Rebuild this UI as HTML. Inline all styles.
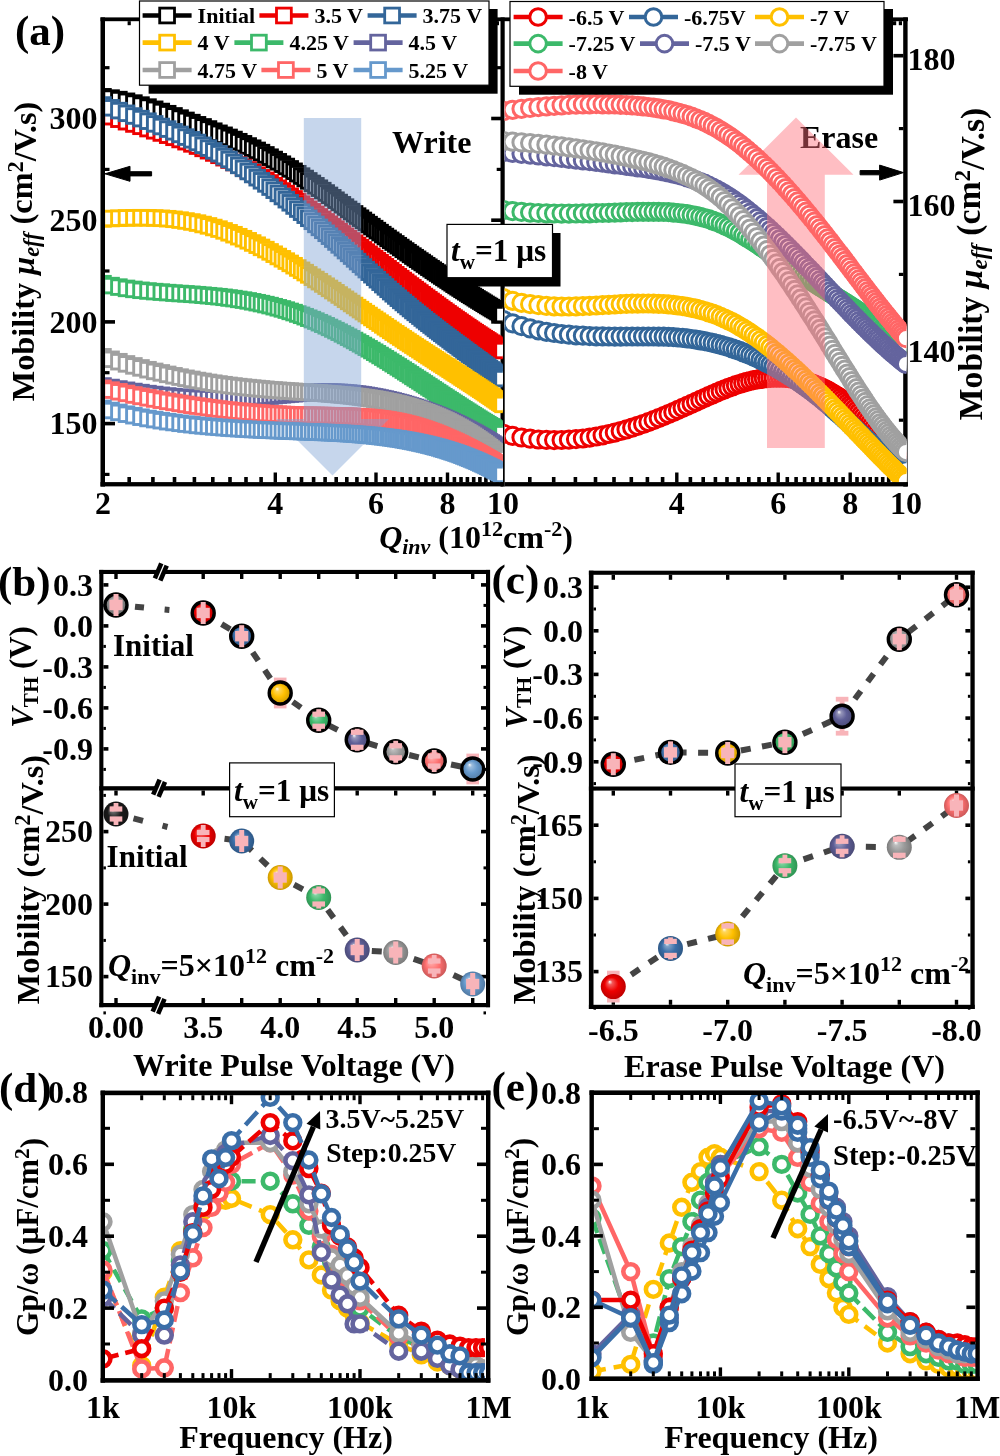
<!DOCTYPE html><html><head><meta charset="utf-8"><style>html,body{margin:0;padding:0;background:#fff;}svg{display:block;font-family:"Liberation Serif",serif;will-change:transform;}</style></head><body><svg width="1000" height="1456" viewBox="0 0 1000 1456" font-family="Liberation Serif, serif" font-weight="bold"><defs>
<clipPath id="cl"><rect x="104" y="20" width="398.8" height="462.2"/></clipPath>
<clipPath id="cr"><rect x="504.6" y="20" width="401.8" height="462.2"/></clipPath>
</defs>
<rect x="273.6" y="472.5" width="3.4" height="10" fill="#000" />
<rect x="675.1" y="472.5" width="3.4" height="10" fill="#000" />
<rect x="374.3" y="472.5" width="3.4" height="10" fill="#000" />
<rect x="776.5" y="472.5" width="3.4" height="10" fill="#000" />
<rect x="445.8" y="472.5" width="3.4" height="10" fill="#000" />
<rect x="848.5" y="472.5" width="3.4" height="10" fill="#000" />
<rect x="127.4" y="477" width="3.6" height="5.5" fill="#000" />
<rect x="528" y="477" width="3.6" height="5.5" fill="#000" />
<rect x="151.1" y="477" width="3.6" height="5.5" fill="#000" />
<rect x="551.9" y="477" width="3.6" height="5.5" fill="#000" />
<rect x="172.7" y="477" width="3.6" height="5.5" fill="#000" />
<rect x="573.6" y="477" width="3.6" height="5.5" fill="#000" />
<rect x="192.6" y="477" width="3.6" height="5.5" fill="#000" />
<rect x="593.7" y="477" width="3.6" height="5.5" fill="#000" />
<rect x="211" y="477" width="3.6" height="5.5" fill="#000" />
<rect x="612.2" y="477" width="3.6" height="5.5" fill="#000" />
<rect x="228.2" y="477" width="3.6" height="5.5" fill="#000" />
<rect x="629.5" y="477" width="3.6" height="5.5" fill="#000" />
<rect x="244.2" y="477" width="3.6" height="5.5" fill="#000" />
<rect x="645.6" y="477" width="3.6" height="5.5" fill="#000" />
<rect x="259.3" y="477" width="3.6" height="5.5" fill="#000" />
<rect x="660.8" y="477" width="3.6" height="5.5" fill="#000" />
<rect x="286.9" y="477" width="3.6" height="5.5" fill="#000" />
<rect x="688.6" y="477" width="3.6" height="5.5" fill="#000" />
<rect x="299.7" y="477" width="3.6" height="5.5" fill="#000" />
<rect x="701.4" y="477" width="3.6" height="5.5" fill="#000" />
<rect x="311.8" y="477" width="3.6" height="5.5" fill="#000" />
<rect x="713.6" y="477" width="3.6" height="5.5" fill="#000" />
<rect x="323.3" y="477" width="3.6" height="5.5" fill="#000" />
<rect x="725.2" y="477" width="3.6" height="5.5" fill="#000" />
<rect x="334.4" y="477" width="3.6" height="5.5" fill="#000" />
<rect x="736.3" y="477" width="3.6" height="5.5" fill="#000" />
<rect x="345" y="477" width="3.6" height="5.5" fill="#000" />
<rect x="747" y="477" width="3.6" height="5.5" fill="#000" />
<rect x="355.1" y="477" width="3.6" height="5.5" fill="#000" />
<rect x="757.2" y="477" width="3.6" height="5.5" fill="#000" />
<rect x="364.9" y="477" width="3.6" height="5.5" fill="#000" />
<rect x="767" y="477" width="3.6" height="5.5" fill="#000" />
<rect x="383.3" y="477" width="3.6" height="5.5" fill="#000" />
<rect x="785.5" y="477" width="3.6" height="5.5" fill="#000" />
<rect x="392" y="477" width="3.6" height="5.5" fill="#000" />
<rect x="794.3" y="477" width="3.6" height="5.5" fill="#000" />
<rect x="400.4" y="477" width="3.6" height="5.5" fill="#000" />
<rect x="802.8" y="477" width="3.6" height="5.5" fill="#000" />
<rect x="408.6" y="477" width="3.6" height="5.5" fill="#000" />
<rect x="811" y="477" width="3.6" height="5.5" fill="#000" />
<rect x="416.5" y="477" width="3.6" height="5.5" fill="#000" />
<rect x="818.9" y="477" width="3.6" height="5.5" fill="#000" />
<rect x="424.1" y="477" width="3.6" height="5.5" fill="#000" />
<rect x="826.6" y="477" width="3.6" height="5.5" fill="#000" />
<rect x="431.5" y="477" width="3.6" height="5.5" fill="#000" />
<rect x="834.1" y="477" width="3.6" height="5.5" fill="#000" />
<rect x="438.7" y="477" width="3.6" height="5.5" fill="#000" />
<rect x="841.3" y="477" width="3.6" height="5.5" fill="#000" />
<rect x="452.6" y="477" width="3.6" height="5.5" fill="#000" />
<rect x="855.2" y="477" width="3.6" height="5.5" fill="#000" />
<rect x="459.2" y="477" width="3.6" height="5.5" fill="#000" />
<rect x="861.9" y="477" width="3.6" height="5.5" fill="#000" />
<rect x="465.6" y="477" width="3.6" height="5.5" fill="#000" />
<rect x="868.4" y="477" width="3.6" height="5.5" fill="#000" />
<rect x="471.9" y="477" width="3.6" height="5.5" fill="#000" />
<rect x="874.7" y="477" width="3.6" height="5.5" fill="#000" />
<rect x="478.1" y="477" width="3.6" height="5.5" fill="#000" />
<rect x="880.9" y="477" width="3.6" height="5.5" fill="#000" />
<rect x="484.1" y="477" width="3.6" height="5.5" fill="#000" />
<rect x="886.9" y="477" width="3.6" height="5.5" fill="#000" />
<rect x="489.9" y="477" width="3.6" height="5.5" fill="#000" />
<rect x="892.8" y="477" width="3.6" height="5.5" fill="#000" />
<rect x="495.6" y="477" width="3.6" height="5.5" fill="#000" />
<rect x="898.6" y="477" width="3.6" height="5.5" fill="#000" />
<rect x="105" y="421.8" width="10" height="3.6" fill="#000" />
<rect x="491.2" y="421.8" width="10" height="3.6" fill="#000" />
<rect x="105" y="320.1" width="10" height="3.6" fill="#000" />
<rect x="491.2" y="320.1" width="10" height="3.6" fill="#000" />
<rect x="105" y="218.4" width="10" height="3.6" fill="#000" />
<rect x="491.2" y="218.4" width="10" height="3.6" fill="#000" />
<rect x="105" y="116.7" width="10" height="3.6" fill="#000" />
<rect x="491.2" y="116.7" width="10" height="3.6" fill="#000" />
<rect x="105" y="472.8" width="4.5" height="3.2" fill="#000" />
<rect x="496.7" y="472.8" width="4.5" height="3.2" fill="#000" />
<rect x="105" y="371.1" width="4.5" height="3.2" fill="#000" />
<rect x="496.7" y="371.1" width="4.5" height="3.2" fill="#000" />
<rect x="105" y="269.4" width="4.5" height="3.2" fill="#000" />
<rect x="496.7" y="269.4" width="4.5" height="3.2" fill="#000" />
<rect x="105" y="167.8" width="4.5" height="3.2" fill="#000" />
<rect x="496.7" y="167.8" width="4.5" height="3.2" fill="#000" />
<rect x="105" y="66.1" width="4.5" height="3.2" fill="#000" />
<rect x="496.7" y="66.1" width="4.5" height="3.2" fill="#000" />
<rect x="893.4" y="345.5" width="10" height="3.6" fill="#000" />
<rect x="893.4" y="199.7" width="10" height="3.6" fill="#000" />
<rect x="893.4" y="53.9" width="10" height="3.6" fill="#000" />
<rect x="898.9" y="418.6" width="4.5" height="3.2" fill="#000" />
<rect x="898.9" y="272.8" width="4.5" height="3.2" fill="#000" />
<rect x="898.9" y="127" width="4.5" height="3.2" fill="#000" />
<rect x="127.6" y="21.2" width="3.2" height="4" fill="#000" />
<rect x="528.2" y="21.2" width="3.2" height="4" fill="#000" />
<rect x="151.3" y="21.2" width="3.2" height="4" fill="#000" />
<rect x="552.1" y="21.2" width="3.2" height="4" fill="#000" />
<rect x="172.9" y="21.2" width="3.2" height="4" fill="#000" />
<rect x="573.8" y="21.2" width="3.2" height="4" fill="#000" />
<rect x="192.8" y="21.2" width="3.2" height="4" fill="#000" />
<rect x="593.9" y="21.2" width="3.2" height="4" fill="#000" />
<rect x="211.2" y="21.2" width="3.2" height="4" fill="#000" />
<rect x="612.4" y="21.2" width="3.2" height="4" fill="#000" />
<rect x="228.4" y="21.2" width="3.2" height="4" fill="#000" />
<rect x="629.7" y="21.2" width="3.2" height="4" fill="#000" />
<rect x="244.4" y="21.2" width="3.2" height="4" fill="#000" />
<rect x="645.8" y="21.2" width="3.2" height="4" fill="#000" />
<rect x="259.5" y="21.2" width="3.2" height="4" fill="#000" />
<rect x="661" y="21.2" width="3.2" height="4" fill="#000" />
<rect x="287.1" y="21.2" width="3.2" height="4" fill="#000" />
<rect x="688.8" y="21.2" width="3.2" height="4" fill="#000" />
<rect x="299.9" y="21.2" width="3.2" height="4" fill="#000" />
<rect x="701.6" y="21.2" width="3.2" height="4" fill="#000" />
<rect x="312" y="21.2" width="3.2" height="4" fill="#000" />
<rect x="713.8" y="21.2" width="3.2" height="4" fill="#000" />
<rect x="323.5" y="21.2" width="3.2" height="4" fill="#000" />
<rect x="725.4" y="21.2" width="3.2" height="4" fill="#000" />
<rect x="334.6" y="21.2" width="3.2" height="4" fill="#000" />
<rect x="736.5" y="21.2" width="3.2" height="4" fill="#000" />
<rect x="345.2" y="21.2" width="3.2" height="4" fill="#000" />
<rect x="747.2" y="21.2" width="3.2" height="4" fill="#000" />
<rect x="355.3" y="21.2" width="3.2" height="4" fill="#000" />
<rect x="757.4" y="21.2" width="3.2" height="4" fill="#000" />
<rect x="365.1" y="21.2" width="3.2" height="4" fill="#000" />
<rect x="767.2" y="21.2" width="3.2" height="4" fill="#000" />
<rect x="383.5" y="21.2" width="3.2" height="4" fill="#000" />
<rect x="785.7" y="21.2" width="3.2" height="4" fill="#000" />
<rect x="392.2" y="21.2" width="3.2" height="4" fill="#000" />
<rect x="794.5" y="21.2" width="3.2" height="4" fill="#000" />
<rect x="400.6" y="21.2" width="3.2" height="4" fill="#000" />
<rect x="803" y="21.2" width="3.2" height="4" fill="#000" />
<rect x="408.8" y="21.2" width="3.2" height="4" fill="#000" />
<rect x="811.2" y="21.2" width="3.2" height="4" fill="#000" />
<rect x="416.7" y="21.2" width="3.2" height="4" fill="#000" />
<rect x="819.1" y="21.2" width="3.2" height="4" fill="#000" />
<rect x="424.3" y="21.2" width="3.2" height="4" fill="#000" />
<rect x="826.8" y="21.2" width="3.2" height="4" fill="#000" />
<rect x="431.7" y="21.2" width="3.2" height="4" fill="#000" />
<rect x="834.3" y="21.2" width="3.2" height="4" fill="#000" />
<rect x="438.9" y="21.2" width="3.2" height="4" fill="#000" />
<rect x="841.5" y="21.2" width="3.2" height="4" fill="#000" />
<rect x="452.8" y="21.2" width="3.2" height="4" fill="#000" />
<rect x="855.4" y="21.2" width="3.2" height="4" fill="#000" />
<rect x="459.4" y="21.2" width="3.2" height="4" fill="#000" />
<rect x="862.1" y="21.2" width="3.2" height="4" fill="#000" />
<rect x="465.8" y="21.2" width="3.2" height="4" fill="#000" />
<rect x="868.6" y="21.2" width="3.2" height="4" fill="#000" />
<rect x="472.1" y="21.2" width="3.2" height="4" fill="#000" />
<rect x="874.9" y="21.2" width="3.2" height="4" fill="#000" />
<rect x="478.3" y="21.2" width="3.2" height="4" fill="#000" />
<rect x="881.1" y="21.2" width="3.2" height="4" fill="#000" />
<rect x="484.3" y="21.2" width="3.2" height="4" fill="#000" />
<rect x="887.1" y="21.2" width="3.2" height="4" fill="#000" />
<rect x="490.1" y="21.2" width="3.2" height="4" fill="#000" />
<rect x="893" y="21.2" width="3.2" height="4" fill="#000" />
<rect x="495.8" y="21.2" width="3.2" height="4" fill="#000" />
<rect x="898.8" y="21.2" width="3.2" height="4" fill="#000" />
<rect x="500.5" y="17.4" width="4.2" height="469.2" fill="#000" />
<rect x="903.2" y="17.4" width="4.4" height="469.2" fill="#000" />
<g fill="#fff" stroke="#000000" stroke-width="2.9" clip-path="url(#cl)"><rect x="95.7" y="89.5" width="14.6" height="14.6"/><rect x="103.8" y="90.8" width="14.6" height="14.6"/><rect x="111.6" y="92.3" width="14.6" height="14.6"/><rect x="119.2" y="94" width="14.6" height="14.6"/><rect x="126.6" y="95.8" width="14.6" height="14.6"/><rect x="133.7" y="97.8" width="14.6" height="14.6"/><rect x="140.7" y="99.8" width="14.6" height="14.6"/><rect x="147.4" y="102" width="14.6" height="14.6"/><rect x="154" y="104.2" width="14.6" height="14.6"/><rect x="160.4" y="106.4" width="14.6" height="14.6"/><rect x="166.7" y="108.6" width="14.6" height="14.6"/><rect x="172.8" y="110.8" width="14.6" height="14.6"/><rect x="178.7" y="113.1" width="14.6" height="14.6"/><rect x="184.6" y="115.3" width="14.6" height="14.6"/><rect x="190.2" y="117.5" width="14.6" height="14.6"/><rect x="195.8" y="119.6" width="14.6" height="14.6"/><rect x="201.2" y="121.7" width="14.6" height="14.6"/><rect x="206.5" y="123.9" width="14.6" height="14.6"/><rect x="211.7" y="126" width="14.6" height="14.6"/><rect x="216.8" y="128" width="14.6" height="14.6"/><rect x="221.8" y="130.1" width="14.6" height="14.6"/><rect x="226.7" y="132.2" width="14.6" height="14.6"/><rect x="231.5" y="134.4" width="14.6" height="14.6"/><rect x="236.2" y="136.5" width="14.6" height="14.6"/><rect x="240.9" y="138.7" width="14.6" height="14.6"/><rect x="245.4" y="140.9" width="14.6" height="14.6"/><rect x="249.9" y="143.1" width="14.6" height="14.6"/><rect x="254.2" y="145.3" width="14.6" height="14.6"/><rect x="258.6" y="147.6" width="14.6" height="14.6"/><rect x="262.8" y="149.9" width="14.6" height="14.6"/><rect x="266.9" y="152.2" width="14.6" height="14.6"/><rect x="271" y="154.5" width="14.6" height="14.6"/><rect x="275.1" y="156.9" width="14.6" height="14.6"/><rect x="279" y="159.2" width="14.6" height="14.6"/><rect x="282.9" y="161.6" width="14.6" height="14.6"/><rect x="286.8" y="164" width="14.6" height="14.6"/><rect x="290.5" y="166.4" width="14.6" height="14.6"/><rect x="294.3" y="168.8" width="14.6" height="14.6"/><rect x="297.9" y="171.2" width="14.6" height="14.6"/><rect x="301.5" y="173.6" width="14.6" height="14.6"/><rect x="305.1" y="176.1" width="14.6" height="14.6"/><rect x="308.6" y="178.5" width="14.6" height="14.6"/><rect x="312.1" y="180.9" width="14.6" height="14.6"/><rect x="315.5" y="183.3" width="14.6" height="14.6"/><rect x="318.9" y="185.7" width="14.6" height="14.6"/><rect x="322.2" y="188.1" width="14.6" height="14.6"/><rect x="325.5" y="190.5" width="14.6" height="14.6"/><rect x="328.7" y="192.9" width="14.6" height="14.6"/><rect x="331.9" y="195.2" width="14.6" height="14.6"/><rect x="335.1" y="197.5" width="14.6" height="14.6"/><rect x="338.2" y="199.8" width="14.6" height="14.6"/><rect x="341.3" y="202.1" width="14.6" height="14.6"/><rect x="344.3" y="204.3" width="14.6" height="14.6"/><rect x="347.3" y="206.6" width="14.6" height="14.6"/><rect x="350.3" y="208.8" width="14.6" height="14.6"/><rect x="353.2" y="210.9" width="14.6" height="14.6"/><rect x="356.1" y="213.1" width="14.6" height="14.6"/><rect x="359" y="215.2" width="14.6" height="14.6"/><rect x="361.8" y="217.3" width="14.6" height="14.6"/><rect x="364.6" y="219.3" width="14.6" height="14.6"/><rect x="367.4" y="221.3" width="14.6" height="14.6"/><rect x="370.1" y="223.3" width="14.6" height="14.6"/><rect x="372.8" y="225.3" width="14.6" height="14.6"/><rect x="375.5" y="227.3" width="14.6" height="14.6"/><rect x="378.1" y="229.2" width="14.6" height="14.6"/><rect x="380.8" y="231.1" width="14.6" height="14.6"/><rect x="383.4" y="233" width="14.6" height="14.6"/><rect x="385.9" y="234.8" width="14.6" height="14.6"/><rect x="388.5" y="236.6" width="14.6" height="14.6"/><rect x="391" y="238.4" width="14.6" height="14.6"/><rect x="393.5" y="240.2" width="14.6" height="14.6"/><rect x="396" y="242" width="14.6" height="14.6"/><rect x="398.4" y="243.7" width="14.6" height="14.6"/><rect x="400.8" y="245.4" width="14.6" height="14.6"/><rect x="403.2" y="247.1" width="14.6" height="14.6"/><rect x="405.6" y="248.8" width="14.6" height="14.6"/><rect x="407.9" y="250.4" width="14.6" height="14.6"/><rect x="410.3" y="252" width="14.6" height="14.6"/><rect x="412.6" y="253.7" width="14.6" height="14.6"/><rect x="414.9" y="255.2" width="14.6" height="14.6"/><rect x="417.1" y="256.8" width="14.6" height="14.6"/><rect x="419.4" y="258.4" width="14.6" height="14.6"/><rect x="421.6" y="259.9" width="14.6" height="14.6"/><rect x="423.8" y="261.4" width="14.6" height="14.6"/><rect x="426" y="262.9" width="14.6" height="14.6"/><rect x="428.1" y="264.4" width="14.6" height="14.6"/><rect x="430.3" y="265.8" width="14.6" height="14.6"/><rect x="432.4" y="267.3" width="14.6" height="14.6"/><rect x="434.5" y="268.7" width="14.6" height="14.6"/><rect x="436.6" y="270.1" width="14.6" height="14.6"/><rect x="438.7" y="271.5" width="14.6" height="14.6"/><rect x="440.8" y="272.8" width="14.6" height="14.6"/><rect x="442.8" y="274.2" width="14.6" height="14.6"/><rect x="444.8" y="275.5" width="14.6" height="14.6"/><rect x="446.8" y="276.9" width="14.6" height="14.6"/><rect x="448.8" y="278.2" width="14.6" height="14.6"/><rect x="450.8" y="279.5" width="14.6" height="14.6"/><rect x="452.8" y="280.7" width="14.6" height="14.6"/><rect x="454.7" y="282" width="14.6" height="14.6"/><rect x="456.6" y="283.2" width="14.6" height="14.6"/><rect x="458.5" y="284.5" width="14.6" height="14.6"/><rect x="460.5" y="285.7" width="14.6" height="14.6"/><rect x="462.3" y="286.9" width="14.6" height="14.6"/><rect x="464.2" y="288.1" width="14.6" height="14.6"/><rect x="466.1" y="289.2" width="14.6" height="14.6"/><rect x="467.9" y="290.4" width="14.6" height="14.6"/><rect x="469.7" y="291.6" width="14.6" height="14.6"/><rect x="471.6" y="292.7" width="14.6" height="14.6"/><rect x="473.4" y="293.8" width="14.6" height="14.6"/><rect x="475.2" y="294.9" width="14.6" height="14.6"/><rect x="476.9" y="296" width="14.6" height="14.6"/><rect x="478.7" y="297.1" width="14.6" height="14.6"/><rect x="480.5" y="298.2" width="14.6" height="14.6"/><rect x="482.2" y="299.2" width="14.6" height="14.6"/><rect x="483.9" y="300.3" width="14.6" height="14.6"/><rect x="485.6" y="301.3" width="14.6" height="14.6"/><rect x="487.3" y="302.3" width="14.6" height="14.6"/><rect x="489" y="303.3" width="14.6" height="14.6"/><rect x="490.7" y="304.3" width="14.6" height="14.6"/><rect x="492.4" y="305.3" width="14.6" height="14.6"/><rect x="494.1" y="306.3" width="14.6" height="14.6"/><rect x="495.7" y="307.3" width="14.6" height="14.6"/></g>
<g fill="#fff" stroke="#EE0000" stroke-width="2.9" clip-path="url(#cl)"><rect x="95.7" y="106.7" width="14.6" height="14.6"/><rect x="103.8" y="109.4" width="14.6" height="14.6"/><rect x="111.6" y="111.9" width="14.6" height="14.6"/><rect x="119.2" y="114.4" width="14.6" height="14.6"/><rect x="126.6" y="116.7" width="14.6" height="14.6"/><rect x="133.7" y="119" width="14.6" height="14.6"/><rect x="140.7" y="121.3" width="14.6" height="14.6"/><rect x="147.4" y="123.5" width="14.6" height="14.6"/><rect x="154" y="125.7" width="14.6" height="14.6"/><rect x="160.4" y="127.9" width="14.6" height="14.6"/><rect x="166.7" y="130" width="14.6" height="14.6"/><rect x="172.8" y="132.2" width="14.6" height="14.6"/><rect x="178.7" y="134.4" width="14.6" height="14.6"/><rect x="184.6" y="136.6" width="14.6" height="14.6"/><rect x="190.2" y="138.8" width="14.6" height="14.6"/><rect x="195.8" y="141.1" width="14.6" height="14.6"/><rect x="201.2" y="143.4" width="14.6" height="14.6"/><rect x="206.5" y="145.7" width="14.6" height="14.6"/><rect x="211.7" y="148" width="14.6" height="14.6"/><rect x="216.8" y="150.4" width="14.6" height="14.6"/><rect x="221.8" y="152.8" width="14.6" height="14.6"/><rect x="226.7" y="155.2" width="14.6" height="14.6"/><rect x="231.5" y="157.7" width="14.6" height="14.6"/><rect x="236.2" y="160.2" width="14.6" height="14.6"/><rect x="240.9" y="162.7" width="14.6" height="14.6"/><rect x="245.4" y="165.3" width="14.6" height="14.6"/><rect x="249.9" y="167.9" width="14.6" height="14.6"/><rect x="254.2" y="170.5" width="14.6" height="14.6"/><rect x="258.6" y="173.1" width="14.6" height="14.6"/><rect x="262.8" y="175.7" width="14.6" height="14.6"/><rect x="266.9" y="178.4" width="14.6" height="14.6"/><rect x="271" y="181" width="14.6" height="14.6"/><rect x="275.1" y="183.7" width="14.6" height="14.6"/><rect x="279" y="186.3" width="14.6" height="14.6"/><rect x="282.9" y="189" width="14.6" height="14.6"/><rect x="286.8" y="191.6" width="14.6" height="14.6"/><rect x="290.5" y="194.2" width="14.6" height="14.6"/><rect x="294.3" y="196.8" width="14.6" height="14.6"/><rect x="297.9" y="199.4" width="14.6" height="14.6"/><rect x="301.5" y="202" width="14.6" height="14.6"/><rect x="305.1" y="204.5" width="14.6" height="14.6"/><rect x="308.6" y="207.1" width="14.6" height="14.6"/><rect x="312.1" y="209.6" width="14.6" height="14.6"/><rect x="315.5" y="212.1" width="14.6" height="14.6"/><rect x="318.9" y="214.6" width="14.6" height="14.6"/><rect x="322.2" y="217" width="14.6" height="14.6"/><rect x="325.5" y="219.5" width="14.6" height="14.6"/><rect x="328.7" y="221.9" width="14.6" height="14.6"/><rect x="331.9" y="224.3" width="14.6" height="14.6"/><rect x="335.1" y="226.6" width="14.6" height="14.6"/><rect x="338.2" y="229" width="14.6" height="14.6"/><rect x="341.3" y="231.3" width="14.6" height="14.6"/><rect x="344.3" y="233.6" width="14.6" height="14.6"/><rect x="347.3" y="235.9" width="14.6" height="14.6"/><rect x="350.3" y="238.2" width="14.6" height="14.6"/><rect x="353.2" y="240.4" width="14.6" height="14.6"/><rect x="356.1" y="242.6" width="14.6" height="14.6"/><rect x="359" y="244.8" width="14.6" height="14.6"/><rect x="361.8" y="247" width="14.6" height="14.6"/><rect x="364.6" y="249.1" width="14.6" height="14.6"/><rect x="367.4" y="251.3" width="14.6" height="14.6"/><rect x="370.1" y="253.4" width="14.6" height="14.6"/><rect x="372.8" y="255.4" width="14.6" height="14.6"/><rect x="375.5" y="257.5" width="14.6" height="14.6"/><rect x="378.1" y="259.5" width="14.6" height="14.6"/><rect x="380.8" y="261.5" width="14.6" height="14.6"/><rect x="383.4" y="263.5" width="14.6" height="14.6"/><rect x="385.9" y="265.5" width="14.6" height="14.6"/><rect x="388.5" y="267.5" width="14.6" height="14.6"/><rect x="391" y="269.4" width="14.6" height="14.6"/><rect x="393.5" y="271.3" width="14.6" height="14.6"/><rect x="396" y="273.2" width="14.6" height="14.6"/><rect x="398.4" y="275" width="14.6" height="14.6"/><rect x="400.8" y="276.9" width="14.6" height="14.6"/><rect x="403.2" y="278.7" width="14.6" height="14.6"/><rect x="405.6" y="280.5" width="14.6" height="14.6"/><rect x="407.9" y="282.3" width="14.6" height="14.6"/><rect x="410.3" y="284" width="14.6" height="14.6"/><rect x="412.6" y="285.7" width="14.6" height="14.6"/><rect x="414.9" y="287.5" width="14.6" height="14.6"/><rect x="417.1" y="289.2" width="14.6" height="14.6"/><rect x="419.4" y="290.8" width="14.6" height="14.6"/><rect x="421.6" y="292.5" width="14.6" height="14.6"/><rect x="423.8" y="294.1" width="14.6" height="14.6"/><rect x="426" y="295.7" width="14.6" height="14.6"/><rect x="428.1" y="297.3" width="14.6" height="14.6"/><rect x="430.3" y="298.9" width="14.6" height="14.6"/><rect x="432.4" y="300.5" width="14.6" height="14.6"/><rect x="434.5" y="302" width="14.6" height="14.6"/><rect x="436.6" y="303.5" width="14.6" height="14.6"/><rect x="438.7" y="305" width="14.6" height="14.6"/><rect x="440.8" y="306.5" width="14.6" height="14.6"/><rect x="442.8" y="308" width="14.6" height="14.6"/><rect x="444.8" y="309.4" width="14.6" height="14.6"/><rect x="446.8" y="310.8" width="14.6" height="14.6"/><rect x="448.8" y="312.2" width="14.6" height="14.6"/><rect x="450.8" y="313.6" width="14.6" height="14.6"/><rect x="452.8" y="315" width="14.6" height="14.6"/><rect x="454.7" y="316.4" width="14.6" height="14.6"/><rect x="456.6" y="317.7" width="14.6" height="14.6"/><rect x="458.5" y="319" width="14.6" height="14.6"/><rect x="460.5" y="320.3" width="14.6" height="14.6"/><rect x="462.3" y="321.6" width="14.6" height="14.6"/><rect x="464.2" y="322.9" width="14.6" height="14.6"/><rect x="466.1" y="324.2" width="14.6" height="14.6"/><rect x="467.9" y="325.4" width="14.6" height="14.6"/><rect x="469.7" y="326.6" width="14.6" height="14.6"/><rect x="471.6" y="327.8" width="14.6" height="14.6"/><rect x="473.4" y="329" width="14.6" height="14.6"/><rect x="475.2" y="330.2" width="14.6" height="14.6"/><rect x="476.9" y="331.4" width="14.6" height="14.6"/><rect x="478.7" y="332.5" width="14.6" height="14.6"/><rect x="480.5" y="333.6" width="14.6" height="14.6"/><rect x="482.2" y="334.8" width="14.6" height="14.6"/><rect x="483.9" y="335.9" width="14.6" height="14.6"/><rect x="485.6" y="336.9" width="14.6" height="14.6"/><rect x="487.3" y="338" width="14.6" height="14.6"/><rect x="489" y="339.1" width="14.6" height="14.6"/><rect x="490.7" y="340.1" width="14.6" height="14.6"/><rect x="492.4" y="341.2" width="14.6" height="14.6"/><rect x="494.1" y="342.2" width="14.6" height="14.6"/><rect x="495.7" y="343.2" width="14.6" height="14.6"/></g>
<g fill="#fff" stroke="#336699" stroke-width="2.9" clip-path="url(#cl)"><rect x="95.7" y="97.7" width="14.6" height="14.6"/><rect x="103.8" y="100.5" width="14.6" height="14.6"/><rect x="111.6" y="103.3" width="14.6" height="14.6"/><rect x="119.2" y="106" width="14.6" height="14.6"/><rect x="126.6" y="108.7" width="14.6" height="14.6"/><rect x="133.7" y="111.3" width="14.6" height="14.6"/><rect x="140.7" y="113.9" width="14.6" height="14.6"/><rect x="147.4" y="116.6" width="14.6" height="14.6"/><rect x="154" y="119.2" width="14.6" height="14.6"/><rect x="160.4" y="121.8" width="14.6" height="14.6"/><rect x="166.7" y="124.5" width="14.6" height="14.6"/><rect x="172.8" y="127.1" width="14.6" height="14.6"/><rect x="178.7" y="129.8" width="14.6" height="14.6"/><rect x="184.6" y="132.5" width="14.6" height="14.6"/><rect x="190.2" y="135.2" width="14.6" height="14.6"/><rect x="195.8" y="138" width="14.6" height="14.6"/><rect x="201.2" y="140.8" width="14.6" height="14.6"/><rect x="206.5" y="143.6" width="14.6" height="14.6"/><rect x="211.7" y="146.4" width="14.6" height="14.6"/><rect x="216.8" y="149.3" width="14.6" height="14.6"/><rect x="221.8" y="152.2" width="14.6" height="14.6"/><rect x="226.7" y="155.2" width="14.6" height="14.6"/><rect x="231.5" y="158.1" width="14.6" height="14.6"/><rect x="236.2" y="161.1" width="14.6" height="14.6"/><rect x="240.9" y="164.2" width="14.6" height="14.6"/><rect x="245.4" y="167.2" width="14.6" height="14.6"/><rect x="249.9" y="170.4" width="14.6" height="14.6"/><rect x="254.2" y="173.5" width="14.6" height="14.6"/><rect x="258.6" y="176.6" width="14.6" height="14.6"/><rect x="262.8" y="179.8" width="14.6" height="14.6"/><rect x="266.9" y="182.9" width="14.6" height="14.6"/><rect x="271" y="186.1" width="14.6" height="14.6"/><rect x="275.1" y="189.2" width="14.6" height="14.6"/><rect x="279" y="192.4" width="14.6" height="14.6"/><rect x="282.9" y="195.5" width="14.6" height="14.6"/><rect x="286.8" y="198.7" width="14.6" height="14.6"/><rect x="290.5" y="201.8" width="14.6" height="14.6"/><rect x="294.3" y="204.9" width="14.6" height="14.6"/><rect x="297.9" y="207.9" width="14.6" height="14.6"/><rect x="301.5" y="211" width="14.6" height="14.6"/><rect x="305.1" y="214" width="14.6" height="14.6"/><rect x="308.6" y="217.1" width="14.6" height="14.6"/><rect x="312.1" y="220.1" width="14.6" height="14.6"/><rect x="315.5" y="223" width="14.6" height="14.6"/><rect x="318.9" y="226" width="14.6" height="14.6"/><rect x="322.2" y="228.9" width="14.6" height="14.6"/><rect x="325.5" y="231.8" width="14.6" height="14.6"/><rect x="328.7" y="234.7" width="14.6" height="14.6"/><rect x="331.9" y="237.6" width="14.6" height="14.6"/><rect x="335.1" y="240.4" width="14.6" height="14.6"/><rect x="338.2" y="243.3" width="14.6" height="14.6"/><rect x="341.3" y="246.1" width="14.6" height="14.6"/><rect x="344.3" y="248.8" width="14.6" height="14.6"/><rect x="347.3" y="251.6" width="14.6" height="14.6"/><rect x="350.3" y="254.3" width="14.6" height="14.6"/><rect x="353.2" y="257" width="14.6" height="14.6"/><rect x="356.1" y="259.6" width="14.6" height="14.6"/><rect x="359" y="262.3" width="14.6" height="14.6"/><rect x="361.8" y="264.9" width="14.6" height="14.6"/><rect x="364.6" y="267.4" width="14.6" height="14.6"/><rect x="367.4" y="269.9" width="14.6" height="14.6"/><rect x="370.1" y="272.4" width="14.6" height="14.6"/><rect x="372.8" y="274.9" width="14.6" height="14.6"/><rect x="375.5" y="277.3" width="14.6" height="14.6"/><rect x="378.1" y="279.6" width="14.6" height="14.6"/><rect x="380.8" y="282" width="14.6" height="14.6"/><rect x="383.4" y="284.3" width="14.6" height="14.6"/><rect x="385.9" y="286.5" width="14.6" height="14.6"/><rect x="388.5" y="288.7" width="14.6" height="14.6"/><rect x="391" y="290.9" width="14.6" height="14.6"/><rect x="393.5" y="293.1" width="14.6" height="14.6"/><rect x="396" y="295.2" width="14.6" height="14.6"/><rect x="398.4" y="297.2" width="14.6" height="14.6"/><rect x="400.8" y="299.2" width="14.6" height="14.6"/><rect x="403.2" y="301.2" width="14.6" height="14.6"/><rect x="405.6" y="303.2" width="14.6" height="14.6"/><rect x="407.9" y="305.1" width="14.6" height="14.6"/><rect x="410.3" y="307" width="14.6" height="14.6"/><rect x="412.6" y="308.8" width="14.6" height="14.6"/><rect x="414.9" y="310.7" width="14.6" height="14.6"/><rect x="417.1" y="312.5" width="14.6" height="14.6"/><rect x="419.4" y="314.3" width="14.6" height="14.6"/><rect x="421.6" y="316" width="14.6" height="14.6"/><rect x="423.8" y="317.7" width="14.6" height="14.6"/><rect x="426" y="319.4" width="14.6" height="14.6"/><rect x="428.1" y="321.1" width="14.6" height="14.6"/><rect x="430.3" y="322.8" width="14.6" height="14.6"/><rect x="432.4" y="324.4" width="14.6" height="14.6"/><rect x="434.5" y="326" width="14.6" height="14.6"/><rect x="436.6" y="327.6" width="14.6" height="14.6"/><rect x="438.7" y="329.2" width="14.6" height="14.6"/><rect x="440.8" y="330.7" width="14.6" height="14.6"/><rect x="442.8" y="332.3" width="14.6" height="14.6"/><rect x="444.8" y="333.8" width="14.6" height="14.6"/><rect x="446.8" y="335.3" width="14.6" height="14.6"/><rect x="448.8" y="336.8" width="14.6" height="14.6"/><rect x="450.8" y="338.2" width="14.6" height="14.6"/><rect x="452.8" y="339.7" width="14.6" height="14.6"/><rect x="454.7" y="341.1" width="14.6" height="14.6"/><rect x="456.6" y="342.6" width="14.6" height="14.6"/><rect x="458.5" y="344" width="14.6" height="14.6"/><rect x="460.5" y="345.4" width="14.6" height="14.6"/><rect x="462.3" y="346.8" width="14.6" height="14.6"/><rect x="464.2" y="348.2" width="14.6" height="14.6"/><rect x="466.1" y="349.5" width="14.6" height="14.6"/><rect x="467.9" y="350.9" width="14.6" height="14.6"/><rect x="469.7" y="352.2" width="14.6" height="14.6"/><rect x="471.6" y="353.5" width="14.6" height="14.6"/><rect x="473.4" y="354.9" width="14.6" height="14.6"/><rect x="475.2" y="356.2" width="14.6" height="14.6"/><rect x="476.9" y="357.5" width="14.6" height="14.6"/><rect x="478.7" y="358.8" width="14.6" height="14.6"/><rect x="480.5" y="360.1" width="14.6" height="14.6"/><rect x="482.2" y="361.3" width="14.6" height="14.6"/><rect x="483.9" y="362.6" width="14.6" height="14.6"/><rect x="485.6" y="363.9" width="14.6" height="14.6"/><rect x="487.3" y="365.1" width="14.6" height="14.6"/><rect x="489" y="366.4" width="14.6" height="14.6"/><rect x="490.7" y="367.6" width="14.6" height="14.6"/><rect x="492.4" y="368.9" width="14.6" height="14.6"/><rect x="494.1" y="370.1" width="14.6" height="14.6"/><rect x="495.7" y="371.3" width="14.6" height="14.6"/></g>
<g fill="#fff" stroke="#FFC000" stroke-width="2.9" clip-path="url(#cl)"><rect x="95.7" y="211.6" width="14.6" height="14.6"/><rect x="103.8" y="211.2" width="14.6" height="14.6"/><rect x="111.6" y="210.9" width="14.6" height="14.6"/><rect x="119.2" y="210.6" width="14.6" height="14.6"/><rect x="126.6" y="210.5" width="14.6" height="14.6"/><rect x="133.7" y="210.4" width="14.6" height="14.6"/><rect x="140.7" y="210.5" width="14.6" height="14.6"/><rect x="147.4" y="210.7" width="14.6" height="14.6"/><rect x="154" y="211" width="14.6" height="14.6"/><rect x="160.4" y="211.4" width="14.6" height="14.6"/><rect x="166.7" y="212" width="14.6" height="14.6"/><rect x="172.8" y="212.8" width="14.6" height="14.6"/><rect x="178.7" y="213.7" width="14.6" height="14.6"/><rect x="184.6" y="214.7" width="14.6" height="14.6"/><rect x="190.2" y="215.8" width="14.6" height="14.6"/><rect x="195.8" y="217.2" width="14.6" height="14.6"/><rect x="201.2" y="218.6" width="14.6" height="14.6"/><rect x="206.5" y="220.2" width="14.6" height="14.6"/><rect x="211.7" y="221.8" width="14.6" height="14.6"/><rect x="216.8" y="223.6" width="14.6" height="14.6"/><rect x="221.8" y="225.5" width="14.6" height="14.6"/><rect x="226.7" y="227.4" width="14.6" height="14.6"/><rect x="231.5" y="229.4" width="14.6" height="14.6"/><rect x="236.2" y="231.4" width="14.6" height="14.6"/><rect x="240.9" y="233.5" width="14.6" height="14.6"/><rect x="245.4" y="235.7" width="14.6" height="14.6"/><rect x="249.9" y="237.9" width="14.6" height="14.6"/><rect x="254.2" y="240.1" width="14.6" height="14.6"/><rect x="258.6" y="242.3" width="14.6" height="14.6"/><rect x="262.8" y="244.6" width="14.6" height="14.6"/><rect x="266.9" y="246.9" width="14.6" height="14.6"/><rect x="271" y="249.2" width="14.6" height="14.6"/><rect x="275.1" y="251.5" width="14.6" height="14.6"/><rect x="279" y="253.8" width="14.6" height="14.6"/><rect x="282.9" y="256.1" width="14.6" height="14.6"/><rect x="286.8" y="258.4" width="14.6" height="14.6"/><rect x="290.5" y="260.7" width="14.6" height="14.6"/><rect x="294.3" y="263" width="14.6" height="14.6"/><rect x="297.9" y="265.3" width="14.6" height="14.6"/><rect x="301.5" y="267.6" width="14.6" height="14.6"/><rect x="305.1" y="269.9" width="14.6" height="14.6"/><rect x="308.6" y="272.2" width="14.6" height="14.6"/><rect x="312.1" y="274.4" width="14.6" height="14.6"/><rect x="315.5" y="276.7" width="14.6" height="14.6"/><rect x="318.9" y="278.9" width="14.6" height="14.6"/><rect x="322.2" y="281.1" width="14.6" height="14.6"/><rect x="325.5" y="283.3" width="14.6" height="14.6"/><rect x="328.7" y="285.5" width="14.6" height="14.6"/><rect x="331.9" y="287.7" width="14.6" height="14.6"/><rect x="335.1" y="289.8" width="14.6" height="14.6"/><rect x="338.2" y="292" width="14.6" height="14.6"/><rect x="341.3" y="294.1" width="14.6" height="14.6"/><rect x="344.3" y="296.2" width="14.6" height="14.6"/><rect x="347.3" y="298.2" width="14.6" height="14.6"/><rect x="350.3" y="300.3" width="14.6" height="14.6"/><rect x="353.2" y="302.3" width="14.6" height="14.6"/><rect x="356.1" y="304.3" width="14.6" height="14.6"/><rect x="359" y="306.3" width="14.6" height="14.6"/><rect x="361.8" y="308.2" width="14.6" height="14.6"/><rect x="364.6" y="310.2" width="14.6" height="14.6"/><rect x="367.4" y="312.1" width="14.6" height="14.6"/><rect x="370.1" y="313.9" width="14.6" height="14.6"/><rect x="372.8" y="315.8" width="14.6" height="14.6"/><rect x="375.5" y="317.6" width="14.6" height="14.6"/><rect x="378.1" y="319.5" width="14.6" height="14.6"/><rect x="380.8" y="321.2" width="14.6" height="14.6"/><rect x="383.4" y="323" width="14.6" height="14.6"/><rect x="385.9" y="324.8" width="14.6" height="14.6"/><rect x="388.5" y="326.5" width="14.6" height="14.6"/><rect x="391" y="328.2" width="14.6" height="14.6"/><rect x="393.5" y="329.8" width="14.6" height="14.6"/><rect x="396" y="331.5" width="14.6" height="14.6"/><rect x="398.4" y="333.1" width="14.6" height="14.6"/><rect x="400.8" y="334.7" width="14.6" height="14.6"/><rect x="403.2" y="336.3" width="14.6" height="14.6"/><rect x="405.6" y="337.8" width="14.6" height="14.6"/><rect x="407.9" y="339.4" width="14.6" height="14.6"/><rect x="410.3" y="340.9" width="14.6" height="14.6"/><rect x="412.6" y="342.4" width="14.6" height="14.6"/><rect x="414.9" y="343.9" width="14.6" height="14.6"/><rect x="417.1" y="345.4" width="14.6" height="14.6"/><rect x="419.4" y="346.8" width="14.6" height="14.6"/><rect x="421.6" y="348.3" width="14.6" height="14.6"/><rect x="423.8" y="349.7" width="14.6" height="14.6"/><rect x="426" y="351.1" width="14.6" height="14.6"/><rect x="428.1" y="352.5" width="14.6" height="14.6"/><rect x="430.3" y="353.9" width="14.6" height="14.6"/><rect x="432.4" y="355.3" width="14.6" height="14.6"/><rect x="434.5" y="356.6" width="14.6" height="14.6"/><rect x="436.6" y="358" width="14.6" height="14.6"/><rect x="438.7" y="359.3" width="14.6" height="14.6"/><rect x="440.8" y="360.6" width="14.6" height="14.6"/><rect x="442.8" y="361.9" width="14.6" height="14.6"/><rect x="444.8" y="363.3" width="14.6" height="14.6"/><rect x="446.8" y="364.6" width="14.6" height="14.6"/><rect x="448.8" y="365.8" width="14.6" height="14.6"/><rect x="450.8" y="367.1" width="14.6" height="14.6"/><rect x="452.8" y="368.4" width="14.6" height="14.6"/><rect x="454.7" y="369.7" width="14.6" height="14.6"/><rect x="456.6" y="370.9" width="14.6" height="14.6"/><rect x="458.5" y="372.2" width="14.6" height="14.6"/><rect x="460.5" y="373.4" width="14.6" height="14.6"/><rect x="462.3" y="374.6" width="14.6" height="14.6"/><rect x="464.2" y="375.9" width="14.6" height="14.6"/><rect x="466.1" y="377.1" width="14.6" height="14.6"/><rect x="467.9" y="378.3" width="14.6" height="14.6"/><rect x="469.7" y="379.5" width="14.6" height="14.6"/><rect x="471.6" y="380.7" width="14.6" height="14.6"/><rect x="473.4" y="381.9" width="14.6" height="14.6"/><rect x="475.2" y="383.1" width="14.6" height="14.6"/><rect x="476.9" y="384.3" width="14.6" height="14.6"/><rect x="478.7" y="385.5" width="14.6" height="14.6"/><rect x="480.5" y="386.7" width="14.6" height="14.6"/><rect x="482.2" y="387.8" width="14.6" height="14.6"/><rect x="483.9" y="389" width="14.6" height="14.6"/><rect x="485.6" y="390.2" width="14.6" height="14.6"/><rect x="487.3" y="391.4" width="14.6" height="14.6"/><rect x="489" y="392.5" width="14.6" height="14.6"/><rect x="490.7" y="393.7" width="14.6" height="14.6"/><rect x="492.4" y="394.8" width="14.6" height="14.6"/><rect x="494.1" y="396" width="14.6" height="14.6"/><rect x="495.7" y="397.1" width="14.6" height="14.6"/></g>
<g fill="#fff" stroke="#3CB96A" stroke-width="2.9" clip-path="url(#cl)"><rect x="95.7" y="276.4" width="14.6" height="14.6"/><rect x="103.8" y="278.3" width="14.6" height="14.6"/><rect x="111.6" y="279.8" width="14.6" height="14.6"/><rect x="119.2" y="281.1" width="14.6" height="14.6"/><rect x="126.6" y="282.1" width="14.6" height="14.6"/><rect x="133.7" y="283" width="14.6" height="14.6"/><rect x="140.7" y="283.7" width="14.6" height="14.6"/><rect x="147.4" y="284.3" width="14.6" height="14.6"/><rect x="154" y="284.8" width="14.6" height="14.6"/><rect x="160.4" y="285.3" width="14.6" height="14.6"/><rect x="166.7" y="285.8" width="14.6" height="14.6"/><rect x="172.8" y="286.2" width="14.6" height="14.6"/><rect x="178.7" y="286.6" width="14.6" height="14.6"/><rect x="184.6" y="287" width="14.6" height="14.6"/><rect x="190.2" y="287.4" width="14.6" height="14.6"/><rect x="195.8" y="287.9" width="14.6" height="14.6"/><rect x="201.2" y="288.4" width="14.6" height="14.6"/><rect x="206.5" y="288.9" width="14.6" height="14.6"/><rect x="211.7" y="289.4" width="14.6" height="14.6"/><rect x="216.8" y="290" width="14.6" height="14.6"/><rect x="221.8" y="290.7" width="14.6" height="14.6"/><rect x="226.7" y="291.3" width="14.6" height="14.6"/><rect x="231.5" y="292.1" width="14.6" height="14.6"/><rect x="236.2" y="292.8" width="14.6" height="14.6"/><rect x="240.9" y="293.6" width="14.6" height="14.6"/><rect x="245.4" y="294.5" width="14.6" height="14.6"/><rect x="249.9" y="295.4" width="14.6" height="14.6"/><rect x="254.2" y="296.3" width="14.6" height="14.6"/><rect x="258.6" y="297.3" width="14.6" height="14.6"/><rect x="262.8" y="298.3" width="14.6" height="14.6"/><rect x="266.9" y="299.4" width="14.6" height="14.6"/><rect x="271" y="300.5" width="14.6" height="14.6"/><rect x="275.1" y="301.6" width="14.6" height="14.6"/><rect x="279" y="302.8" width="14.6" height="14.6"/><rect x="282.9" y="304.1" width="14.6" height="14.6"/><rect x="286.8" y="305.3" width="14.6" height="14.6"/><rect x="290.5" y="306.7" width="14.6" height="14.6"/><rect x="294.3" y="308" width="14.6" height="14.6"/><rect x="297.9" y="309.4" width="14.6" height="14.6"/><rect x="301.5" y="310.9" width="14.6" height="14.6"/><rect x="305.1" y="312.3" width="14.6" height="14.6"/><rect x="308.6" y="313.8" width="14.6" height="14.6"/><rect x="312.1" y="315.4" width="14.6" height="14.6"/><rect x="315.5" y="316.9" width="14.6" height="14.6"/><rect x="318.9" y="318.5" width="14.6" height="14.6"/><rect x="322.2" y="320.1" width="14.6" height="14.6"/><rect x="325.5" y="321.7" width="14.6" height="14.6"/><rect x="328.7" y="323.3" width="14.6" height="14.6"/><rect x="331.9" y="324.9" width="14.6" height="14.6"/><rect x="335.1" y="326.6" width="14.6" height="14.6"/><rect x="338.2" y="328.2" width="14.6" height="14.6"/><rect x="341.3" y="329.9" width="14.6" height="14.6"/><rect x="344.3" y="331.5" width="14.6" height="14.6"/><rect x="347.3" y="333.2" width="14.6" height="14.6"/><rect x="350.3" y="334.9" width="14.6" height="14.6"/><rect x="353.2" y="336.5" width="14.6" height="14.6"/><rect x="356.1" y="338.2" width="14.6" height="14.6"/><rect x="359" y="339.9" width="14.6" height="14.6"/><rect x="361.8" y="341.5" width="14.6" height="14.6"/><rect x="364.6" y="343.2" width="14.6" height="14.6"/><rect x="367.4" y="344.9" width="14.6" height="14.6"/><rect x="370.1" y="346.5" width="14.6" height="14.6"/><rect x="372.8" y="348.2" width="14.6" height="14.6"/><rect x="375.5" y="349.8" width="14.6" height="14.6"/><rect x="378.1" y="351.5" width="14.6" height="14.6"/><rect x="380.8" y="353.1" width="14.6" height="14.6"/><rect x="383.4" y="354.8" width="14.6" height="14.6"/><rect x="385.9" y="356.4" width="14.6" height="14.6"/><rect x="388.5" y="358" width="14.6" height="14.6"/><rect x="391" y="359.6" width="14.6" height="14.6"/><rect x="393.5" y="361.2" width="14.6" height="14.6"/><rect x="396" y="362.8" width="14.6" height="14.6"/><rect x="398.4" y="364.4" width="14.6" height="14.6"/><rect x="400.8" y="365.9" width="14.6" height="14.6"/><rect x="403.2" y="367.5" width="14.6" height="14.6"/><rect x="405.6" y="369.1" width="14.6" height="14.6"/><rect x="407.9" y="370.6" width="14.6" height="14.6"/><rect x="410.3" y="372.1" width="14.6" height="14.6"/><rect x="412.6" y="373.6" width="14.6" height="14.6"/><rect x="414.9" y="375.1" width="14.6" height="14.6"/><rect x="417.1" y="376.6" width="14.6" height="14.6"/><rect x="419.4" y="378.1" width="14.6" height="14.6"/><rect x="421.6" y="379.6" width="14.6" height="14.6"/><rect x="423.8" y="381" width="14.6" height="14.6"/><rect x="426" y="382.5" width="14.6" height="14.6"/><rect x="428.1" y="383.9" width="14.6" height="14.6"/><rect x="430.3" y="385.3" width="14.6" height="14.6"/><rect x="432.4" y="386.7" width="14.6" height="14.6"/><rect x="434.5" y="388.1" width="14.6" height="14.6"/><rect x="436.6" y="389.5" width="14.6" height="14.6"/><rect x="438.7" y="390.8" width="14.6" height="14.6"/><rect x="440.8" y="392.2" width="14.6" height="14.6"/><rect x="442.8" y="393.5" width="14.6" height="14.6"/><rect x="444.8" y="394.8" width="14.6" height="14.6"/><rect x="446.8" y="396.1" width="14.6" height="14.6"/><rect x="448.8" y="397.4" width="14.6" height="14.6"/><rect x="450.8" y="398.7" width="14.6" height="14.6"/><rect x="452.8" y="400" width="14.6" height="14.6"/><rect x="454.7" y="401.3" width="14.6" height="14.6"/><rect x="456.6" y="402.5" width="14.6" height="14.6"/><rect x="458.5" y="403.7" width="14.6" height="14.6"/><rect x="460.5" y="404.9" width="14.6" height="14.6"/><rect x="462.3" y="406.1" width="14.6" height="14.6"/><rect x="464.2" y="407.3" width="14.6" height="14.6"/><rect x="466.1" y="408.5" width="14.6" height="14.6"/><rect x="467.9" y="409.7" width="14.6" height="14.6"/><rect x="469.7" y="410.8" width="14.6" height="14.6"/><rect x="471.6" y="411.9" width="14.6" height="14.6"/><rect x="473.4" y="413.1" width="14.6" height="14.6"/><rect x="475.2" y="414.2" width="14.6" height="14.6"/><rect x="476.9" y="415.3" width="14.6" height="14.6"/><rect x="478.7" y="416.3" width="14.6" height="14.6"/><rect x="480.5" y="417.4" width="14.6" height="14.6"/><rect x="482.2" y="418.5" width="14.6" height="14.6"/><rect x="483.9" y="419.5" width="14.6" height="14.6"/><rect x="485.6" y="420.5" width="14.6" height="14.6"/><rect x="487.3" y="421.6" width="14.6" height="14.6"/><rect x="489" y="422.6" width="14.6" height="14.6"/><rect x="490.7" y="423.6" width="14.6" height="14.6"/><rect x="492.4" y="424.5" width="14.6" height="14.6"/><rect x="494.1" y="425.5" width="14.6" height="14.6"/><rect x="495.7" y="426.4" width="14.6" height="14.6"/></g>
<g fill="#fff" stroke="#64649E" stroke-width="2.9" clip-path="url(#cl)"><rect x="95.7" y="378.7" width="14.6" height="14.6"/><rect x="103.8" y="380.2" width="14.6" height="14.6"/><rect x="111.6" y="381.7" width="14.6" height="14.6"/><rect x="119.2" y="383" width="14.6" height="14.6"/><rect x="126.6" y="384.2" width="14.6" height="14.6"/><rect x="133.7" y="385.3" width="14.6" height="14.6"/><rect x="140.7" y="386.3" width="14.6" height="14.6"/><rect x="147.4" y="387.2" width="14.6" height="14.6"/><rect x="154" y="388" width="14.6" height="14.6"/><rect x="160.4" y="388.7" width="14.6" height="14.6"/><rect x="166.7" y="389.3" width="14.6" height="14.6"/><rect x="172.8" y="389.9" width="14.6" height="14.6"/><rect x="178.7" y="390.3" width="14.6" height="14.6"/><rect x="184.6" y="390.7" width="14.6" height="14.6"/><rect x="190.2" y="391" width="14.6" height="14.6"/><rect x="195.8" y="391.2" width="14.6" height="14.6"/><rect x="201.2" y="391.4" width="14.6" height="14.6"/><rect x="206.5" y="391.5" width="14.6" height="14.6"/><rect x="211.7" y="391.5" width="14.6" height="14.6"/><rect x="216.8" y="391.4" width="14.6" height="14.6"/><rect x="221.8" y="391.4" width="14.6" height="14.6"/><rect x="226.7" y="391.2" width="14.6" height="14.6"/><rect x="231.5" y="391" width="14.6" height="14.6"/><rect x="236.2" y="390.8" width="14.6" height="14.6"/><rect x="240.9" y="390.5" width="14.6" height="14.6"/><rect x="245.4" y="390.2" width="14.6" height="14.6"/><rect x="249.9" y="389.8" width="14.6" height="14.6"/><rect x="254.2" y="389.5" width="14.6" height="14.6"/><rect x="258.6" y="389.1" width="14.6" height="14.6"/><rect x="262.8" y="388.7" width="14.6" height="14.6"/><rect x="266.9" y="388.3" width="14.6" height="14.6"/><rect x="271" y="387.8" width="14.6" height="14.6"/><rect x="275.1" y="387.5" width="14.6" height="14.6"/><rect x="279" y="387.1" width="14.6" height="14.6"/><rect x="282.9" y="386.7" width="14.6" height="14.6"/><rect x="286.8" y="386.4" width="14.6" height="14.6"/><rect x="290.5" y="386.1" width="14.6" height="14.6"/><rect x="294.3" y="385.8" width="14.6" height="14.6"/><rect x="297.9" y="385.5" width="14.6" height="14.6"/><rect x="301.5" y="385.3" width="14.6" height="14.6"/><rect x="305.1" y="385.1" width="14.6" height="14.6"/><rect x="308.6" y="385" width="14.6" height="14.6"/><rect x="312.1" y="384.8" width="14.6" height="14.6"/><rect x="315.5" y="384.8" width="14.6" height="14.6"/><rect x="318.9" y="384.8" width="14.6" height="14.6"/><rect x="322.2" y="384.8" width="14.6" height="14.6"/><rect x="325.5" y="384.9" width="14.6" height="14.6"/><rect x="328.7" y="385" width="14.6" height="14.6"/><rect x="331.9" y="385.1" width="14.6" height="14.6"/><rect x="335.1" y="385.3" width="14.6" height="14.6"/><rect x="338.2" y="385.6" width="14.6" height="14.6"/><rect x="341.3" y="385.8" width="14.6" height="14.6"/><rect x="344.3" y="386.1" width="14.6" height="14.6"/><rect x="347.3" y="386.5" width="14.6" height="14.6"/><rect x="350.3" y="386.8" width="14.6" height="14.6"/><rect x="353.2" y="387.2" width="14.6" height="14.6"/><rect x="356.1" y="387.6" width="14.6" height="14.6"/><rect x="359" y="388.1" width="14.6" height="14.6"/><rect x="361.8" y="388.6" width="14.6" height="14.6"/><rect x="364.6" y="389.1" width="14.6" height="14.6"/><rect x="367.4" y="389.6" width="14.6" height="14.6"/><rect x="370.1" y="390.1" width="14.6" height="14.6"/><rect x="372.8" y="390.7" width="14.6" height="14.6"/><rect x="375.5" y="391.3" width="14.6" height="14.6"/><rect x="378.1" y="391.8" width="14.6" height="14.6"/><rect x="380.8" y="392.5" width="14.6" height="14.6"/><rect x="383.4" y="393.1" width="14.6" height="14.6"/><rect x="385.9" y="393.7" width="14.6" height="14.6"/><rect x="388.5" y="394.4" width="14.6" height="14.6"/><rect x="391" y="395.1" width="14.6" height="14.6"/><rect x="393.5" y="395.7" width="14.6" height="14.6"/><rect x="396" y="396.4" width="14.6" height="14.6"/><rect x="398.4" y="397.2" width="14.6" height="14.6"/><rect x="400.8" y="397.9" width="14.6" height="14.6"/><rect x="403.2" y="398.6" width="14.6" height="14.6"/><rect x="405.6" y="399.4" width="14.6" height="14.6"/><rect x="407.9" y="400.1" width="14.6" height="14.6"/><rect x="410.3" y="400.9" width="14.6" height="14.6"/><rect x="412.6" y="401.7" width="14.6" height="14.6"/><rect x="414.9" y="402.4" width="14.6" height="14.6"/><rect x="417.1" y="403.2" width="14.6" height="14.6"/><rect x="419.4" y="404.1" width="14.6" height="14.6"/><rect x="421.6" y="404.9" width="14.6" height="14.6"/><rect x="423.8" y="405.7" width="14.6" height="14.6"/><rect x="426" y="406.5" width="14.6" height="14.6"/><rect x="428.1" y="407.4" width="14.6" height="14.6"/><rect x="430.3" y="408.2" width="14.6" height="14.6"/><rect x="432.4" y="409.1" width="14.6" height="14.6"/><rect x="434.5" y="410" width="14.6" height="14.6"/><rect x="436.6" y="410.9" width="14.6" height="14.6"/><rect x="438.7" y="411.8" width="14.6" height="14.6"/><rect x="440.8" y="412.7" width="14.6" height="14.6"/><rect x="442.8" y="413.6" width="14.6" height="14.6"/><rect x="444.8" y="414.5" width="14.6" height="14.6"/><rect x="446.8" y="415.5" width="14.6" height="14.6"/><rect x="448.8" y="416.4" width="14.6" height="14.6"/><rect x="450.8" y="417.3" width="14.6" height="14.6"/><rect x="452.8" y="418.3" width="14.6" height="14.6"/><rect x="454.7" y="419.3" width="14.6" height="14.6"/><rect x="456.6" y="420.2" width="14.6" height="14.6"/><rect x="458.5" y="421.2" width="14.6" height="14.6"/><rect x="460.5" y="422.2" width="14.6" height="14.6"/><rect x="462.3" y="423.2" width="14.6" height="14.6"/><rect x="464.2" y="424.2" width="14.6" height="14.6"/><rect x="466.1" y="425.2" width="14.6" height="14.6"/><rect x="467.9" y="426.2" width="14.6" height="14.6"/><rect x="469.7" y="427.2" width="14.6" height="14.6"/><rect x="471.6" y="428.3" width="14.6" height="14.6"/><rect x="473.4" y="429.3" width="14.6" height="14.6"/><rect x="475.2" y="430.3" width="14.6" height="14.6"/><rect x="476.9" y="431.4" width="14.6" height="14.6"/><rect x="478.7" y="432.4" width="14.6" height="14.6"/><rect x="480.5" y="433.5" width="14.6" height="14.6"/><rect x="482.2" y="434.6" width="14.6" height="14.6"/><rect x="483.9" y="435.6" width="14.6" height="14.6"/><rect x="485.6" y="436.7" width="14.6" height="14.6"/><rect x="487.3" y="437.8" width="14.6" height="14.6"/><rect x="489" y="438.9" width="14.6" height="14.6"/><rect x="490.7" y="440" width="14.6" height="14.6"/><rect x="492.4" y="441.1" width="14.6" height="14.6"/><rect x="494.1" y="442.2" width="14.6" height="14.6"/><rect x="495.7" y="443.3" width="14.6" height="14.6"/></g>
<g fill="#fff" stroke="#A0A0A0" stroke-width="2.9" clip-path="url(#cl)"><rect x="95.7" y="349.5" width="14.6" height="14.6"/><rect x="103.8" y="352" width="14.6" height="14.6"/><rect x="111.6" y="354.4" width="14.6" height="14.6"/><rect x="119.2" y="356.6" width="14.6" height="14.6"/><rect x="126.6" y="358.6" width="14.6" height="14.6"/><rect x="133.7" y="360.6" width="14.6" height="14.6"/><rect x="140.7" y="362.4" width="14.6" height="14.6"/><rect x="147.4" y="364.1" width="14.6" height="14.6"/><rect x="154" y="365.6" width="14.6" height="14.6"/><rect x="160.4" y="367.1" width="14.6" height="14.6"/><rect x="166.7" y="368.5" width="14.6" height="14.6"/><rect x="172.8" y="369.8" width="14.6" height="14.6"/><rect x="178.7" y="371" width="14.6" height="14.6"/><rect x="184.6" y="372.1" width="14.6" height="14.6"/><rect x="190.2" y="373.2" width="14.6" height="14.6"/><rect x="195.8" y="374.1" width="14.6" height="14.6"/><rect x="201.2" y="375.1" width="14.6" height="14.6"/><rect x="206.5" y="375.9" width="14.6" height="14.6"/><rect x="211.7" y="376.7" width="14.6" height="14.6"/><rect x="216.8" y="377.4" width="14.6" height="14.6"/><rect x="221.8" y="378.1" width="14.6" height="14.6"/><rect x="226.7" y="378.7" width="14.6" height="14.6"/><rect x="231.5" y="379.3" width="14.6" height="14.6"/><rect x="236.2" y="379.8" width="14.6" height="14.6"/><rect x="240.9" y="380.3" width="14.6" height="14.6"/><rect x="245.4" y="380.8" width="14.6" height="14.6"/><rect x="249.9" y="381.2" width="14.6" height="14.6"/><rect x="254.2" y="381.6" width="14.6" height="14.6"/><rect x="258.6" y="382" width="14.6" height="14.6"/><rect x="262.8" y="382.4" width="14.6" height="14.6"/><rect x="266.9" y="382.7" width="14.6" height="14.6"/><rect x="271" y="383" width="14.6" height="14.6"/><rect x="275.1" y="383.3" width="14.6" height="14.6"/><rect x="279" y="383.6" width="14.6" height="14.6"/><rect x="282.9" y="383.8" width="14.6" height="14.6"/><rect x="286.8" y="384.1" width="14.6" height="14.6"/><rect x="290.5" y="384.4" width="14.6" height="14.6"/><rect x="294.3" y="384.6" width="14.6" height="14.6"/><rect x="297.9" y="384.8" width="14.6" height="14.6"/><rect x="301.5" y="385.1" width="14.6" height="14.6"/><rect x="305.1" y="385.3" width="14.6" height="14.6"/><rect x="308.6" y="385.6" width="14.6" height="14.6"/><rect x="312.1" y="385.8" width="14.6" height="14.6"/><rect x="315.5" y="386" width="14.6" height="14.6"/><rect x="318.9" y="386.3" width="14.6" height="14.6"/><rect x="322.2" y="386.6" width="14.6" height="14.6"/><rect x="325.5" y="386.8" width="14.6" height="14.6"/><rect x="328.7" y="387.1" width="14.6" height="14.6"/><rect x="331.9" y="387.4" width="14.6" height="14.6"/><rect x="335.1" y="387.7" width="14.6" height="14.6"/><rect x="338.2" y="388" width="14.6" height="14.6"/><rect x="341.3" y="388.3" width="14.6" height="14.6"/><rect x="344.3" y="388.6" width="14.6" height="14.6"/><rect x="347.3" y="389" width="14.6" height="14.6"/><rect x="350.3" y="389.3" width="14.6" height="14.6"/><rect x="353.2" y="389.7" width="14.6" height="14.6"/><rect x="356.1" y="390.1" width="14.6" height="14.6"/><rect x="359" y="390.5" width="14.6" height="14.6"/><rect x="361.8" y="390.9" width="14.6" height="14.6"/><rect x="364.6" y="391.4" width="14.6" height="14.6"/><rect x="367.4" y="391.8" width="14.6" height="14.6"/><rect x="370.1" y="392.3" width="14.6" height="14.6"/><rect x="372.8" y="392.8" width="14.6" height="14.6"/><rect x="375.5" y="393.3" width="14.6" height="14.6"/><rect x="378.1" y="393.8" width="14.6" height="14.6"/><rect x="380.8" y="394.4" width="14.6" height="14.6"/><rect x="383.4" y="394.9" width="14.6" height="14.6"/><rect x="385.9" y="395.5" width="14.6" height="14.6"/><rect x="388.5" y="396.1" width="14.6" height="14.6"/><rect x="391" y="396.7" width="14.6" height="14.6"/><rect x="393.5" y="397.3" width="14.6" height="14.6"/><rect x="396" y="398" width="14.6" height="14.6"/><rect x="398.4" y="398.7" width="14.6" height="14.6"/><rect x="400.8" y="399.3" width="14.6" height="14.6"/><rect x="403.2" y="400" width="14.6" height="14.6"/><rect x="405.6" y="400.8" width="14.6" height="14.6"/><rect x="407.9" y="401.5" width="14.6" height="14.6"/><rect x="410.3" y="402.2" width="14.6" height="14.6"/><rect x="412.6" y="403" width="14.6" height="14.6"/><rect x="414.9" y="403.8" width="14.6" height="14.6"/><rect x="417.1" y="404.6" width="14.6" height="14.6"/><rect x="419.4" y="405.4" width="14.6" height="14.6"/><rect x="421.6" y="406.3" width="14.6" height="14.6"/><rect x="423.8" y="407.1" width="14.6" height="14.6"/><rect x="426" y="408" width="14.6" height="14.6"/><rect x="428.1" y="408.9" width="14.6" height="14.6"/><rect x="430.3" y="409.8" width="14.6" height="14.6"/><rect x="432.4" y="410.8" width="14.6" height="14.6"/><rect x="434.5" y="411.7" width="14.6" height="14.6"/><rect x="436.6" y="412.7" width="14.6" height="14.6"/><rect x="438.7" y="413.6" width="14.6" height="14.6"/><rect x="440.8" y="414.6" width="14.6" height="14.6"/><rect x="442.8" y="415.7" width="14.6" height="14.6"/><rect x="444.8" y="416.7" width="14.6" height="14.6"/><rect x="446.8" y="417.7" width="14.6" height="14.6"/><rect x="448.8" y="418.8" width="14.6" height="14.6"/><rect x="450.8" y="419.9" width="14.6" height="14.6"/><rect x="452.8" y="420.9" width="14.6" height="14.6"/><rect x="454.7" y="422.1" width="14.6" height="14.6"/><rect x="456.6" y="423.2" width="14.6" height="14.6"/><rect x="458.5" y="424.3" width="14.6" height="14.6"/><rect x="460.5" y="425.5" width="14.6" height="14.6"/><rect x="462.3" y="426.6" width="14.6" height="14.6"/><rect x="464.2" y="427.8" width="14.6" height="14.6"/><rect x="466.1" y="429" width="14.6" height="14.6"/><rect x="467.9" y="430.2" width="14.6" height="14.6"/><rect x="469.7" y="431.5" width="14.6" height="14.6"/><rect x="471.6" y="432.7" width="14.6" height="14.6"/><rect x="473.4" y="434" width="14.6" height="14.6"/><rect x="475.2" y="435.2" width="14.6" height="14.6"/><rect x="476.9" y="436.5" width="14.6" height="14.6"/><rect x="478.7" y="437.8" width="14.6" height="14.6"/><rect x="480.5" y="439.1" width="14.6" height="14.6"/><rect x="482.2" y="440.4" width="14.6" height="14.6"/><rect x="483.9" y="441.8" width="14.6" height="14.6"/><rect x="485.6" y="443.1" width="14.6" height="14.6"/><rect x="487.3" y="444.5" width="14.6" height="14.6"/><rect x="489" y="445.9" width="14.6" height="14.6"/><rect x="490.7" y="447.3" width="14.6" height="14.6"/><rect x="492.4" y="448.7" width="14.6" height="14.6"/><rect x="494.1" y="450.1" width="14.6" height="14.6"/><rect x="495.7" y="451.5" width="14.6" height="14.6"/></g>
<g fill="#fff" stroke="#FF6666" stroke-width="2.9" clip-path="url(#cl)"><rect x="95.7" y="381" width="14.6" height="14.6"/><rect x="103.8" y="382.8" width="14.6" height="14.6"/><rect x="111.6" y="384.5" width="14.6" height="14.6"/><rect x="119.2" y="386.1" width="14.6" height="14.6"/><rect x="126.6" y="387.7" width="14.6" height="14.6"/><rect x="133.7" y="389.1" width="14.6" height="14.6"/><rect x="140.7" y="390.5" width="14.6" height="14.6"/><rect x="147.4" y="391.7" width="14.6" height="14.6"/><rect x="154" y="392.9" width="14.6" height="14.6"/><rect x="160.4" y="394.1" width="14.6" height="14.6"/><rect x="166.7" y="395.1" width="14.6" height="14.6"/><rect x="172.8" y="396.1" width="14.6" height="14.6"/><rect x="178.7" y="397.1" width="14.6" height="14.6"/><rect x="184.6" y="398" width="14.6" height="14.6"/><rect x="190.2" y="398.8" width="14.6" height="14.6"/><rect x="195.8" y="399.6" width="14.6" height="14.6"/><rect x="201.2" y="400.3" width="14.6" height="14.6"/><rect x="206.5" y="401" width="14.6" height="14.6"/><rect x="211.7" y="401.7" width="14.6" height="14.6"/><rect x="216.8" y="402.3" width="14.6" height="14.6"/><rect x="221.8" y="402.8" width="14.6" height="14.6"/><rect x="226.7" y="403.4" width="14.6" height="14.6"/><rect x="231.5" y="403.9" width="14.6" height="14.6"/><rect x="236.2" y="404.3" width="14.6" height="14.6"/><rect x="240.9" y="404.8" width="14.6" height="14.6"/><rect x="245.4" y="405.1" width="14.6" height="14.6"/><rect x="249.9" y="405.5" width="14.6" height="14.6"/><rect x="254.2" y="405.8" width="14.6" height="14.6"/><rect x="258.6" y="406.2" width="14.6" height="14.6"/><rect x="262.8" y="406.4" width="14.6" height="14.6"/><rect x="266.9" y="406.7" width="14.6" height="14.6"/><rect x="271" y="406.9" width="14.6" height="14.6"/><rect x="275.1" y="407.1" width="14.6" height="14.6"/><rect x="279" y="407.3" width="14.6" height="14.6"/><rect x="282.9" y="407.5" width="14.6" height="14.6"/><rect x="286.8" y="407.6" width="14.6" height="14.6"/><rect x="290.5" y="407.8" width="14.6" height="14.6"/><rect x="294.3" y="407.9" width="14.6" height="14.6"/><rect x="297.9" y="407.9" width="14.6" height="14.6"/><rect x="301.5" y="408" width="14.6" height="14.6"/><rect x="305.1" y="408.1" width="14.6" height="14.6"/><rect x="308.6" y="408.1" width="14.6" height="14.6"/><rect x="312.1" y="408.2" width="14.6" height="14.6"/><rect x="315.5" y="408.2" width="14.6" height="14.6"/><rect x="318.9" y="408.3" width="14.6" height="14.6"/><rect x="322.2" y="408.4" width="14.6" height="14.6"/><rect x="325.5" y="408.4" width="14.6" height="14.6"/><rect x="328.7" y="408.5" width="14.6" height="14.6"/><rect x="331.9" y="408.6" width="14.6" height="14.6"/><rect x="335.1" y="408.7" width="14.6" height="14.6"/><rect x="338.2" y="408.8" width="14.6" height="14.6"/><rect x="341.3" y="408.9" width="14.6" height="14.6"/><rect x="344.3" y="409" width="14.6" height="14.6"/><rect x="347.3" y="409.2" width="14.6" height="14.6"/><rect x="350.3" y="409.4" width="14.6" height="14.6"/><rect x="353.2" y="409.5" width="14.6" height="14.6"/><rect x="356.1" y="409.8" width="14.6" height="14.6"/><rect x="359" y="410" width="14.6" height="14.6"/><rect x="361.8" y="410.2" width="14.6" height="14.6"/><rect x="364.6" y="410.5" width="14.6" height="14.6"/><rect x="367.4" y="410.8" width="14.6" height="14.6"/><rect x="370.1" y="411.1" width="14.6" height="14.6"/><rect x="372.8" y="411.5" width="14.6" height="14.6"/><rect x="375.5" y="411.8" width="14.6" height="14.6"/><rect x="378.1" y="412.2" width="14.6" height="14.6"/><rect x="380.8" y="412.6" width="14.6" height="14.6"/><rect x="383.4" y="413.1" width="14.6" height="14.6"/><rect x="385.9" y="413.6" width="14.6" height="14.6"/><rect x="388.5" y="414" width="14.6" height="14.6"/><rect x="391" y="414.6" width="14.6" height="14.6"/><rect x="393.5" y="415.1" width="14.6" height="14.6"/><rect x="396" y="415.7" width="14.6" height="14.6"/><rect x="398.4" y="416.3" width="14.6" height="14.6"/><rect x="400.8" y="416.9" width="14.6" height="14.6"/><rect x="403.2" y="417.5" width="14.6" height="14.6"/><rect x="405.6" y="418.2" width="14.6" height="14.6"/><rect x="407.9" y="418.9" width="14.6" height="14.6"/><rect x="410.3" y="419.6" width="14.6" height="14.6"/><rect x="412.6" y="420.3" width="14.6" height="14.6"/><rect x="414.9" y="421.1" width="14.6" height="14.6"/><rect x="417.1" y="421.8" width="14.6" height="14.6"/><rect x="419.4" y="422.6" width="14.6" height="14.6"/><rect x="421.6" y="423.4" width="14.6" height="14.6"/><rect x="423.8" y="424.2" width="14.6" height="14.6"/><rect x="426" y="425" width="14.6" height="14.6"/><rect x="428.1" y="425.8" width="14.6" height="14.6"/><rect x="430.3" y="426.7" width="14.6" height="14.6"/><rect x="432.4" y="427.5" width="14.6" height="14.6"/><rect x="434.5" y="428.4" width="14.6" height="14.6"/><rect x="436.6" y="429.3" width="14.6" height="14.6"/><rect x="438.7" y="430.2" width="14.6" height="14.6"/><rect x="440.8" y="431.1" width="14.6" height="14.6"/><rect x="442.8" y="432" width="14.6" height="14.6"/><rect x="444.8" y="432.9" width="14.6" height="14.6"/><rect x="446.8" y="433.8" width="14.6" height="14.6"/><rect x="448.8" y="434.7" width="14.6" height="14.6"/><rect x="450.8" y="435.7" width="14.6" height="14.6"/><rect x="452.8" y="436.6" width="14.6" height="14.6"/><rect x="454.7" y="437.6" width="14.6" height="14.6"/><rect x="456.6" y="438.5" width="14.6" height="14.6"/><rect x="458.5" y="439.5" width="14.6" height="14.6"/><rect x="460.5" y="440.5" width="14.6" height="14.6"/><rect x="462.3" y="441.4" width="14.6" height="14.6"/><rect x="464.2" y="442.4" width="14.6" height="14.6"/><rect x="466.1" y="443.4" width="14.6" height="14.6"/><rect x="467.9" y="444.4" width="14.6" height="14.6"/><rect x="469.7" y="445.4" width="14.6" height="14.6"/><rect x="471.6" y="446.4" width="14.6" height="14.6"/><rect x="473.4" y="447.4" width="14.6" height="14.6"/><rect x="475.2" y="448.4" width="14.6" height="14.6"/><rect x="476.9" y="449.4" width="14.6" height="14.6"/><rect x="478.7" y="450.4" width="14.6" height="14.6"/><rect x="480.5" y="451.4" width="14.6" height="14.6"/><rect x="482.2" y="452.4" width="14.6" height="14.6"/><rect x="483.9" y="453.4" width="14.6" height="14.6"/><rect x="485.6" y="454.4" width="14.6" height="14.6"/><rect x="487.3" y="455.4" width="14.6" height="14.6"/><rect x="489" y="456.4" width="14.6" height="14.6"/><rect x="490.7" y="457.5" width="14.6" height="14.6"/><rect x="492.4" y="458.5" width="14.6" height="14.6"/><rect x="494.1" y="459.5" width="14.6" height="14.6"/><rect x="495.7" y="460.5" width="14.6" height="14.6"/></g>
<path d="M303.8 118H361.2V419H389L332.5 475.5L276 419H303.8Z" fill="#81A4D5" fill-opacity="0.45"/>
<g fill="#fff" stroke="#6699CC" stroke-width="2.9" clip-path="url(#cl)"><rect x="95.7" y="401.1" width="14.6" height="14.6"/><rect x="103.8" y="403.2" width="14.6" height="14.6"/><rect x="111.6" y="405.1" width="14.6" height="14.6"/><rect x="119.2" y="406.9" width="14.6" height="14.6"/><rect x="126.6" y="408.4" width="14.6" height="14.6"/><rect x="133.7" y="409.9" width="14.6" height="14.6"/><rect x="140.7" y="411.2" width="14.6" height="14.6"/><rect x="147.4" y="412.3" width="14.6" height="14.6"/><rect x="154" y="413.4" width="14.6" height="14.6"/><rect x="160.4" y="414.4" width="14.6" height="14.6"/><rect x="166.7" y="415.2" width="14.6" height="14.6"/><rect x="172.8" y="416" width="14.6" height="14.6"/><rect x="178.7" y="416.8" width="14.6" height="14.6"/><rect x="184.6" y="417.4" width="14.6" height="14.6"/><rect x="190.2" y="418.1" width="14.6" height="14.6"/><rect x="195.8" y="418.6" width="14.6" height="14.6"/><rect x="201.2" y="419.1" width="14.6" height="14.6"/><rect x="206.5" y="419.6" width="14.6" height="14.6"/><rect x="211.7" y="420" width="14.6" height="14.6"/><rect x="216.8" y="420.4" width="14.6" height="14.6"/><rect x="221.8" y="420.8" width="14.6" height="14.6"/><rect x="226.7" y="421.1" width="14.6" height="14.6"/><rect x="231.5" y="421.4" width="14.6" height="14.6"/><rect x="236.2" y="421.7" width="14.6" height="14.6"/><rect x="240.9" y="422" width="14.6" height="14.6"/><rect x="245.4" y="422.2" width="14.6" height="14.6"/><rect x="249.9" y="422.4" width="14.6" height="14.6"/><rect x="254.2" y="422.7" width="14.6" height="14.6"/><rect x="258.6" y="422.9" width="14.6" height="14.6"/><rect x="262.8" y="423" width="14.6" height="14.6"/><rect x="266.9" y="423.2" width="14.6" height="14.6"/><rect x="271" y="423.4" width="14.6" height="14.6"/><rect x="275.1" y="423.6" width="14.6" height="14.6"/><rect x="279" y="423.7" width="14.6" height="14.6"/><rect x="282.9" y="423.9" width="14.6" height="14.6"/><rect x="286.8" y="424" width="14.6" height="14.6"/><rect x="290.5" y="424.1" width="14.6" height="14.6"/><rect x="294.3" y="424.3" width="14.6" height="14.6"/><rect x="297.9" y="424.4" width="14.6" height="14.6"/><rect x="301.5" y="424.5" width="14.6" height="14.6"/><rect x="305.1" y="424.7" width="14.6" height="14.6"/><rect x="308.6" y="424.8" width="14.6" height="14.6"/><rect x="312.1" y="424.9" width="14.6" height="14.6"/><rect x="315.5" y="425.1" width="14.6" height="14.6"/><rect x="318.9" y="425.2" width="14.6" height="14.6"/><rect x="322.2" y="425.4" width="14.6" height="14.6"/><rect x="325.5" y="425.5" width="14.6" height="14.6"/><rect x="328.7" y="425.7" width="14.6" height="14.6"/><rect x="331.9" y="425.9" width="14.6" height="14.6"/><rect x="335.1" y="426" width="14.6" height="14.6"/><rect x="338.2" y="426.2" width="14.6" height="14.6"/><rect x="341.3" y="426.4" width="14.6" height="14.6"/><rect x="344.3" y="426.6" width="14.6" height="14.6"/><rect x="347.3" y="426.8" width="14.6" height="14.6"/><rect x="350.3" y="427" width="14.6" height="14.6"/><rect x="353.2" y="427.3" width="14.6" height="14.6"/><rect x="356.1" y="427.5" width="14.6" height="14.6"/><rect x="359" y="427.8" width="14.6" height="14.6"/><rect x="361.8" y="428" width="14.6" height="14.6"/><rect x="364.6" y="428.3" width="14.6" height="14.6"/><rect x="367.4" y="428.6" width="14.6" height="14.6"/><rect x="370.1" y="428.9" width="14.6" height="14.6"/><rect x="372.8" y="429.2" width="14.6" height="14.6"/><rect x="375.5" y="429.5" width="14.6" height="14.6"/><rect x="378.1" y="429.8" width="14.6" height="14.6"/><rect x="380.8" y="430.2" width="14.6" height="14.6"/><rect x="383.4" y="430.5" width="14.6" height="14.6"/><rect x="385.9" y="430.9" width="14.6" height="14.6"/><rect x="388.5" y="431.3" width="14.6" height="14.6"/><rect x="391" y="431.6" width="14.6" height="14.6"/><rect x="393.5" y="432" width="14.6" height="14.6"/><rect x="396" y="432.5" width="14.6" height="14.6"/><rect x="398.4" y="432.9" width="14.6" height="14.6"/><rect x="400.8" y="433.3" width="14.6" height="14.6"/><rect x="403.2" y="433.8" width="14.6" height="14.6"/><rect x="405.6" y="434.2" width="14.6" height="14.6"/><rect x="407.9" y="434.7" width="14.6" height="14.6"/><rect x="410.3" y="435.2" width="14.6" height="14.6"/><rect x="412.6" y="435.7" width="14.6" height="14.6"/><rect x="414.9" y="436.2" width="14.6" height="14.6"/><rect x="417.1" y="436.7" width="14.6" height="14.6"/><rect x="419.4" y="437.2" width="14.6" height="14.6"/><rect x="421.6" y="437.8" width="14.6" height="14.6"/><rect x="423.8" y="438.3" width="14.6" height="14.6"/><rect x="426" y="438.9" width="14.6" height="14.6"/><rect x="428.1" y="439.5" width="14.6" height="14.6"/><rect x="430.3" y="440" width="14.6" height="14.6"/><rect x="432.4" y="440.6" width="14.6" height="14.6"/><rect x="434.5" y="441.3" width="14.6" height="14.6"/><rect x="436.6" y="441.9" width="14.6" height="14.6"/><rect x="438.7" y="442.5" width="14.6" height="14.6"/><rect x="440.8" y="443.2" width="14.6" height="14.6"/><rect x="442.8" y="443.8" width="14.6" height="14.6"/><rect x="444.8" y="444.5" width="14.6" height="14.6"/><rect x="446.8" y="445.1" width="14.6" height="14.6"/><rect x="448.8" y="445.8" width="14.6" height="14.6"/><rect x="450.8" y="446.5" width="14.6" height="14.6"/><rect x="452.8" y="447.2" width="14.6" height="14.6"/><rect x="454.7" y="447.9" width="14.6" height="14.6"/><rect x="456.6" y="448.7" width="14.6" height="14.6"/><rect x="458.5" y="449.4" width="14.6" height="14.6"/><rect x="460.5" y="450.2" width="14.6" height="14.6"/><rect x="462.3" y="450.9" width="14.6" height="14.6"/><rect x="464.2" y="451.7" width="14.6" height="14.6"/><rect x="466.1" y="452.5" width="14.6" height="14.6"/><rect x="467.9" y="453.2" width="14.6" height="14.6"/><rect x="469.7" y="454" width="14.6" height="14.6"/><rect x="471.6" y="454.8" width="14.6" height="14.6"/><rect x="473.4" y="455.7" width="14.6" height="14.6"/><rect x="475.2" y="456.5" width="14.6" height="14.6"/><rect x="476.9" y="457.3" width="14.6" height="14.6"/><rect x="478.7" y="458.2" width="14.6" height="14.6"/><rect x="480.5" y="459" width="14.6" height="14.6"/><rect x="482.2" y="459.9" width="14.6" height="14.6"/><rect x="483.9" y="460.7" width="14.6" height="14.6"/><rect x="485.6" y="461.6" width="14.6" height="14.6"/><rect x="487.3" y="462.5" width="14.6" height="14.6"/><rect x="489" y="463.4" width="14.6" height="14.6"/><rect x="490.7" y="464.3" width="14.6" height="14.6"/><rect x="492.4" y="465.2" width="14.6" height="14.6"/><rect x="494.1" y="466.1" width="14.6" height="14.6"/><rect x="495.7" y="467.1" width="14.6" height="14.6"/></g>
<text x="800" y="147.5" font-size="32" text-anchor="start" >Erase</text>
<text x="392" y="153" font-size="32" text-anchor="start" >Write</text>
<g fill="#fff" stroke="#EE0000" stroke-width="3.0" clip-path="url(#cr)"><circle cx="503.5" cy="433.8" r="8.6"/><circle cx="512.7" cy="435.9" r="8.6"/><circle cx="521.5" cy="437.5" r="8.6"/><circle cx="530.1" cy="438.7" r="8.6"/><circle cx="538.4" cy="439.5" r="8.6"/><circle cx="546.4" cy="439.9" r="8.6"/><circle cx="554.1" cy="440.1" r="8.6"/><circle cx="561.6" cy="440" r="8.6"/><circle cx="568.9" cy="439.7" r="8.6"/><circle cx="576" cy="439.2" r="8.6"/><circle cx="582.9" cy="438.5" r="8.6"/><circle cx="589.6" cy="437.6" r="8.6"/><circle cx="596.2" cy="436.5" r="8.6"/><circle cx="602.6" cy="435.3" r="8.6"/><circle cx="608.8" cy="434" r="8.6"/><circle cx="614.8" cy="432.6" r="8.6"/><circle cx="620.7" cy="431" r="8.6"/><circle cx="626.5" cy="429.4" r="8.6"/><circle cx="632.2" cy="427.7" r="8.6"/><circle cx="637.7" cy="425.9" r="8.6"/><circle cx="643.1" cy="424" r="8.6"/><circle cx="648.4" cy="422.1" r="8.6"/><circle cx="653.6" cy="420.2" r="8.6"/><circle cx="658.7" cy="418.1" r="8.6"/><circle cx="663.7" cy="416.1" r="8.6"/><circle cx="668.5" cy="414" r="8.6"/><circle cx="673.3" cy="412" r="8.6"/><circle cx="678" cy="409.9" r="8.6"/><circle cx="682.6" cy="407.8" r="8.6"/><circle cx="687.1" cy="405.8" r="8.6"/><circle cx="691.6" cy="403.8" r="8.6"/><circle cx="696" cy="401.8" r="8.6"/><circle cx="700.3" cy="399.9" r="8.6"/><circle cx="704.5" cy="398" r="8.6"/><circle cx="708.6" cy="396.1" r="8.6"/><circle cx="712.7" cy="394.3" r="8.6"/><circle cx="716.7" cy="392.6" r="8.6"/><circle cx="720.7" cy="390.9" r="8.6"/><circle cx="724.6" cy="389.4" r="8.6"/><circle cx="728.4" cy="387.9" r="8.6"/><circle cx="732.2" cy="386.5" r="8.6"/><circle cx="735.9" cy="385.2" r="8.6"/><circle cx="739.6" cy="384" r="8.6"/><circle cx="743.2" cy="382.9" r="8.6"/><circle cx="746.7" cy="381.9" r="8.6"/><circle cx="750.2" cy="381" r="8.6"/><circle cx="753.7" cy="380.2" r="8.6"/><circle cx="757.1" cy="379.5" r="8.6"/><circle cx="760.5" cy="378.9" r="8.6"/><circle cx="763.8" cy="378.5" r="8.6"/><circle cx="767.1" cy="378.1" r="8.6"/><circle cx="770.3" cy="377.8" r="8.6"/><circle cx="773.5" cy="377.7" r="8.6"/><circle cx="776.7" cy="377.6" r="8.6"/><circle cx="779.8" cy="377.6" r="8.6"/><circle cx="782.9" cy="377.7" r="8.6"/><circle cx="785.9" cy="377.9" r="8.6"/><circle cx="788.9" cy="378.2" r="8.6"/><circle cx="791.9" cy="378.6" r="8.6"/><circle cx="794.8" cy="379" r="8.6"/><circle cx="797.7" cy="379.6" r="8.6"/><circle cx="800.6" cy="380.2" r="8.6"/><circle cx="803.4" cy="380.9" r="8.6"/><circle cx="806.2" cy="381.7" r="8.6"/><circle cx="809" cy="382.5" r="8.6"/><circle cx="811.7" cy="383.4" r="8.6"/><circle cx="814.5" cy="384.4" r="8.6"/><circle cx="817.1" cy="385.5" r="8.6"/><circle cx="819.8" cy="386.6" r="8.6"/><circle cx="822.4" cy="387.8" r="8.6"/><circle cx="825" cy="389.1" r="8.6"/><circle cx="827.6" cy="390.4" r="8.6"/><circle cx="830.1" cy="391.8" r="8.6"/><circle cx="832.6" cy="393.3" r="8.6"/><circle cx="835.1" cy="394.8" r="8.6"/><circle cx="837.6" cy="396.3" r="8.6"/><circle cx="840.1" cy="397.9" r="8.6"/><circle cx="842.5" cy="399.6" r="8.6"/><circle cx="844.9" cy="401.3" r="8.6"/><circle cx="847.3" cy="403.1" r="8.6"/><circle cx="849.6" cy="404.9" r="8.6"/><circle cx="851.9" cy="406.7" r="8.6"/><circle cx="854.3" cy="408.6" r="8.6"/><circle cx="856.5" cy="410.6" r="8.6"/><circle cx="858.8" cy="412.5" r="8.6"/><circle cx="861.1" cy="414.6" r="8.6"/><circle cx="863.3" cy="416.6" r="8.6"/><circle cx="865.5" cy="418.8" r="8.6"/><circle cx="867.7" cy="420.9" r="8.6"/><circle cx="869.9" cy="423.1" r="8.6"/><circle cx="872" cy="425.3" r="8.6"/><circle cx="874.1" cy="427.6" r="8.6"/><circle cx="876.3" cy="429.9" r="8.6"/><circle cx="878.3" cy="432.2" r="8.6"/><circle cx="880.4" cy="434.6" r="8.6"/><circle cx="882.5" cy="437" r="8.6"/><circle cx="884.5" cy="439.4" r="8.6"/><circle cx="886.6" cy="441.9" r="8.6"/><circle cx="888.6" cy="444.3" r="8.6"/><circle cx="890.6" cy="446.9" r="8.6"/><circle cx="892.6" cy="449.4" r="8.6"/><circle cx="894.5" cy="452" r="8.6"/><circle cx="896.5" cy="454.6" r="8.6"/><circle cx="898.4" cy="457.2" r="8.6"/><circle cx="900.3" cy="459.9" r="8.6"/><circle cx="902.2" cy="462.6" r="8.6"/><circle cx="904.1" cy="465.3" r="8.6"/><circle cx="906" cy="468" r="8.6"/></g>
<g fill="#fff" stroke="#336699" stroke-width="3.0" clip-path="url(#cr)"><circle cx="503.5" cy="320.2" r="8.6"/><circle cx="512.7" cy="323.4" r="8.6"/><circle cx="521.5" cy="326.2" r="8.6"/><circle cx="530.1" cy="328.4" r="8.6"/><circle cx="538.4" cy="330.3" r="8.6"/><circle cx="546.4" cy="331.8" r="8.6"/><circle cx="554.1" cy="333" r="8.6"/><circle cx="561.6" cy="334" r="8.6"/><circle cx="568.9" cy="334.7" r="8.6"/><circle cx="576" cy="335.3" r="8.6"/><circle cx="582.9" cy="335.7" r="8.6"/><circle cx="589.6" cy="336.1" r="8.6"/><circle cx="596.2" cy="336.3" r="8.6"/><circle cx="602.6" cy="336.4" r="8.6"/><circle cx="608.8" cy="336.5" r="8.6"/><circle cx="614.8" cy="336.6" r="8.6"/><circle cx="620.7" cy="336.6" r="8.6"/><circle cx="626.5" cy="336.5" r="8.6"/><circle cx="632.2" cy="336.5" r="8.6"/><circle cx="637.7" cy="336.5" r="8.6"/><circle cx="643.1" cy="336.5" r="8.6"/><circle cx="648.4" cy="336.5" r="8.6"/><circle cx="653.6" cy="336.5" r="8.6"/><circle cx="658.7" cy="336.6" r="8.6"/><circle cx="663.7" cy="336.7" r="8.6"/><circle cx="668.5" cy="336.9" r="8.6"/><circle cx="673.3" cy="337.2" r="8.6"/><circle cx="678" cy="337.5" r="8.6"/><circle cx="682.6" cy="337.9" r="8.6"/><circle cx="687.1" cy="338.4" r="8.6"/><circle cx="691.6" cy="339" r="8.6"/><circle cx="696" cy="339.6" r="8.6"/><circle cx="700.3" cy="340.4" r="8.6"/><circle cx="704.5" cy="341.1" r="8.6"/><circle cx="708.6" cy="342" r="8.6"/><circle cx="712.7" cy="342.9" r="8.6"/><circle cx="716.7" cy="343.9" r="8.6"/><circle cx="720.7" cy="344.9" r="8.6"/><circle cx="724.6" cy="346" r="8.6"/><circle cx="728.4" cy="347.2" r="8.6"/><circle cx="732.2" cy="348.4" r="8.6"/><circle cx="735.9" cy="349.6" r="8.6"/><circle cx="739.6" cy="350.9" r="8.6"/><circle cx="743.2" cy="352.3" r="8.6"/><circle cx="746.7" cy="353.7" r="8.6"/><circle cx="750.2" cy="355.2" r="8.6"/><circle cx="753.7" cy="356.6" r="8.6"/><circle cx="757.1" cy="358.2" r="8.6"/><circle cx="760.5" cy="359.8" r="8.6"/><circle cx="763.8" cy="361.4" r="8.6"/><circle cx="767.1" cy="363" r="8.6"/><circle cx="770.3" cy="364.7" r="8.6"/><circle cx="773.5" cy="366.4" r="8.6"/><circle cx="776.7" cy="368.2" r="8.6"/><circle cx="779.8" cy="370" r="8.6"/><circle cx="782.9" cy="371.8" r="8.6"/><circle cx="785.9" cy="373.7" r="8.6"/><circle cx="788.9" cy="375.5" r="8.6"/><circle cx="791.9" cy="377.4" r="8.6"/><circle cx="794.8" cy="379.4" r="8.6"/><circle cx="797.7" cy="381.3" r="8.6"/><circle cx="800.6" cy="383.3" r="8.6"/><circle cx="803.4" cy="385.3" r="8.6"/><circle cx="806.2" cy="387.3" r="8.6"/><circle cx="809" cy="389.4" r="8.6"/><circle cx="811.7" cy="391.4" r="8.6"/><circle cx="814.5" cy="393.5" r="8.6"/><circle cx="817.1" cy="395.6" r="8.6"/><circle cx="819.8" cy="397.7" r="8.6"/><circle cx="822.4" cy="399.9" r="8.6"/><circle cx="825" cy="402" r="8.6"/><circle cx="827.6" cy="404.2" r="8.6"/><circle cx="830.1" cy="406.4" r="8.6"/><circle cx="832.6" cy="408.6" r="8.6"/><circle cx="835.1" cy="410.8" r="8.6"/><circle cx="837.6" cy="413" r="8.6"/><circle cx="840.1" cy="415.2" r="8.6"/><circle cx="842.5" cy="417.4" r="8.6"/><circle cx="844.9" cy="419.5" r="8.6"/><circle cx="847.3" cy="421.7" r="8.6"/><circle cx="849.6" cy="423.9" r="8.6"/><circle cx="851.9" cy="426" r="8.6"/><circle cx="854.3" cy="428.1" r="8.6"/><circle cx="856.5" cy="430.2" r="8.6"/><circle cx="858.8" cy="432.3" r="8.6"/><circle cx="861.1" cy="434.3" r="8.6"/><circle cx="863.3" cy="436.3" r="8.6"/><circle cx="865.5" cy="438.3" r="8.6"/><circle cx="867.7" cy="440.3" r="8.6"/><circle cx="869.9" cy="442.2" r="8.6"/><circle cx="872" cy="444.1" r="8.6"/><circle cx="874.1" cy="446" r="8.6"/><circle cx="876.3" cy="447.8" r="8.6"/><circle cx="878.3" cy="449.6" r="8.6"/><circle cx="880.4" cy="451.3" r="8.6"/><circle cx="882.5" cy="453.1" r="8.6"/><circle cx="884.5" cy="454.7" r="8.6"/><circle cx="886.6" cy="456.4" r="8.6"/><circle cx="888.6" cy="457.9" r="8.6"/><circle cx="890.6" cy="459.5" r="8.6"/><circle cx="892.6" cy="461" r="8.6"/><circle cx="894.5" cy="462.5" r="8.6"/><circle cx="896.5" cy="463.9" r="8.6"/><circle cx="898.4" cy="465.2" r="8.6"/><circle cx="900.3" cy="466.6" r="8.6"/><circle cx="902.2" cy="467.8" r="8.6"/><circle cx="904.1" cy="469.1" r="8.6"/><circle cx="906" cy="470.3" r="8.6"/></g>
<g fill="#fff" stroke="#FFC000" stroke-width="3.0" clip-path="url(#cr)"><circle cx="503.5" cy="298.2" r="8.6"/><circle cx="512.7" cy="300.8" r="8.6"/><circle cx="521.5" cy="302.8" r="8.6"/><circle cx="530.1" cy="304.2" r="8.6"/><circle cx="538.4" cy="305.2" r="8.6"/><circle cx="546.4" cy="305.9" r="8.6"/><circle cx="554.1" cy="306.3" r="8.6"/><circle cx="561.6" cy="306.5" r="8.6"/><circle cx="568.9" cy="306.5" r="8.6"/><circle cx="576" cy="306.4" r="8.6"/><circle cx="582.9" cy="306.1" r="8.6"/><circle cx="589.6" cy="305.8" r="8.6"/><circle cx="596.2" cy="305.5" r="8.6"/><circle cx="602.6" cy="305.2" r="8.6"/><circle cx="608.8" cy="304.8" r="8.6"/><circle cx="614.8" cy="304.5" r="8.6"/><circle cx="620.7" cy="304.2" r="8.6"/><circle cx="626.5" cy="303.9" r="8.6"/><circle cx="632.2" cy="303.7" r="8.6"/><circle cx="637.7" cy="303.6" r="8.6"/><circle cx="643.1" cy="303.5" r="8.6"/><circle cx="648.4" cy="303.5" r="8.6"/><circle cx="653.6" cy="303.6" r="8.6"/><circle cx="658.7" cy="303.8" r="8.6"/><circle cx="663.7" cy="304" r="8.6"/><circle cx="668.5" cy="304.4" r="8.6"/><circle cx="673.3" cy="304.9" r="8.6"/><circle cx="678" cy="305.5" r="8.6"/><circle cx="682.6" cy="306.1" r="8.6"/><circle cx="687.1" cy="306.9" r="8.6"/><circle cx="691.6" cy="307.8" r="8.6"/><circle cx="696" cy="308.7" r="8.6"/><circle cx="700.3" cy="309.8" r="8.6"/><circle cx="704.5" cy="311" r="8.6"/><circle cx="708.6" cy="312.3" r="8.6"/><circle cx="712.7" cy="313.7" r="8.6"/><circle cx="716.7" cy="315.2" r="8.6"/><circle cx="720.7" cy="316.8" r="8.6"/><circle cx="724.6" cy="318.5" r="8.6"/><circle cx="728.4" cy="320.3" r="8.6"/><circle cx="732.2" cy="322.2" r="8.6"/><circle cx="735.9" cy="324.2" r="8.6"/><circle cx="739.6" cy="326.3" r="8.6"/><circle cx="743.2" cy="328.4" r="8.6"/><circle cx="746.7" cy="330.6" r="8.6"/><circle cx="750.2" cy="332.9" r="8.6"/><circle cx="753.7" cy="335.3" r="8.6"/><circle cx="757.1" cy="337.7" r="8.6"/><circle cx="760.5" cy="340.2" r="8.6"/><circle cx="763.8" cy="342.6" r="8.6"/><circle cx="767.1" cy="345.2" r="8.6"/><circle cx="770.3" cy="347.7" r="8.6"/><circle cx="773.5" cy="350.3" r="8.6"/><circle cx="776.7" cy="353" r="8.6"/><circle cx="779.8" cy="355.6" r="8.6"/><circle cx="782.9" cy="358.3" r="8.6"/><circle cx="785.9" cy="360.9" r="8.6"/><circle cx="788.9" cy="363.6" r="8.6"/><circle cx="791.9" cy="366.3" r="8.6"/><circle cx="794.8" cy="369" r="8.6"/><circle cx="797.7" cy="371.7" r="8.6"/><circle cx="800.6" cy="374.4" r="8.6"/><circle cx="803.4" cy="377.1" r="8.6"/><circle cx="806.2" cy="379.8" r="8.6"/><circle cx="809" cy="382.5" r="8.6"/><circle cx="811.7" cy="385.2" r="8.6"/><circle cx="814.5" cy="387.9" r="8.6"/><circle cx="817.1" cy="390.6" r="8.6"/><circle cx="819.8" cy="393.3" r="8.6"/><circle cx="822.4" cy="395.9" r="8.6"/><circle cx="825" cy="398.6" r="8.6"/><circle cx="827.6" cy="401.2" r="8.6"/><circle cx="830.1" cy="403.8" r="8.6"/><circle cx="832.6" cy="406.4" r="8.6"/><circle cx="835.1" cy="409" r="8.6"/><circle cx="837.6" cy="411.5" r="8.6"/><circle cx="840.1" cy="414.1" r="8.6"/><circle cx="842.5" cy="416.6" r="8.6"/><circle cx="844.9" cy="419.1" r="8.6"/><circle cx="847.3" cy="421.6" r="8.6"/><circle cx="849.6" cy="424.1" r="8.6"/><circle cx="851.9" cy="426.5" r="8.6"/><circle cx="854.3" cy="428.9" r="8.6"/><circle cx="856.5" cy="431.3" r="8.6"/><circle cx="858.8" cy="433.7" r="8.6"/><circle cx="861.1" cy="436" r="8.6"/><circle cx="863.3" cy="438.4" r="8.6"/><circle cx="865.5" cy="440.7" r="8.6"/><circle cx="867.7" cy="442.9" r="8.6"/><circle cx="869.9" cy="445.2" r="8.6"/><circle cx="872" cy="447.4" r="8.6"/><circle cx="874.1" cy="449.6" r="8.6"/><circle cx="876.3" cy="451.8" r="8.6"/><circle cx="878.3" cy="453.9" r="8.6"/><circle cx="880.4" cy="456.1" r="8.6"/><circle cx="882.5" cy="458.1" r="8.6"/><circle cx="884.5" cy="460.2" r="8.6"/><circle cx="886.6" cy="462.3" r="8.6"/><circle cx="888.6" cy="464.3" r="8.6"/><circle cx="890.6" cy="466.3" r="8.6"/><circle cx="892.6" cy="468.2" r="8.6"/><circle cx="894.5" cy="470.2" r="8.6"/><circle cx="896.5" cy="472.1" r="8.6"/><circle cx="898.4" cy="473.9" r="8.6"/><circle cx="900.3" cy="475.8" r="8.6"/><circle cx="902.2" cy="477.6" r="8.6"/><circle cx="904.1" cy="479.4" r="8.6"/><circle cx="906" cy="481.2" r="8.6"/></g>
<g fill="#fff" stroke="#3CB96A" stroke-width="3.0" clip-path="url(#cr)"><circle cx="503.5" cy="210" r="8.6"/><circle cx="512.7" cy="211.1" r="8.6"/><circle cx="521.5" cy="211.9" r="8.6"/><circle cx="530.1" cy="212.6" r="8.6"/><circle cx="538.4" cy="213" r="8.6"/><circle cx="546.4" cy="213.3" r="8.6"/><circle cx="554.1" cy="213.5" r="8.6"/><circle cx="561.6" cy="213.6" r="8.6"/><circle cx="568.9" cy="213.6" r="8.6"/><circle cx="576" cy="213.5" r="8.6"/><circle cx="582.9" cy="213.4" r="8.6"/><circle cx="589.6" cy="213.3" r="8.6"/><circle cx="596.2" cy="213.1" r="8.6"/><circle cx="602.6" cy="213" r="8.6"/><circle cx="608.8" cy="212.8" r="8.6"/><circle cx="614.8" cy="212.6" r="8.6"/><circle cx="620.7" cy="212.4" r="8.6"/><circle cx="626.5" cy="212.2" r="8.6"/><circle cx="632.2" cy="212.1" r="8.6"/><circle cx="637.7" cy="211.9" r="8.6"/><circle cx="643.1" cy="211.8" r="8.6"/><circle cx="648.4" cy="211.8" r="8.6"/><circle cx="653.6" cy="211.8" r="8.6"/><circle cx="658.7" cy="211.8" r="8.6"/><circle cx="663.7" cy="212" r="8.6"/><circle cx="668.5" cy="212.2" r="8.6"/><circle cx="673.3" cy="212.6" r="8.6"/><circle cx="678" cy="213" r="8.6"/><circle cx="682.6" cy="213.5" r="8.6"/><circle cx="687.1" cy="214.2" r="8.6"/><circle cx="691.6" cy="215" r="8.6"/><circle cx="696" cy="215.8" r="8.6"/><circle cx="700.3" cy="216.8" r="8.6"/><circle cx="704.5" cy="218" r="8.6"/><circle cx="708.6" cy="219.2" r="8.6"/><circle cx="712.7" cy="220.6" r="8.6"/><circle cx="716.7" cy="222" r="8.6"/><circle cx="720.7" cy="223.7" r="8.6"/><circle cx="724.6" cy="225.4" r="8.6"/><circle cx="728.4" cy="227.2" r="8.6"/><circle cx="732.2" cy="229.1" r="8.6"/><circle cx="735.9" cy="231.1" r="8.6"/><circle cx="739.6" cy="233.2" r="8.6"/><circle cx="743.2" cy="235.3" r="8.6"/><circle cx="746.7" cy="237.5" r="8.6"/><circle cx="750.2" cy="239.7" r="8.6"/><circle cx="753.7" cy="241.9" r="8.6"/><circle cx="757.1" cy="244.2" r="8.6"/><circle cx="760.5" cy="246.4" r="8.6"/><circle cx="763.8" cy="248.7" r="8.6"/><circle cx="767.1" cy="250.9" r="8.6"/><circle cx="770.3" cy="253.2" r="8.6"/><circle cx="773.5" cy="255.4" r="8.6"/><circle cx="776.7" cy="257.6" r="8.6"/><circle cx="779.8" cy="259.8" r="8.6"/><circle cx="782.9" cy="261.9" r="8.6"/><circle cx="785.9" cy="264.1" r="8.6"/><circle cx="788.9" cy="266.1" r="8.6"/><circle cx="791.9" cy="268.2" r="8.6"/><circle cx="794.8" cy="270.2" r="8.6"/><circle cx="797.7" cy="272.1" r="8.6"/><circle cx="800.6" cy="274.1" r="8.6"/><circle cx="803.4" cy="275.9" r="8.6"/><circle cx="806.2" cy="277.8" r="8.6"/><circle cx="809" cy="279.6" r="8.6"/><circle cx="811.7" cy="281.3" r="8.6"/><circle cx="814.5" cy="283.1" r="8.6"/><circle cx="817.1" cy="284.8" r="8.6"/><circle cx="819.8" cy="286.5" r="8.6"/><circle cx="822.4" cy="288.2" r="8.6"/><circle cx="825" cy="289.8" r="8.6"/><circle cx="827.6" cy="291.4" r="8.6"/><circle cx="830.1" cy="293.1" r="8.6"/><circle cx="832.6" cy="294.6" r="8.6"/><circle cx="835.1" cy="296.2" r="8.6"/><circle cx="837.6" cy="297.8" r="8.6"/><circle cx="840.1" cy="299.3" r="8.6"/><circle cx="842.5" cy="300.9" r="8.6"/><circle cx="844.9" cy="302.4" r="8.6"/><circle cx="847.3" cy="303.9" r="8.6"/><circle cx="849.6" cy="305.4" r="8.6"/><circle cx="851.9" cy="306.9" r="8.6"/><circle cx="854.3" cy="308.4" r="8.6"/><circle cx="856.5" cy="309.8" r="8.6"/><circle cx="858.8" cy="311.3" r="8.6"/><circle cx="861.1" cy="312.8" r="8.6"/><circle cx="863.3" cy="314.2" r="8.6"/><circle cx="865.5" cy="315.7" r="8.6"/><circle cx="867.7" cy="317.1" r="8.6"/><circle cx="869.9" cy="318.6" r="8.6"/><circle cx="872" cy="320" r="8.6"/><circle cx="874.1" cy="321.5" r="8.6"/><circle cx="876.3" cy="322.9" r="8.6"/><circle cx="878.3" cy="324.4" r="8.6"/><circle cx="880.4" cy="325.8" r="8.6"/><circle cx="882.5" cy="327.3" r="8.6"/><circle cx="884.5" cy="328.7" r="8.6"/><circle cx="886.6" cy="330.2" r="8.6"/><circle cx="888.6" cy="331.6" r="8.6"/><circle cx="890.6" cy="333.1" r="8.6"/><circle cx="892.6" cy="334.5" r="8.6"/><circle cx="894.5" cy="336" r="8.6"/><circle cx="896.5" cy="337.4" r="8.6"/><circle cx="898.4" cy="338.9" r="8.6"/><circle cx="900.3" cy="340.3" r="8.6"/><circle cx="902.2" cy="341.8" r="8.6"/><circle cx="904.1" cy="343.3" r="8.6"/><circle cx="906" cy="344.8" r="8.6"/></g>
<g fill="#fff" stroke="#64649E" stroke-width="3.0" clip-path="url(#cr)"><circle cx="503.5" cy="151.9" r="8.6"/><circle cx="512.7" cy="152.9" r="8.6"/><circle cx="521.5" cy="153.8" r="8.6"/><circle cx="530.1" cy="154.6" r="8.6"/><circle cx="538.4" cy="155.5" r="8.6"/><circle cx="546.4" cy="156.3" r="8.6"/><circle cx="554.1" cy="157.2" r="8.6"/><circle cx="561.6" cy="158" r="8.6"/><circle cx="568.9" cy="158.8" r="8.6"/><circle cx="576" cy="159.6" r="8.6"/><circle cx="582.9" cy="160.4" r="8.6"/><circle cx="589.6" cy="161.2" r="8.6"/><circle cx="596.2" cy="162" r="8.6"/><circle cx="602.6" cy="162.7" r="8.6"/><circle cx="608.8" cy="163.5" r="8.6"/><circle cx="614.8" cy="164.3" r="8.6"/><circle cx="620.7" cy="165" r="8.6"/><circle cx="626.5" cy="165.8" r="8.6"/><circle cx="632.2" cy="166.5" r="8.6"/><circle cx="637.7" cy="167.3" r="8.6"/><circle cx="643.1" cy="168" r="8.6"/><circle cx="648.4" cy="168.8" r="8.6"/><circle cx="653.6" cy="169.6" r="8.6"/><circle cx="658.7" cy="170.5" r="8.6"/><circle cx="663.7" cy="171.5" r="8.6"/><circle cx="668.5" cy="172.5" r="8.6"/><circle cx="673.3" cy="173.6" r="8.6"/><circle cx="678" cy="174.7" r="8.6"/><circle cx="682.6" cy="176" r="8.6"/><circle cx="687.1" cy="177.3" r="8.6"/><circle cx="691.6" cy="178.8" r="8.6"/><circle cx="696" cy="180.3" r="8.6"/><circle cx="700.3" cy="182" r="8.6"/><circle cx="704.5" cy="183.7" r="8.6"/><circle cx="708.6" cy="185.6" r="8.6"/><circle cx="712.7" cy="187.6" r="8.6"/><circle cx="716.7" cy="189.7" r="8.6"/><circle cx="720.7" cy="191.8" r="8.6"/><circle cx="724.6" cy="194.1" r="8.6"/><circle cx="728.4" cy="196.5" r="8.6"/><circle cx="732.2" cy="199" r="8.6"/><circle cx="735.9" cy="201.6" r="8.6"/><circle cx="739.6" cy="204.2" r="8.6"/><circle cx="743.2" cy="206.9" r="8.6"/><circle cx="746.7" cy="209.7" r="8.6"/><circle cx="750.2" cy="212.5" r="8.6"/><circle cx="753.7" cy="215.3" r="8.6"/><circle cx="757.1" cy="218.2" r="8.6"/><circle cx="760.5" cy="221.1" r="8.6"/><circle cx="763.8" cy="224.1" r="8.6"/><circle cx="767.1" cy="227" r="8.6"/><circle cx="770.3" cy="230" r="8.6"/><circle cx="773.5" cy="233" r="8.6"/><circle cx="776.7" cy="236" r="8.6"/><circle cx="779.8" cy="239" r="8.6"/><circle cx="782.9" cy="242" r="8.6"/><circle cx="785.9" cy="245" r="8.6"/><circle cx="788.9" cy="248" r="8.6"/><circle cx="791.9" cy="251" r="8.6"/><circle cx="794.8" cy="254" r="8.6"/><circle cx="797.7" cy="256.9" r="8.6"/><circle cx="800.6" cy="259.9" r="8.6"/><circle cx="803.4" cy="262.8" r="8.6"/><circle cx="806.2" cy="265.8" r="8.6"/><circle cx="809" cy="268.7" r="8.6"/><circle cx="811.7" cy="271.5" r="8.6"/><circle cx="814.5" cy="274.4" r="8.6"/><circle cx="817.1" cy="277.2" r="8.6"/><circle cx="819.8" cy="280.1" r="8.6"/><circle cx="822.4" cy="282.9" r="8.6"/><circle cx="825" cy="285.6" r="8.6"/><circle cx="827.6" cy="288.3" r="8.6"/><circle cx="830.1" cy="291.1" r="8.6"/><circle cx="832.6" cy="293.7" r="8.6"/><circle cx="835.1" cy="296.4" r="8.6"/><circle cx="837.6" cy="299" r="8.6"/><circle cx="840.1" cy="301.6" r="8.6"/><circle cx="842.5" cy="304.1" r="8.6"/><circle cx="844.9" cy="306.6" r="8.6"/><circle cx="847.3" cy="309.1" r="8.6"/><circle cx="849.6" cy="311.6" r="8.6"/><circle cx="851.9" cy="314" r="8.6"/><circle cx="854.3" cy="316.4" r="8.6"/><circle cx="856.5" cy="318.7" r="8.6"/><circle cx="858.8" cy="321" r="8.6"/><circle cx="861.1" cy="323.3" r="8.6"/><circle cx="863.3" cy="325.5" r="8.6"/><circle cx="865.5" cy="327.7" r="8.6"/><circle cx="867.7" cy="329.9" r="8.6"/><circle cx="869.9" cy="332" r="8.6"/><circle cx="872" cy="334.1" r="8.6"/><circle cx="874.1" cy="336.2" r="8.6"/><circle cx="876.3" cy="338.2" r="8.6"/><circle cx="878.3" cy="340.1" r="8.6"/><circle cx="880.4" cy="342.1" r="8.6"/><circle cx="882.5" cy="344" r="8.6"/><circle cx="884.5" cy="345.9" r="8.6"/><circle cx="886.6" cy="347.7" r="8.6"/><circle cx="888.6" cy="349.5" r="8.6"/><circle cx="890.6" cy="351.3" r="8.6"/><circle cx="892.6" cy="353" r="8.6"/><circle cx="894.5" cy="354.7" r="8.6"/><circle cx="896.5" cy="356.3" r="8.6"/><circle cx="898.4" cy="357.9" r="8.6"/><circle cx="900.3" cy="359.5" r="8.6"/><circle cx="902.2" cy="361" r="8.6"/><circle cx="904.1" cy="362.5" r="8.6"/><circle cx="906" cy="364" r="8.6"/></g>
<g fill="#fff" stroke="#A0A0A0" stroke-width="3.0" clip-path="url(#cr)"><circle cx="503.5" cy="141" r="8.6"/><circle cx="512.7" cy="141.7" r="8.6"/><circle cx="521.5" cy="142.4" r="8.6"/><circle cx="530.1" cy="143.1" r="8.6"/><circle cx="538.4" cy="143.9" r="8.6"/><circle cx="546.4" cy="144.7" r="8.6"/><circle cx="554.1" cy="145.6" r="8.6"/><circle cx="561.6" cy="146.4" r="8.6"/><circle cx="568.9" cy="147.4" r="8.6"/><circle cx="576" cy="148.3" r="8.6"/><circle cx="582.9" cy="149.3" r="8.6"/><circle cx="589.6" cy="150.3" r="8.6"/><circle cx="596.2" cy="151.4" r="8.6"/><circle cx="602.6" cy="152.4" r="8.6"/><circle cx="608.8" cy="153.6" r="8.6"/><circle cx="614.8" cy="154.7" r="8.6"/><circle cx="620.7" cy="155.9" r="8.6"/><circle cx="626.5" cy="157.1" r="8.6"/><circle cx="632.2" cy="158.3" r="8.6"/><circle cx="637.7" cy="159.6" r="8.6"/><circle cx="643.1" cy="160.9" r="8.6"/><circle cx="648.4" cy="162.2" r="8.6"/><circle cx="653.6" cy="163.7" r="8.6"/><circle cx="658.7" cy="165.2" r="8.6"/><circle cx="663.7" cy="166.7" r="8.6"/><circle cx="668.5" cy="168.4" r="8.6"/><circle cx="673.3" cy="170.1" r="8.6"/><circle cx="678" cy="172" r="8.6"/><circle cx="682.6" cy="173.9" r="8.6"/><circle cx="687.1" cy="176" r="8.6"/><circle cx="691.6" cy="178.2" r="8.6"/><circle cx="696" cy="180.5" r="8.6"/><circle cx="700.3" cy="183" r="8.6"/><circle cx="704.5" cy="185.6" r="8.6"/><circle cx="708.6" cy="188.4" r="8.6"/><circle cx="712.7" cy="191.3" r="8.6"/><circle cx="716.7" cy="194.4" r="8.6"/><circle cx="720.7" cy="197.7" r="8.6"/><circle cx="724.6" cy="201.1" r="8.6"/><circle cx="728.4" cy="204.7" r="8.6"/><circle cx="732.2" cy="208.4" r="8.6"/><circle cx="735.9" cy="212.3" r="8.6"/><circle cx="739.6" cy="216.2" r="8.6"/><circle cx="743.2" cy="220.2" r="8.6"/><circle cx="746.7" cy="224.3" r="8.6"/><circle cx="750.2" cy="228.5" r="8.6"/><circle cx="753.7" cy="232.7" r="8.6"/><circle cx="757.1" cy="237" r="8.6"/><circle cx="760.5" cy="241.4" r="8.6"/><circle cx="763.8" cy="245.7" r="8.6"/><circle cx="767.1" cy="250.1" r="8.6"/><circle cx="770.3" cy="254.5" r="8.6"/><circle cx="773.5" cy="258.9" r="8.6"/><circle cx="776.7" cy="263.3" r="8.6"/><circle cx="779.8" cy="267.8" r="8.6"/><circle cx="782.9" cy="272.2" r="8.6"/><circle cx="785.9" cy="276.6" r="8.6"/><circle cx="788.9" cy="281.1" r="8.6"/><circle cx="791.9" cy="285.5" r="8.6"/><circle cx="794.8" cy="289.9" r="8.6"/><circle cx="797.7" cy="294.3" r="8.6"/><circle cx="800.6" cy="298.7" r="8.6"/><circle cx="803.4" cy="303.1" r="8.6"/><circle cx="806.2" cy="307.4" r="8.6"/><circle cx="809" cy="311.8" r="8.6"/><circle cx="811.7" cy="316.1" r="8.6"/><circle cx="814.5" cy="320.4" r="8.6"/><circle cx="817.1" cy="324.7" r="8.6"/><circle cx="819.8" cy="328.9" r="8.6"/><circle cx="822.4" cy="333.1" r="8.6"/><circle cx="825" cy="337.3" r="8.6"/><circle cx="827.6" cy="341.5" r="8.6"/><circle cx="830.1" cy="345.7" r="8.6"/><circle cx="832.6" cy="349.8" r="8.6"/><circle cx="835.1" cy="353.8" r="8.6"/><circle cx="837.6" cy="357.9" r="8.6"/><circle cx="840.1" cy="361.8" r="8.6"/><circle cx="842.5" cy="365.8" r="8.6"/><circle cx="844.9" cy="369.7" r="8.6"/><circle cx="847.3" cy="373.5" r="8.6"/><circle cx="849.6" cy="377.2" r="8.6"/><circle cx="851.9" cy="381" r="8.6"/><circle cx="854.3" cy="384.6" r="8.6"/><circle cx="856.5" cy="388.2" r="8.6"/><circle cx="858.8" cy="391.7" r="8.6"/><circle cx="861.1" cy="395.1" r="8.6"/><circle cx="863.3" cy="398.5" r="8.6"/><circle cx="865.5" cy="401.8" r="8.6"/><circle cx="867.7" cy="405.1" r="8.6"/><circle cx="869.9" cy="408.3" r="8.6"/><circle cx="872" cy="411.4" r="8.6"/><circle cx="874.1" cy="414.4" r="8.6"/><circle cx="876.3" cy="417.3" r="8.6"/><circle cx="878.3" cy="420.2" r="8.6"/><circle cx="880.4" cy="423" r="8.6"/><circle cx="882.5" cy="425.7" r="8.6"/><circle cx="884.5" cy="428.3" r="8.6"/><circle cx="886.6" cy="430.9" r="8.6"/><circle cx="888.6" cy="433.4" r="8.6"/><circle cx="890.6" cy="435.8" r="8.6"/><circle cx="892.6" cy="438.1" r="8.6"/><circle cx="894.5" cy="440.4" r="8.6"/><circle cx="896.5" cy="442.5" r="8.6"/><circle cx="898.4" cy="444.6" r="8.6"/><circle cx="900.3" cy="446.6" r="8.6"/><circle cx="902.2" cy="448.5" r="8.6"/><circle cx="904.1" cy="450.3" r="8.6"/><circle cx="906" cy="452.1" r="8.6"/></g>
<path d="M767 448V174.8H738.5L796 117.5L853.5 174.8H824.8V448Z" fill="#FF6F7A" fill-opacity="0.45"/>
<g fill="#fff" stroke="#FF6666" stroke-width="3.0" clip-path="url(#cr)"><circle cx="503.5" cy="110.9" r="8.6"/><circle cx="512.7" cy="109.8" r="8.6"/><circle cx="521.5" cy="108.8" r="8.6"/><circle cx="530.1" cy="107.9" r="8.6"/><circle cx="538.4" cy="107.1" r="8.6"/><circle cx="546.4" cy="106.4" r="8.6"/><circle cx="554.1" cy="105.8" r="8.6"/><circle cx="561.6" cy="105.3" r="8.6"/><circle cx="568.9" cy="104.9" r="8.6"/><circle cx="576" cy="104.6" r="8.6"/><circle cx="582.9" cy="104.4" r="8.6"/><circle cx="589.6" cy="104.3" r="8.6"/><circle cx="596.2" cy="104.2" r="8.6"/><circle cx="602.6" cy="104.3" r="8.6"/><circle cx="608.8" cy="104.4" r="8.6"/><circle cx="614.8" cy="104.5" r="8.6"/><circle cx="620.7" cy="104.8" r="8.6"/><circle cx="626.5" cy="105.1" r="8.6"/><circle cx="632.2" cy="105.4" r="8.6"/><circle cx="637.7" cy="105.9" r="8.6"/><circle cx="643.1" cy="106.4" r="8.6"/><circle cx="648.4" cy="107" r="8.6"/><circle cx="653.6" cy="107.6" r="8.6"/><circle cx="658.7" cy="108.4" r="8.6"/><circle cx="663.7" cy="109.3" r="8.6"/><circle cx="668.5" cy="110.2" r="8.6"/><circle cx="673.3" cy="111.3" r="8.6"/><circle cx="678" cy="112.5" r="8.6"/><circle cx="682.6" cy="113.8" r="8.6"/><circle cx="687.1" cy="115.2" r="8.6"/><circle cx="691.6" cy="116.7" r="8.6"/><circle cx="696" cy="118.3" r="8.6"/><circle cx="700.3" cy="120" r="8.6"/><circle cx="704.5" cy="121.9" r="8.6"/><circle cx="708.6" cy="123.9" r="8.6"/><circle cx="712.7" cy="126" r="8.6"/><circle cx="716.7" cy="128.2" r="8.6"/><circle cx="720.7" cy="130.5" r="8.6"/><circle cx="724.6" cy="133" r="8.6"/><circle cx="728.4" cy="135.5" r="8.6"/><circle cx="732.2" cy="138.1" r="8.6"/><circle cx="735.9" cy="140.9" r="8.6"/><circle cx="739.6" cy="143.7" r="8.6"/><circle cx="743.2" cy="146.5" r="8.6"/><circle cx="746.7" cy="149.5" r="8.6"/><circle cx="750.2" cy="152.5" r="8.6"/><circle cx="753.7" cy="155.5" r="8.6"/><circle cx="757.1" cy="158.6" r="8.6"/><circle cx="760.5" cy="161.8" r="8.6"/><circle cx="763.8" cy="165" r="8.6"/><circle cx="767.1" cy="168.2" r="8.6"/><circle cx="770.3" cy="171.4" r="8.6"/><circle cx="773.5" cy="174.7" r="8.6"/><circle cx="776.7" cy="178" r="8.6"/><circle cx="779.8" cy="181.3" r="8.6"/><circle cx="782.9" cy="184.6" r="8.6"/><circle cx="785.9" cy="188" r="8.6"/><circle cx="788.9" cy="191.3" r="8.6"/><circle cx="791.9" cy="194.7" r="8.6"/><circle cx="794.8" cy="198.1" r="8.6"/><circle cx="797.7" cy="201.4" r="8.6"/><circle cx="800.6" cy="204.8" r="8.6"/><circle cx="803.4" cy="208.2" r="8.6"/><circle cx="806.2" cy="211.6" r="8.6"/><circle cx="809" cy="214.9" r="8.6"/><circle cx="811.7" cy="218.3" r="8.6"/><circle cx="814.5" cy="221.6" r="8.6"/><circle cx="817.1" cy="225" r="8.6"/><circle cx="819.8" cy="228.3" r="8.6"/><circle cx="822.4" cy="231.7" r="8.6"/><circle cx="825" cy="235" r="8.6"/><circle cx="827.6" cy="238.3" r="8.6"/><circle cx="830.1" cy="241.5" r="8.6"/><circle cx="832.6" cy="244.8" r="8.6"/><circle cx="835.1" cy="248.1" r="8.6"/><circle cx="837.6" cy="251.3" r="8.6"/><circle cx="840.1" cy="254.5" r="8.6"/><circle cx="842.5" cy="257.7" r="8.6"/><circle cx="844.9" cy="260.9" r="8.6"/><circle cx="847.3" cy="264" r="8.6"/><circle cx="849.6" cy="267.2" r="8.6"/><circle cx="851.9" cy="270.3" r="8.6"/><circle cx="854.3" cy="273.3" r="8.6"/><circle cx="856.5" cy="276.4" r="8.6"/><circle cx="858.8" cy="279.4" r="8.6"/><circle cx="861.1" cy="282.3" r="8.6"/><circle cx="863.3" cy="285.3" r="8.6"/><circle cx="865.5" cy="288.2" r="8.6"/><circle cx="867.7" cy="291.1" r="8.6"/><circle cx="869.9" cy="293.9" r="8.6"/><circle cx="872" cy="296.7" r="8.6"/><circle cx="874.1" cy="299.5" r="8.6"/><circle cx="876.3" cy="302.2" r="8.6"/><circle cx="878.3" cy="304.9" r="8.6"/><circle cx="880.4" cy="307.5" r="8.6"/><circle cx="882.5" cy="310.1" r="8.6"/><circle cx="884.5" cy="312.7" r="8.6"/><circle cx="886.6" cy="315.2" r="8.6"/><circle cx="888.6" cy="317.7" r="8.6"/><circle cx="890.6" cy="320.2" r="8.6"/><circle cx="892.6" cy="322.6" r="8.6"/><circle cx="894.5" cy="324.9" r="8.6"/><circle cx="896.5" cy="327.2" r="8.6"/><circle cx="898.4" cy="329.5" r="8.6"/><circle cx="900.3" cy="331.8" r="8.6"/><circle cx="902.2" cy="333.9" r="8.6"/><circle cx="904.1" cy="336.1" r="8.6"/><circle cx="906" cy="338.2" r="8.6"/></g>
<rect x="100.5" y="17.4" width="807.5" height="3.8" fill="#000" />
<rect x="100.5" y="17.4" width="4.5" height="469.2" fill="#000" />
<rect x="100.5" y="482.1" width="402.5" height="4.3" fill="#000" />
<rect x="504.6" y="482.1" width="403.4" height="4.3" fill="#000" />
<text x="97.5" y="434.4" font-size="32" text-anchor="end" >150</text>
<text x="97.5" y="332.7" font-size="32" text-anchor="end" >200</text>
<text x="97.5" y="231" font-size="32" text-anchor="end" >250</text>
<text x="97.5" y="129.3" font-size="32" text-anchor="end" >300</text>
<text x="907.5" y="361.6" font-size="32" text-anchor="start" >140</text>
<text x="907.5" y="215.8" font-size="32" text-anchor="start" >160</text>
<text x="907.5" y="70" font-size="32" text-anchor="start" >180</text>
<text x="103" y="513.7" font-size="32" text-anchor="middle" >2</text>
<text x="275.3" y="513.7" font-size="32" text-anchor="middle" >4</text>
<text x="376" y="513.7" font-size="32" text-anchor="middle" >6</text>
<text x="447.5" y="513.7" font-size="32" text-anchor="middle" >8</text>
<text x="503" y="513.7" font-size="32" text-anchor="middle" >10</text>
<text x="676.8" y="513.7" font-size="32" text-anchor="middle" >4</text>
<text x="778.2" y="513.7" font-size="32" text-anchor="middle" >6</text>
<text x="850.2" y="513.7" font-size="32" text-anchor="middle" >8</text>
<text x="906" y="513.7" font-size="32" text-anchor="middle" >10</text>
<text font-size="32.3" text-anchor="middle" transform="translate(34 251.5) rotate(-90)">Mobility <tspan font-style="italic">μ<tspan font-size="0.69em" dy="0.22em">eff</tspan></tspan><tspan dy="-0.22em"> (cm</tspan><tspan font-size="0.69em" dy="-0.4em">2</tspan><tspan dy="0.4em">/V.s)</tspan></text>
<text font-size="33.7" text-anchor="middle" transform="translate(982 264) rotate(-90)">Mobility <tspan font-style="italic">μ<tspan font-size="0.69em" dy="0.22em">eff</tspan></tspan><tspan dy="-0.22em"> (cm</tspan><tspan font-size="0.69em" dy="-0.4em">2</tspan><tspan dy="0.4em">/V.s)</tspan></text>
<text x="476" y="548" font-size="32" text-anchor="middle"><tspan font-style="italic">Q<tspan font-size="22" dy="6">inv</tspan></tspan><tspan dy="-6"> (10</tspan><tspan font-size="22" dy="-12">12</tspan><tspan dy="12">cm</tspan><tspan font-size="22" dy="-12">-2</tspan><tspan dy="12">)</tspan></text>
<path d="M151.6 171.7H130V166.3L105 173.8L130 181.3V175.9H151.6Z" fill="#000" stroke="#000" stroke-width="1" stroke-linejoin="round"/>
<path d="M860.1 170.6H879.6V165.1L903.5 172.6L879.6 180.1V174.8H860.1Z" fill="#000" stroke="#000" stroke-width="1" stroke-linejoin="round"/>
<rect x="455" y="233" width="105.5" height="53.5" fill="#000" />
<rect x="447" y="224.4" width="105.5" height="53.3" fill="#fff" stroke="#000" stroke-width="1.2"/>
<text x="451" y="261" font-size="31.3"><tspan font-style="italic">t</tspan><tspan font-size="21" dy="8">w</tspan><tspan dy="-8">=1 μs</tspan></text>
<rect x="148.6" y="9" width="349" height="84.7" fill="#000" />
<rect x="139.5" y="1" width="349.5" height="84.2" fill="#fff" stroke="#000" stroke-width="1.2"/>
<rect x="519" y="9" width="374" height="85.7" fill="#000" />
<rect x="510" y="1.5" width="374" height="84.8" fill="#fff" stroke="#000" stroke-width="1.2"/>
<line x1="142.6" y1="15.5" x2="191.6" y2="15.5" stroke="#000000" stroke-width="4.6" />
<rect x="159.7" y="8.1" width="14.8" height="14.8" fill="#fff" stroke="#000000" stroke-width="2.8"/>
<text x="197.6" y="23" font-size="22" text-anchor="start" >Initial</text>
<line x1="259.4" y1="15.5" x2="308.4" y2="15.5" stroke="#EE0000" stroke-width="4.6" />
<rect x="276.5" y="8.1" width="14.8" height="14.8" fill="#fff" stroke="#EE0000" stroke-width="2.8"/>
<text x="314.4" y="23" font-size="22" text-anchor="start" >3.5 V</text>
<line x1="367.6" y1="15.5" x2="416.6" y2="15.5" stroke="#336699" stroke-width="4.6" />
<rect x="384.7" y="8.1" width="14.8" height="14.8" fill="#fff" stroke="#336699" stroke-width="2.8"/>
<text x="422.6" y="23" font-size="22" text-anchor="start" >3.75 V</text>
<line x1="142.6" y1="42.6" x2="191.6" y2="42.6" stroke="#FFC000" stroke-width="4.6" />
<rect x="159.7" y="35.2" width="14.8" height="14.8" fill="#fff" stroke="#FFC000" stroke-width="2.8"/>
<text x="197.6" y="50.1" font-size="22" text-anchor="start" >4 V</text>
<line x1="234.4" y1="42.6" x2="283.4" y2="42.6" stroke="#3CB96A" stroke-width="4.6" />
<rect x="251.5" y="35.2" width="14.8" height="14.8" fill="#fff" stroke="#3CB96A" stroke-width="2.8"/>
<text x="289.4" y="50.1" font-size="22" text-anchor="start" >4.25 V</text>
<line x1="353.6" y1="42.6" x2="402.6" y2="42.6" stroke="#64649E" stroke-width="4.6" />
<rect x="370.7" y="35.2" width="14.8" height="14.8" fill="#fff" stroke="#64649E" stroke-width="2.8"/>
<text x="408.6" y="50.1" font-size="22" text-anchor="start" >4.5 V</text>
<line x1="142.6" y1="70" x2="191.6" y2="70" stroke="#A0A0A0" stroke-width="4.6" />
<rect x="159.7" y="62.6" width="14.8" height="14.8" fill="#fff" stroke="#A0A0A0" stroke-width="2.8"/>
<text x="197.6" y="77.5" font-size="22" text-anchor="start" >4.75 V</text>
<line x1="261.4" y1="70" x2="310.4" y2="70" stroke="#FF6666" stroke-width="4.6" />
<rect x="278.5" y="62.6" width="14.8" height="14.8" fill="#fff" stroke="#FF6666" stroke-width="2.8"/>
<text x="316.4" y="77.5" font-size="22" text-anchor="start" >5 V</text>
<line x1="353.6" y1="70" x2="402.6" y2="70" stroke="#6699CC" stroke-width="4.6" />
<rect x="370.7" y="62.6" width="14.8" height="14.8" fill="#fff" stroke="#6699CC" stroke-width="2.8"/>
<text x="408.6" y="77.5" font-size="22" text-anchor="start" >5.25 V</text>
<line x1="513.6" y1="17" x2="562.6" y2="17" stroke="#EE0000" stroke-width="4.6" />
<circle cx="538.1" cy="17" r="8.3" fill="#fff" stroke="#EE0000" stroke-width="3"/>
<text x="568.6" y="24.5" font-size="22" text-anchor="start" >-6.5 V</text>
<line x1="629" y1="17" x2="678" y2="17" stroke="#336699" stroke-width="4.6" />
<circle cx="653.5" cy="17" r="8.3" fill="#fff" stroke="#336699" stroke-width="3"/>
<text x="684" y="24.5" font-size="22" text-anchor="start" >-6.75V</text>
<line x1="755" y1="17" x2="804" y2="17" stroke="#FFC000" stroke-width="4.6" />
<circle cx="779.5" cy="17" r="8.3" fill="#fff" stroke="#FFC000" stroke-width="3"/>
<text x="810" y="24.5" font-size="22" text-anchor="start" >-7 V</text>
<line x1="513.6" y1="43.6" x2="562.6" y2="43.6" stroke="#3CB96A" stroke-width="4.6" />
<circle cx="538.1" cy="43.6" r="8.3" fill="#fff" stroke="#3CB96A" stroke-width="3"/>
<text x="568.6" y="51.1" font-size="22" text-anchor="start" >-7.25 V</text>
<line x1="640" y1="43.6" x2="689" y2="43.6" stroke="#64649E" stroke-width="4.6" />
<circle cx="664.5" cy="43.6" r="8.3" fill="#fff" stroke="#64649E" stroke-width="3"/>
<text x="695" y="51.1" font-size="22" text-anchor="start" >-7.5 V</text>
<line x1="755" y1="43.6" x2="804" y2="43.6" stroke="#A0A0A0" stroke-width="4.6" />
<circle cx="779.5" cy="43.6" r="8.3" fill="#fff" stroke="#A0A0A0" stroke-width="3"/>
<text x="810" y="51.1" font-size="22" text-anchor="start" >-7.75 V</text>
<line x1="513.6" y1="71" x2="562.6" y2="71" stroke="#FF6666" stroke-width="4.6" />
<circle cx="538.1" cy="71" r="8.3" fill="#fff" stroke="#FF6666" stroke-width="3"/>
<text x="568.6" y="78.5" font-size="22" text-anchor="start" >-8 V</text>
<text x="15" y="44.8" font-size="43" text-anchor="start" >(a)</text>
<defs>
<radialGradient id="g_black" cx="0.5" cy="0.5" r="0.5" fx="0.35" fy="0.3"><stop offset="0" stop-color="#ffffff"/><stop offset="0.18" stop-color="#6a6a6a"/><stop offset="0.55" stop-color="#1a1a1a"/><stop offset="1" stop-color="#141414"/></radialGradient>
<radialGradient id="g_red" cx="0.5" cy="0.5" r="0.5" fx="0.35" fy="0.3"><stop offset="0" stop-color="#ffffff"/><stop offset="0.18" stop-color="#f35959"/><stop offset="0.55" stop-color="#EE0000"/><stop offset="1" stop-color="#be0000"/></radialGradient>
<radialGradient id="g_blue" cx="0.5" cy="0.5" r="0.5" fx="0.35" fy="0.3"><stop offset="0" stop-color="#ffffff"/><stop offset="0.18" stop-color="#7ea0c6"/><stop offset="0.55" stop-color="#3A6EA8"/><stop offset="1" stop-color="#2e5886"/></radialGradient>
<radialGradient id="g_yellow" cx="0.5" cy="0.5" r="0.5" fx="0.35" fy="0.3"><stop offset="0" stop-color="#ffffff"/><stop offset="0.18" stop-color="#ffd659"/><stop offset="0.55" stop-color="#FFC000"/><stop offset="1" stop-color="#cc9900"/></radialGradient>
<radialGradient id="g_green" cx="0.5" cy="0.5" r="0.5" fx="0.35" fy="0.3"><stop offset="0" stop-color="#ffffff"/><stop offset="0.18" stop-color="#80d19e"/><stop offset="0.55" stop-color="#3CB96A"/><stop offset="1" stop-color="#309454"/></radialGradient>
<radialGradient id="g_purple" cx="0.5" cy="0.5" r="0.5" fx="0.35" fy="0.3"><stop offset="0" stop-color="#ffffff"/><stop offset="0.18" stop-color="#9696ba"/><stop offset="0.55" stop-color="#5E5E96"/><stop offset="1" stop-color="#4b4b78"/></radialGradient>
<radialGradient id="g_gray" cx="0.5" cy="0.5" r="0.5" fx="0.35" fy="0.3"><stop offset="0" stop-color="#ffffff"/><stop offset="0.18" stop-color="#bdbdbd"/><stop offset="0.55" stop-color="#9A9A9A"/><stop offset="1" stop-color="#7b7b7b"/></radialGradient>
<radialGradient id="g_pink" cx="0.5" cy="0.5" r="0.5" fx="0.35" fy="0.3"><stop offset="0" stop-color="#ffffff"/><stop offset="0.18" stop-color="#ffa2a2"/><stop offset="0.55" stop-color="#FF7070"/><stop offset="1" stop-color="#cc5959"/></radialGradient>
<radialGradient id="g_lblue" cx="0.5" cy="0.5" r="0.5" fx="0.35" fy="0.3"><stop offset="0" stop-color="#ffffff"/><stop offset="0.18" stop-color="#9bbcdd"/><stop offset="0.55" stop-color="#6699CC"/><stop offset="1" stop-color="#517aa3"/></radialGradient>
<radialGradient id="g_ginit" cx="0.5" cy="0.5" r="0.5" fx="0.35" fy="0.3"><stop offset="0" stop-color="#ffffff"/><stop offset="0.18" stop-color="#b2b2b2"/><stop offset="0.55" stop-color="#8a8a8a"/><stop offset="1" stop-color="#6e6e6e"/></radialGradient>
</defs>
<rect x="99.3" y="569.9" width="390.7" height="4.1" fill="#000" />
<rect x="99.3" y="786.2" width="390.7" height="4.3" fill="#000" />
<rect x="99.3" y="1003" width="390.7" height="4.2" fill="#000" />
<rect x="99.3" y="569.9" width="4.1" height="437.3" fill="#000" />
<rect x="486" y="569.9" width="4.1" height="437.3" fill="#000" />
<rect x="103.4" y="583.1" width="5" height="3.6" fill="#000" />
<rect x="481" y="583.1" width="5" height="3.6" fill="#000" />
<rect x="103.4" y="624.1" width="5" height="3.6" fill="#000" />
<rect x="481" y="624.1" width="5" height="3.6" fill="#000" />
<rect x="103.4" y="665.1" width="5" height="3.6" fill="#000" />
<rect x="481" y="665.1" width="5" height="3.6" fill="#000" />
<rect x="103.4" y="706.1" width="5" height="3.6" fill="#000" />
<rect x="481" y="706.1" width="5" height="3.6" fill="#000" />
<rect x="103.4" y="747.1" width="5" height="3.6" fill="#000" />
<rect x="481" y="747.1" width="5" height="3.6" fill="#000" />
<rect x="103.4" y="603.9" width="2.5" height="3" fill="#000" />
<rect x="483.5" y="603.9" width="2.5" height="3" fill="#000" />
<rect x="103.4" y="644.9" width="2.5" height="3" fill="#000" />
<rect x="483.5" y="644.9" width="2.5" height="3" fill="#000" />
<rect x="103.4" y="685.9" width="2.5" height="3" fill="#000" />
<rect x="483.5" y="685.9" width="2.5" height="3" fill="#000" />
<rect x="103.4" y="726.9" width="2.5" height="3" fill="#000" />
<rect x="483.5" y="726.9" width="2.5" height="3" fill="#000" />
<rect x="103.4" y="767.9" width="2.5" height="3" fill="#000" />
<rect x="483.5" y="767.9" width="2.5" height="3" fill="#000" />
<rect x="103.4" y="974.8" width="5" height="3.6" fill="#000" />
<rect x="481" y="974.8" width="5" height="3.6" fill="#000" />
<rect x="103.4" y="902.3" width="5" height="3.6" fill="#000" />
<rect x="481" y="902.3" width="5" height="3.6" fill="#000" />
<rect x="103.4" y="829.8" width="5" height="3.6" fill="#000" />
<rect x="481" y="829.8" width="5" height="3.6" fill="#000" />
<rect x="103.4" y="1011.4" width="2.5" height="3" fill="#000" />
<rect x="483.5" y="1011.4" width="2.5" height="3" fill="#000" />
<rect x="103.4" y="938.9" width="2.5" height="3" fill="#000" />
<rect x="483.5" y="938.9" width="2.5" height="3" fill="#000" />
<rect x="103.4" y="866.4" width="2.5" height="3" fill="#000" />
<rect x="483.5" y="866.4" width="2.5" height="3" fill="#000" />
<rect x="103.4" y="793.9" width="2.5" height="3" fill="#000" />
<rect x="483.5" y="793.9" width="2.5" height="3" fill="#000" />
<rect x="114.3" y="574" width="3.4" height="5" fill="#000" />
<rect x="114.3" y="790.5" width="3.4" height="5" fill="#000" />
<rect x="114.3" y="998" width="3.4" height="5" fill="#000" />
<rect x="201.5" y="574" width="3.4" height="5" fill="#000" />
<rect x="201.5" y="790.5" width="3.4" height="5" fill="#000" />
<rect x="201.5" y="998" width="3.4" height="5" fill="#000" />
<rect x="240" y="574" width="3.4" height="5" fill="#000" />
<rect x="240" y="790.5" width="3.4" height="5" fill="#000" />
<rect x="240" y="998" width="3.4" height="5" fill="#000" />
<rect x="278.5" y="574" width="3.4" height="5" fill="#000" />
<rect x="278.5" y="790.5" width="3.4" height="5" fill="#000" />
<rect x="278.5" y="998" width="3.4" height="5" fill="#000" />
<rect x="317" y="574" width="3.4" height="5" fill="#000" />
<rect x="317" y="790.5" width="3.4" height="5" fill="#000" />
<rect x="317" y="998" width="3.4" height="5" fill="#000" />
<rect x="355.5" y="574" width="3.4" height="5" fill="#000" />
<rect x="355.5" y="790.5" width="3.4" height="5" fill="#000" />
<rect x="355.5" y="998" width="3.4" height="5" fill="#000" />
<rect x="394" y="574" width="3.4" height="5" fill="#000" />
<rect x="394" y="790.5" width="3.4" height="5" fill="#000" />
<rect x="394" y="998" width="3.4" height="5" fill="#000" />
<rect x="432.5" y="574" width="3.4" height="5" fill="#000" />
<rect x="432.5" y="790.5" width="3.4" height="5" fill="#000" />
<rect x="432.5" y="998" width="3.4" height="5" fill="#000" />
<rect x="471" y="574" width="3.4" height="5" fill="#000" />
<rect x="471" y="790.5" width="3.4" height="5" fill="#000" />
<rect x="471" y="998" width="3.4" height="5" fill="#000" />
<path d="M157.6 579.5L164 564.5" stroke="#000" stroke-width="10.5"/>
<path d="M157.4 580L164.2 564" stroke="#fff" stroke-width="1.3"/>
<path d="M155.9 795.7L162.3 780.7" stroke="#000" stroke-width="10.5"/>
<path d="M155.7 796.2L162.5 780.2" stroke="#fff" stroke-width="1.3"/>
<path d="M155.4 1012.8L161.8 997.8" stroke="#000" stroke-width="10.5"/>
<path d="M155.2 1013.3L162 997.3" stroke="#fff" stroke-width="1.3"/>
<text x="93" y="595.7" font-size="32" text-anchor="end" >0.3</text>
<text x="93" y="636.7" font-size="32" text-anchor="end" >0.0</text>
<text x="93" y="677.7" font-size="32" text-anchor="end" >-0.3</text>
<text x="93" y="718.7" font-size="32" text-anchor="end" >-0.6</text>
<text x="93" y="759.7" font-size="32" text-anchor="end" >-0.9</text>
<text x="93" y="987.4" font-size="32" text-anchor="end" >150</text>
<text x="93" y="914.9" font-size="32" text-anchor="end" >200</text>
<text x="93" y="842.4" font-size="32" text-anchor="end" >250</text>
<text x="116" y="1038" font-size="32" text-anchor="middle" >0.00</text>
<text x="203.2" y="1038" font-size="32" text-anchor="middle" >3.5</text>
<text x="280.2" y="1038" font-size="32" text-anchor="middle" >4.0</text>
<text x="357.2" y="1038" font-size="32" text-anchor="middle" >4.5</text>
<text x="434.2" y="1038" font-size="32" text-anchor="middle" >5.0</text>
<text x="294" y="1076" font-size="32" text-anchor="middle" >Write Pulse Voltage (V)</text>
<text x="106.6" y="866.7" font-size="31" text-anchor="start" >Initial</text>
<text x="113" y="656.3" font-size="31" text-anchor="start" >Initial</text>
<path d="M135 606.7L144 607.6" stroke="#444" stroke-width="6"/>
<path d="M164.6 609.5L169.4 609.9" stroke="#444" stroke-width="6"/>
<path d="M133.5 818.4L143 820.8" stroke="#444" stroke-width="6"/>
<path d="M162.5 825.7L167.5 827" stroke="#444" stroke-width="6"/>
<path d="M203.2 613L241.7 636.2L280.2 693L318.7 720.2L357.2 739.8L395.7 751.8L434.2 761L472.7 769" fill="none" stroke="#444" stroke-width="6" stroke-dasharray="10 11.5" />
<path d="M203.2 836L241.7 841L280.2 877.5L318.7 897.5L357.2 950L395.7 952.5L434.2 966L472.7 984" fill="none" stroke="#444" stroke-width="6" stroke-dasharray="10 11.5" />
<circle cx="116" cy="605" r="11" fill="url(#g_ginit)" stroke="#000" stroke-width="3.4"/>
<rect x="113.5" y="594" width="5" height="22" fill="#F8B4B9" />
<rect x="109.4" y="599.8" width="13.2" height="10.4" fill="#F8B4B9" />
<circle cx="203.2" cy="613" r="11" fill="url(#g_red)" stroke="#000" stroke-width="3.4"/>
<rect x="200.7" y="602" width="5" height="22" fill="#F8B4B9" />
<rect x="196.6" y="607.8" width="13.2" height="10.4" fill="#F8B4B9" />
<circle cx="241.7" cy="636.2" r="11" fill="url(#g_blue)" stroke="#000" stroke-width="3.4"/>
<rect x="239.2" y="625.2" width="5" height="22" fill="#F8B4B9" />
<rect x="235.1" y="631" width="13.2" height="10.4" fill="#F8B4B9" />
<rect x="273.9" y="677.6" width="12.6" height="4.8" fill="#F8B4B9" />
<rect x="273.9" y="703.6" width="12.6" height="4.8" fill="#F8B4B9" />
<rect x="277.8" y="680" width="4.8" height="26" fill="#F8B4B9" />
<circle cx="280.2" cy="693" r="11" fill="url(#g_yellow)" stroke="#000" stroke-width="3.4"/>
<circle cx="318.7" cy="720.2" r="11" fill="url(#g_green)" stroke="#000" stroke-width="3.4"/>
<rect x="312.4" y="711.6" width="12.6" height="5.2" fill="#F8B4B9" />
<rect x="312.4" y="723.6" width="12.6" height="5.2" fill="#F8B4B9" />
<rect x="316.3" y="709.2" width="4.8" height="5" fill="#F8B4B9" />
<rect x="316.3" y="726.2" width="4.8" height="5" fill="#F8B4B9" />
<circle cx="357.2" cy="739.8" r="11" fill="url(#g_purple)" stroke="#000" stroke-width="3.4"/>
<rect x="350.9" y="729.7" width="12.6" height="5.2" fill="#F8B4B9" />
<rect x="350.9" y="744.7" width="12.6" height="5.2" fill="#F8B4B9" />
<rect x="354.8" y="728.8" width="4.8" height="3.5" fill="#F8B4B9" />
<rect x="354.8" y="747.3" width="4.8" height="3.5" fill="#F8B4B9" />
<circle cx="395.7" cy="751.8" r="11" fill="url(#g_gray)" stroke="#000" stroke-width="3.4"/>
<rect x="389.4" y="743.2" width="12.6" height="5.2" fill="#F8B4B9" />
<rect x="389.4" y="755.2" width="12.6" height="5.2" fill="#F8B4B9" />
<rect x="393.3" y="740.8" width="4.8" height="5" fill="#F8B4B9" />
<rect x="393.3" y="757.8" width="4.8" height="5" fill="#F8B4B9" />
<circle cx="434.2" cy="761" r="11" fill="url(#g_pink)" stroke="#000" stroke-width="3.4"/>
<rect x="427.9" y="753.4" width="12.6" height="5.2" fill="#F8B4B9" />
<rect x="427.9" y="763.4" width="12.6" height="5.2" fill="#F8B4B9" />
<rect x="431.8" y="750" width="4.8" height="6" fill="#F8B4B9" />
<rect x="431.8" y="766" width="4.8" height="6" fill="#F8B4B9" />
<rect x="466.4" y="753.6" width="12.6" height="4.8" fill="#F8B4B9" />
<rect x="466.4" y="779.6" width="12.6" height="4.8" fill="#F8B4B9" />
<rect x="470.3" y="756" width="4.8" height="26" fill="#F8B4B9" />
<circle cx="472.7" cy="769" r="11" fill="url(#g_lblue)" stroke="#000" stroke-width="3.4"/>
<circle cx="116" cy="814" r="12.5" fill="url(#g_black)"/>
<rect x="109.7" y="806.4" width="12.6" height="5.2" fill="#F8B4B9" />
<rect x="109.7" y="816.4" width="12.6" height="5.2" fill="#F8B4B9" />
<rect x="113.6" y="803" width="4.8" height="6" fill="#F8B4B9" />
<rect x="113.6" y="819" width="4.8" height="6" fill="#F8B4B9" />
<circle cx="203.2" cy="836" r="12.5" fill="url(#g_red)"/>
<rect x="196.9" y="829.9" width="12.6" height="5.2" fill="#F8B4B9" />
<rect x="196.9" y="836.9" width="12.6" height="5.2" fill="#F8B4B9" />
<rect x="200.8" y="825" width="4.8" height="7.5" fill="#F8B4B9" />
<rect x="200.8" y="839.5" width="4.8" height="7.5" fill="#F8B4B9" />
<circle cx="241.7" cy="841" r="12.5" fill="url(#g_blue)"/>
<rect x="239.2" y="830" width="5" height="22" fill="#F8B4B9" />
<rect x="235.1" y="835.8" width="13.2" height="10.4" fill="#F8B4B9" />
<circle cx="280.2" cy="877.5" r="12.5" fill="url(#g_yellow)"/>
<rect x="277.7" y="866.5" width="5" height="22" fill="#F8B4B9" />
<rect x="273.6" y="872.3" width="13.2" height="10.4" fill="#F8B4B9" />
<circle cx="318.7" cy="897.5" r="12.5" fill="url(#g_green)"/>
<rect x="312.4" y="888.4" width="12.6" height="5.2" fill="#F8B4B9" />
<rect x="312.4" y="901.4" width="12.6" height="5.2" fill="#F8B4B9" />
<rect x="316.3" y="886.5" width="4.8" height="4.5" fill="#F8B4B9" />
<rect x="316.3" y="904" width="4.8" height="4.5" fill="#F8B4B9" />
<circle cx="357.2" cy="950" r="12.5" fill="url(#g_purple)"/>
<rect x="354.7" y="939" width="5" height="22" fill="#F8B4B9" />
<rect x="350.6" y="944.8" width="13.2" height="10.4" fill="#F8B4B9" />
<circle cx="395.7" cy="952.5" r="12.5" fill="url(#g_gray)"/>
<rect x="393.2" y="941.5" width="5" height="22" fill="#F8B4B9" />
<rect x="389.1" y="947.3" width="13.2" height="10.4" fill="#F8B4B9" />
<circle cx="434.2" cy="966" r="12.5" fill="url(#g_pink)"/>
<rect x="427.9" y="958.4" width="12.6" height="5.2" fill="#F8B4B9" />
<rect x="427.9" y="968.4" width="12.6" height="5.2" fill="#F8B4B9" />
<rect x="431.8" y="955" width="4.8" height="6" fill="#F8B4B9" />
<rect x="431.8" y="971" width="4.8" height="6" fill="#F8B4B9" />
<circle cx="472.7" cy="984" r="12.5" fill="url(#g_lblue)"/>
<rect x="470.2" y="973" width="5" height="22" fill="#F8B4B9" />
<rect x="466.1" y="978.8" width="13.2" height="10.4" fill="#F8B4B9" />
<rect x="229.6" y="762.9" width="104.8" height="53.8" fill="#fff" stroke="#000" stroke-width="1.2"/>
<text x="234" y="801" font-size="31.3"><tspan font-style="italic">t</tspan><tspan font-size="21" dy="8">w</tspan><tspan dy="-8">=1 μs</tspan></text>
<text x="108" y="976" font-size="32"><tspan font-style="italic">Q</tspan><tspan font-size="22" dy="8">inv</tspan><tspan dy="-8">=5×10</tspan><tspan font-size="22" dy="-13">12</tspan><tspan dy="13"> cm</tspan><tspan font-size="22" dy="-13">-2</tspan></text>
<text font-size="30.8" text-anchor="middle" transform="translate(33 677) rotate(-90)"><tspan font-style="italic">V</tspan><tspan font-size="0.69em" dy="0.22em">TH</tspan><tspan dy="-0.22em"> (V)</tspan></text>
<text font-size="32.3" text-anchor="middle" transform="translate(39 879.6) rotate(-90)">Mobility (cm<tspan font-size="0.69em" dy="-0.4em">2</tspan><tspan dy="0.4em">/V.s)</tspan></text>
<text x="-2" y="595.5" font-size="43" text-anchor="start" >(b)</text>
<rect x="588.9" y="570.7" width="385.8" height="4.1" fill="#000" />
<rect x="588.9" y="786.5" width="385.8" height="4.1" fill="#000" />
<rect x="588.9" y="1004.8" width="385.8" height="4.2" fill="#000" />
<rect x="588.9" y="570.7" width="4.6" height="438.3" fill="#000" />
<rect x="970.4" y="570.7" width="4.3" height="438.3" fill="#000" />
<rect x="593.5" y="585.4" width="5" height="3.6" fill="#000" />
<rect x="965.4" y="585.4" width="5" height="3.6" fill="#000" />
<rect x="593.5" y="629" width="5" height="3.6" fill="#000" />
<rect x="965.4" y="629" width="5" height="3.6" fill="#000" />
<rect x="593.5" y="672.6" width="5" height="3.6" fill="#000" />
<rect x="965.4" y="672.6" width="5" height="3.6" fill="#000" />
<rect x="593.5" y="716.3" width="5" height="3.6" fill="#000" />
<rect x="965.4" y="716.3" width="5" height="3.6" fill="#000" />
<rect x="593.5" y="760" width="5" height="3.6" fill="#000" />
<rect x="965.4" y="760" width="5" height="3.6" fill="#000" />
<rect x="593.5" y="607.5" width="2.5" height="3" fill="#000" />
<rect x="967.9" y="607.5" width="2.5" height="3" fill="#000" />
<rect x="593.5" y="651.1" width="2.5" height="3" fill="#000" />
<rect x="967.9" y="651.1" width="2.5" height="3" fill="#000" />
<rect x="593.5" y="694.8" width="2.5" height="3" fill="#000" />
<rect x="967.9" y="694.8" width="2.5" height="3" fill="#000" />
<rect x="593.5" y="738.4" width="2.5" height="3" fill="#000" />
<rect x="967.9" y="738.4" width="2.5" height="3" fill="#000" />
<rect x="593.5" y="782.1" width="2.5" height="3" fill="#000" />
<rect x="967.9" y="782.1" width="2.5" height="3" fill="#000" />
<rect x="593.5" y="969.8" width="5" height="3.6" fill="#000" />
<rect x="965.4" y="969.8" width="5" height="3.6" fill="#000" />
<rect x="593.5" y="896.6" width="5" height="3.6" fill="#000" />
<rect x="965.4" y="896.6" width="5" height="3.6" fill="#000" />
<rect x="593.5" y="823.4" width="5" height="3.6" fill="#000" />
<rect x="965.4" y="823.4" width="5" height="3.6" fill="#000" />
<rect x="593.5" y="933.5" width="2.5" height="3" fill="#000" />
<rect x="967.9" y="933.5" width="2.5" height="3" fill="#000" />
<rect x="593.5" y="860.3" width="2.5" height="3" fill="#000" />
<rect x="967.9" y="860.3" width="2.5" height="3" fill="#000" />
<rect x="593.5" y="787.1" width="2.5" height="3" fill="#000" />
<rect x="967.9" y="787.1" width="2.5" height="3" fill="#000" />
<rect x="593.5" y="1006.7" width="2.5" height="3" fill="#000" />
<rect x="967.9" y="1006.7" width="2.5" height="3" fill="#000" />
<rect x="611.6" y="574.8" width="3.4" height="5" fill="#000" />
<rect x="611.6" y="790.6" width="3.4" height="5" fill="#000" />
<rect x="611.6" y="999.8" width="3.4" height="5" fill="#000" />
<rect x="668.8" y="574.8" width="3.4" height="5" fill="#000" />
<rect x="668.8" y="790.6" width="3.4" height="5" fill="#000" />
<rect x="668.8" y="999.8" width="3.4" height="5" fill="#000" />
<rect x="726" y="574.8" width="3.4" height="5" fill="#000" />
<rect x="726" y="790.6" width="3.4" height="5" fill="#000" />
<rect x="726" y="999.8" width="3.4" height="5" fill="#000" />
<rect x="783.2" y="574.8" width="3.4" height="5" fill="#000" />
<rect x="783.2" y="790.6" width="3.4" height="5" fill="#000" />
<rect x="783.2" y="999.8" width="3.4" height="5" fill="#000" />
<rect x="840.4" y="574.8" width="3.4" height="5" fill="#000" />
<rect x="840.4" y="790.6" width="3.4" height="5" fill="#000" />
<rect x="840.4" y="999.8" width="3.4" height="5" fill="#000" />
<rect x="897.6" y="574.8" width="3.4" height="5" fill="#000" />
<rect x="897.6" y="790.6" width="3.4" height="5" fill="#000" />
<rect x="897.6" y="999.8" width="3.4" height="5" fill="#000" />
<rect x="954.8" y="574.8" width="3.4" height="5" fill="#000" />
<rect x="954.8" y="790.6" width="3.4" height="5" fill="#000" />
<rect x="954.8" y="999.8" width="3.4" height="5" fill="#000" />
<text x="583" y="597.9" font-size="32" text-anchor="end" >0.3</text>
<text x="583" y="641.6" font-size="32" text-anchor="end" >0.0</text>
<text x="583" y="685.2" font-size="32" text-anchor="end" >-0.3</text>
<text x="583" y="728.9" font-size="32" text-anchor="end" >-0.6</text>
<text x="583" y="772.5" font-size="32" text-anchor="end" >-0.9</text>
<text x="583" y="982.4" font-size="32" text-anchor="end" >135</text>
<text x="583" y="909.2" font-size="32" text-anchor="end" >150</text>
<text x="583" y="836" font-size="32" text-anchor="end" >165</text>
<text x="613.3" y="1041" font-size="32" text-anchor="middle" >-6.5</text>
<text x="727.7" y="1041" font-size="32" text-anchor="middle" >-7.0</text>
<text x="842.1" y="1041" font-size="32" text-anchor="middle" >-7.5</text>
<text x="956.5" y="1041" font-size="32" text-anchor="middle" >-8.0</text>
<text x="784.5" y="1077" font-size="32" text-anchor="middle" >Erase Pulse Voltage (V)</text>
<path d="M613.3 764.2L670.5 752.4L727.7 753L784.9 742.2L842.1 716.2L899.3 639.2L956.5 594.8" fill="none" stroke="#444" stroke-width="6" stroke-dasharray="10 11.5" />
<path d="M613.3 986.6L670.5 948.4L727.7 934L784.9 865.7L842.1 846.3L899.3 847.3L956.5 805.5" fill="none" stroke="#444" stroke-width="6" stroke-dasharray="10 11.5" />
<circle cx="613.3" cy="764.2" r="11" fill="url(#g_red)" stroke="#000" stroke-width="3.4"/>
<rect x="610.8" y="753.2" width="5" height="22" fill="#F8B4B9" />
<rect x="606.7" y="759" width="13.2" height="10.4" fill="#F8B4B9" />
<circle cx="670.5" cy="752.4" r="11" fill="url(#g_blue)" stroke="#000" stroke-width="3.4"/>
<rect x="668" y="741.4" width="5" height="22" fill="#F8B4B9" />
<rect x="663.9" y="747.2" width="13.2" height="10.4" fill="#F8B4B9" />
<circle cx="727.7" cy="753" r="11" fill="url(#g_yellow)" stroke="#000" stroke-width="3.4"/>
<rect x="725.2" y="742" width="5" height="22" fill="#F8B4B9" />
<rect x="721.1" y="747.8" width="13.2" height="10.4" fill="#F8B4B9" />
<circle cx="784.9" cy="742.2" r="11" fill="url(#g_green)" stroke="#000" stroke-width="3.4"/>
<rect x="782.4" y="731.2" width="5" height="22" fill="#F8B4B9" />
<rect x="778.3" y="737" width="13.2" height="10.4" fill="#F8B4B9" />
<rect x="835.8" y="696.8" width="12.6" height="4.8" fill="#F8B4B9" />
<rect x="835.8" y="730.8" width="12.6" height="4.8" fill="#F8B4B9" />
<rect x="839.7" y="699.2" width="4.8" height="34" fill="#F8B4B9" />
<circle cx="842.1" cy="716.2" r="11" fill="url(#g_purple)" stroke="#000" stroke-width="3.4"/>
<circle cx="899.3" cy="639.2" r="11" fill="url(#g_gray)" stroke="#000" stroke-width="3.4"/>
<rect x="896.8" y="628.2" width="5" height="22" fill="#F8B4B9" />
<rect x="892.7" y="634" width="13.2" height="10.4" fill="#F8B4B9" />
<circle cx="956.5" cy="594.8" r="11" fill="url(#g_pink)" stroke="#000" stroke-width="3.4"/>
<rect x="954" y="583.8" width="5" height="22" fill="#F8B4B9" />
<rect x="949.9" y="589.6" width="13.2" height="10.4" fill="#F8B4B9" />
<rect x="607" y="970.7" width="12.6" height="4.8" fill="#F8B4B9" />
<rect x="607" y="997.7" width="12.6" height="4.8" fill="#F8B4B9" />
<rect x="610.9" y="973.1" width="4.8" height="27" fill="#F8B4B9" />
<circle cx="613.3" cy="986.6" r="12.5" fill="url(#g_red)"/>
<circle cx="670.5" cy="948.4" r="12.5" fill="url(#g_blue)"/>
<rect x="664.2" y="938.8" width="12.6" height="5.2" fill="#F8B4B9" />
<rect x="664.2" y="952.8" width="12.6" height="5.2" fill="#F8B4B9" />
<rect x="668.1" y="937.4" width="4.8" height="4" fill="#F8B4B9" />
<rect x="668.1" y="955.4" width="4.8" height="4" fill="#F8B4B9" />
<circle cx="727.7" cy="934" r="12.5" fill="url(#g_yellow)"/>
<rect x="721.4" y="923.4" width="12.6" height="5.2" fill="#F8B4B9" />
<rect x="721.4" y="939.4" width="12.6" height="5.2" fill="#F8B4B9" />
<rect x="725.3" y="923" width="4.8" height="3" fill="#F8B4B9" />
<rect x="725.3" y="942" width="4.8" height="3" fill="#F8B4B9" />
<circle cx="784.9" cy="865.7" r="12.5" fill="url(#g_green)"/>
<rect x="778.6" y="858.1" width="12.6" height="5.2" fill="#F8B4B9" />
<rect x="778.6" y="868.1" width="12.6" height="5.2" fill="#F8B4B9" />
<rect x="782.5" y="854.7" width="4.8" height="6" fill="#F8B4B9" />
<rect x="782.5" y="870.7" width="4.8" height="6" fill="#F8B4B9" />
<circle cx="842.1" cy="846.3" r="12.5" fill="url(#g_purple)"/>
<rect x="835.8" y="838.7" width="12.6" height="5.2" fill="#F8B4B9" />
<rect x="835.8" y="848.7" width="12.6" height="5.2" fill="#F8B4B9" />
<rect x="839.7" y="835.3" width="4.8" height="6" fill="#F8B4B9" />
<rect x="839.7" y="851.3" width="4.8" height="6" fill="#F8B4B9" />
<circle cx="899.3" cy="847.3" r="12.5" fill="url(#g_gray)"/>
<rect x="893" y="836.7" width="12.6" height="5.2" fill="#F8B4B9" />
<rect x="893" y="852.7" width="12.6" height="5.2" fill="#F8B4B9" />
<rect x="896.9" y="836.3" width="4.8" height="3" fill="#F8B4B9" />
<rect x="896.9" y="855.3" width="4.8" height="3" fill="#F8B4B9" />
<circle cx="956.5" cy="805.5" r="12.5" fill="url(#g_pink)"/>
<rect x="954" y="794.5" width="5" height="22" fill="#F8B4B9" />
<rect x="949.9" y="800.3" width="13.2" height="10.4" fill="#F8B4B9" />
<rect x="735" y="764" width="106" height="52.7" fill="#fff" stroke="#000" stroke-width="1.2"/>
<text x="739.5" y="802" font-size="31.3"><tspan font-style="italic">t</tspan><tspan font-size="21" dy="8">w</tspan><tspan dy="-8">=1 μs</tspan></text>
<text x="743" y="984" font-size="32"><tspan font-style="italic">Q</tspan><tspan font-size="22" dy="8">inv</tspan><tspan dy="-8">=5×10</tspan><tspan font-size="22" dy="-13">12</tspan><tspan dy="13"> cm</tspan><tspan font-size="22" dy="-13">-2</tspan></text>
<text font-size="31.3" text-anchor="middle" transform="translate(526.7 677.2) rotate(-90)"><tspan font-style="italic">V</tspan><tspan font-size="0.69em" dy="0.22em">TH</tspan><tspan dy="-0.22em"> (V)</tspan></text>
<text font-size="32.4" text-anchor="middle" transform="translate(535 879.4) rotate(-90)">Mobility (cm<tspan font-size="0.69em" dy="-0.4em">2</tspan><tspan dy="0.4em">/V.s)</tspan></text>
<text x="491.5" y="594" font-size="43" text-anchor="start" >(c)</text>
<defs><clipPath id="cd"><rect x="104" y="1093" width="381" height="287"/></clipPath><clipPath id="ce"><rect x="592" y="1093" width="385" height="286"/></clipPath></defs>
<path d="M103 1272.2L141.7 1365.6L164.3 1297.3L180.4 1250.6L192.8 1229L203 1211L211.6 1203.8L219 1200.2L225.6 1200.2L231.5 1198.5L270.2 1214.6L292.8 1239.8L308.9 1259.9L321.3 1275L331.5 1290.1L340.1 1300.9L347.5 1308.1L354.1 1315.3L360 1322.5L398.7 1344L421.3 1354.8L437.4 1362L449.8 1365.6L460 1369.2L468.6 1372.8L476 1372.8L482.6 1372.8L488.5 1372.8" fill="none" stroke="#FFC000" stroke-width="4.5" stroke-dasharray="14 8" clip-path="url(#cd)"/>
<g fill="#fff" stroke="#FFC000" stroke-width="4.6" clip-path="url(#cd)"><circle cx="103" cy="1272.2" r="7.4"/><circle cx="141.7" cy="1365.6" r="7.4"/><circle cx="164.3" cy="1297.3" r="7.4"/><circle cx="180.4" cy="1250.6" r="7.4"/><circle cx="192.8" cy="1229" r="7.4"/><circle cx="203" cy="1211" r="7.4"/><circle cx="211.6" cy="1203.8" r="7.4"/><circle cx="219" cy="1200.2" r="7.4"/><circle cx="225.6" cy="1200.2" r="7.4"/><circle cx="231.5" cy="1198.5" r="7.4"/><circle cx="270.2" cy="1214.6" r="7.4"/><circle cx="292.8" cy="1239.8" r="7.4"/><circle cx="308.9" cy="1259.9" r="7.4"/><circle cx="321.3" cy="1275" r="7.4"/><circle cx="331.5" cy="1290.1" r="7.4"/><circle cx="340.1" cy="1300.9" r="7.4"/><circle cx="347.5" cy="1308.1" r="7.4"/><circle cx="354.1" cy="1315.3" r="7.4"/><circle cx="360" cy="1322.5" r="7.4"/><circle cx="398.7" cy="1344" r="7.4"/><circle cx="421.3" cy="1354.8" r="7.4"/><circle cx="437.4" cy="1362" r="7.4"/><circle cx="449.8" cy="1365.6" r="7.4"/><circle cx="460" cy="1369.2" r="7.4"/><circle cx="468.6" cy="1372.8" r="7.4"/><circle cx="476" cy="1372.8" r="7.4"/><circle cx="482.6" cy="1372.8" r="7.4"/><circle cx="488.5" cy="1372.8" r="7.4"/></g>
<path d="M103 1250.6L141.7 1318.9L164.3 1308.1L180.4 1261.4L192.8 1229L203 1207.4L211.6 1193.1L219 1182.3L225.6 1181.2L231.5 1181.2L270.2 1181.2L292.8 1203.8L308.9 1225.4L321.3 1247L331.5 1261.4L340.1 1272.2L347.5 1282.9L354.1 1290.1L360 1308.1L398.7 1336.9L421.3 1347.6L437.4 1354.8L449.8 1362L460 1365.6L468.6 1369.2L476 1369.2L482.6 1369.2L488.5 1369.2" fill="none" stroke="#3CB96A" stroke-width="4.5" stroke-dasharray="14 8" clip-path="url(#cd)"/>
<g fill="#fff" stroke="#3CB96A" stroke-width="4.6" clip-path="url(#cd)"><circle cx="103" cy="1250.6" r="7.4"/><circle cx="141.7" cy="1318.9" r="7.4"/><circle cx="164.3" cy="1308.1" r="7.4"/><circle cx="180.4" cy="1261.4" r="7.4"/><circle cx="192.8" cy="1229" r="7.4"/><circle cx="203" cy="1207.4" r="7.4"/><circle cx="211.6" cy="1193.1" r="7.4"/><circle cx="219" cy="1182.3" r="7.4"/><circle cx="225.6" cy="1181.2" r="7.4"/><circle cx="231.5" cy="1181.2" r="7.4"/><circle cx="270.2" cy="1181.2" r="7.4"/><circle cx="292.8" cy="1203.8" r="7.4"/><circle cx="308.9" cy="1225.4" r="7.4"/><circle cx="321.3" cy="1247" r="7.4"/><circle cx="331.5" cy="1261.4" r="7.4"/><circle cx="340.1" cy="1272.2" r="7.4"/><circle cx="347.5" cy="1282.9" r="7.4"/><circle cx="354.1" cy="1290.1" r="7.4"/><circle cx="360" cy="1308.1" r="7.4"/><circle cx="398.7" cy="1336.9" r="7.4"/><circle cx="421.3" cy="1347.6" r="7.4"/><circle cx="437.4" cy="1354.8" r="7.4"/><circle cx="449.8" cy="1362" r="7.4"/><circle cx="460" cy="1365.6" r="7.4"/><circle cx="468.6" cy="1369.2" r="7.4"/><circle cx="476" cy="1369.2" r="7.4"/><circle cx="482.6" cy="1369.2" r="7.4"/><circle cx="488.5" cy="1369.2" r="7.4"/></g>
<path d="M103 1270L141.7 1368.9L164.3 1367.8L180.4 1292.6L192.8 1257.8L203 1227.6L211.6 1207.4L219 1193.1L225.6 1182.3L231.5 1164.3L270.2 1142.7L292.8 1175.1L308.9 1211L321.3 1236.2L331.5 1254.2L340.1 1268.6L347.5 1279.3L354.1 1290.1L360 1300.9L398.7 1336.9L421.3 1347.6L437.4 1354.8L449.8 1358.4L460 1362L468.6 1365.6L476 1365.6L482.6 1369.2L488.5 1369.2" fill="none" stroke="#FF6666" stroke-width="4.5" stroke-dasharray="16 6" clip-path="url(#cd)"/>
<g fill="#fff" stroke="#FF6666" stroke-width="4.6" clip-path="url(#cd)"><circle cx="103" cy="1270" r="7.4"/><circle cx="141.7" cy="1368.9" r="7.4"/><circle cx="164.3" cy="1367.8" r="7.4"/><circle cx="180.4" cy="1292.6" r="7.4"/><circle cx="192.8" cy="1257.8" r="7.4"/><circle cx="203" cy="1227.6" r="7.4"/><circle cx="211.6" cy="1207.4" r="7.4"/><circle cx="219" cy="1193.1" r="7.4"/><circle cx="225.6" cy="1182.3" r="7.4"/><circle cx="231.5" cy="1164.3" r="7.4"/><circle cx="270.2" cy="1142.7" r="7.4"/><circle cx="292.8" cy="1175.1" r="7.4"/><circle cx="308.9" cy="1211" r="7.4"/><circle cx="321.3" cy="1236.2" r="7.4"/><circle cx="331.5" cy="1254.2" r="7.4"/><circle cx="340.1" cy="1268.6" r="7.4"/><circle cx="347.5" cy="1279.3" r="7.4"/><circle cx="354.1" cy="1290.1" r="7.4"/><circle cx="360" cy="1300.9" r="7.4"/><circle cx="398.7" cy="1336.9" r="7.4"/><circle cx="421.3" cy="1347.6" r="7.4"/><circle cx="437.4" cy="1354.8" r="7.4"/><circle cx="449.8" cy="1358.4" r="7.4"/><circle cx="460" cy="1362" r="7.4"/><circle cx="468.6" cy="1365.6" r="7.4"/><circle cx="476" cy="1365.6" r="7.4"/><circle cx="482.6" cy="1369.2" r="7.4"/><circle cx="488.5" cy="1369.2" r="7.4"/></g>
<path d="M103 1221.8L141.7 1333.3L164.3 1300.9L180.4 1254.2L192.8 1214.6L203 1189.5L211.6 1171.5L219 1157.1L225.6 1149.9L231.5 1142.7L270.2 1142.7L292.8 1171.5L308.9 1203.8L321.3 1229L331.5 1257.8L340.1 1265L347.5 1275.7L354.1 1286.5L360 1297.3L398.7 1333.3L421.3 1344L437.4 1351.2L449.8 1358.4L460 1362L468.6 1365.6L476 1365.6L482.6 1369.2L488.5 1369.2" fill="none" stroke="#A0A0A0" stroke-width="4.5"  clip-path="url(#cd)"/>
<g fill="#fff" stroke="#A0A0A0" stroke-width="4.6" clip-path="url(#cd)"><circle cx="103" cy="1221.8" r="7.4"/><circle cx="141.7" cy="1333.3" r="7.4"/><circle cx="164.3" cy="1300.9" r="7.4"/><circle cx="180.4" cy="1254.2" r="7.4"/><circle cx="192.8" cy="1214.6" r="7.4"/><circle cx="203" cy="1189.5" r="7.4"/><circle cx="211.6" cy="1171.5" r="7.4"/><circle cx="219" cy="1157.1" r="7.4"/><circle cx="225.6" cy="1149.9" r="7.4"/><circle cx="231.5" cy="1142.7" r="7.4"/><circle cx="270.2" cy="1142.7" r="7.4"/><circle cx="292.8" cy="1171.5" r="7.4"/><circle cx="308.9" cy="1203.8" r="7.4"/><circle cx="321.3" cy="1229" r="7.4"/><circle cx="331.5" cy="1257.8" r="7.4"/><circle cx="340.1" cy="1265" r="7.4"/><circle cx="347.5" cy="1275.7" r="7.4"/><circle cx="354.1" cy="1286.5" r="7.4"/><circle cx="360" cy="1297.3" r="7.4"/><circle cx="398.7" cy="1333.3" r="7.4"/><circle cx="421.3" cy="1344" r="7.4"/><circle cx="437.4" cy="1351.2" r="7.4"/><circle cx="449.8" cy="1358.4" r="7.4"/><circle cx="460" cy="1362" r="7.4"/><circle cx="468.6" cy="1365.6" r="7.4"/><circle cx="476" cy="1365.6" r="7.4"/><circle cx="482.6" cy="1369.2" r="7.4"/><circle cx="488.5" cy="1369.2" r="7.4"/></g>
<path d="M103 1297.3L141.7 1335.1L164.3 1335.1L180.4 1265L192.8 1221.8L203 1200.2L211.6 1182.3L219 1164.3L225.6 1153.5L231.5 1146.3L270.2 1135.5L292.8 1160.7L308.9 1194.9L321.3 1252.4L331.5 1280.1L340.1 1295.2L347.5 1303.8L354.1 1323.9L360 1323.9L398.7 1351.2L421.3 1351.2L437.4 1358.4L449.8 1365.6L460 1369.2L468.6 1372.8L476 1372.8L482.6 1372.8L488.5 1372.8" fill="none" stroke="#64649E" stroke-width="4.5" stroke-dasharray="16 7" clip-path="url(#cd)"/>
<g fill="#fff" stroke="#64649E" stroke-width="4.6" clip-path="url(#cd)"><circle cx="103" cy="1297.3" r="7.4"/><circle cx="141.7" cy="1335.1" r="7.4"/><circle cx="164.3" cy="1335.1" r="7.4"/><circle cx="180.4" cy="1265" r="7.4"/><circle cx="192.8" cy="1221.8" r="7.4"/><circle cx="203" cy="1200.2" r="7.4"/><circle cx="211.6" cy="1182.3" r="7.4"/><circle cx="219" cy="1164.3" r="7.4"/><circle cx="225.6" cy="1153.5" r="7.4"/><circle cx="231.5" cy="1146.3" r="7.4"/><circle cx="270.2" cy="1135.5" r="7.4"/><circle cx="292.8" cy="1160.7" r="7.4"/><circle cx="308.9" cy="1194.9" r="7.4"/><circle cx="321.3" cy="1252.4" r="7.4"/><circle cx="331.5" cy="1280.1" r="7.4"/><circle cx="340.1" cy="1295.2" r="7.4"/><circle cx="347.5" cy="1303.8" r="7.4"/><circle cx="354.1" cy="1323.9" r="7.4"/><circle cx="360" cy="1323.9" r="7.4"/><circle cx="398.7" cy="1351.2" r="7.4"/><circle cx="421.3" cy="1351.2" r="7.4"/><circle cx="437.4" cy="1358.4" r="7.4"/><circle cx="449.8" cy="1365.6" r="7.4"/><circle cx="460" cy="1369.2" r="7.4"/><circle cx="468.6" cy="1372.8" r="7.4"/><circle cx="476" cy="1372.8" r="7.4"/><circle cx="482.6" cy="1372.8" r="7.4"/><circle cx="488.5" cy="1372.8" r="7.4"/></g>
<path d="M103 1358.8L141.7 1348.7L164.3 1308.1L180.4 1272.2L192.8 1232.6L203 1207.4L211.6 1189.5L219 1171.5L225.6 1164.3L231.5 1157.1L270.2 1122.6L292.8 1140.9L308.9 1168.6L321.3 1193.1L331.5 1225.4L340.1 1236.2L347.5 1247L354.1 1257.8L360 1267.5L398.7 1315.3L421.3 1331.1L437.4 1340.1L449.8 1344L460 1346.2L468.6 1347.6L476 1347.6L482.6 1347.6L488.5 1347.6" fill="none" stroke="#EE0000" stroke-width="4.5" stroke-dasharray="16 7" clip-path="url(#cd)"/>
<g fill="#fff" stroke="#EE0000" stroke-width="4.6" clip-path="url(#cd)"><circle cx="103" cy="1358.8" r="7.4"/><circle cx="141.7" cy="1348.7" r="7.4"/><circle cx="164.3" cy="1308.1" r="7.4"/><circle cx="180.4" cy="1272.2" r="7.4"/><circle cx="192.8" cy="1232.6" r="7.4"/><circle cx="203" cy="1207.4" r="7.4"/><circle cx="211.6" cy="1189.5" r="7.4"/><circle cx="219" cy="1171.5" r="7.4"/><circle cx="225.6" cy="1164.3" r="7.4"/><circle cx="231.5" cy="1157.1" r="7.4"/><circle cx="270.2" cy="1122.6" r="7.4"/><circle cx="292.8" cy="1140.9" r="7.4"/><circle cx="308.9" cy="1168.6" r="7.4"/><circle cx="321.3" cy="1193.1" r="7.4"/><circle cx="331.5" cy="1225.4" r="7.4"/><circle cx="340.1" cy="1236.2" r="7.4"/><circle cx="347.5" cy="1247" r="7.4"/><circle cx="354.1" cy="1257.8" r="7.4"/><circle cx="360" cy="1267.5" r="7.4"/><circle cx="398.7" cy="1315.3" r="7.4"/><circle cx="421.3" cy="1331.1" r="7.4"/><circle cx="437.4" cy="1340.1" r="7.4"/><circle cx="449.8" cy="1344" r="7.4"/><circle cx="460" cy="1346.2" r="7.4"/><circle cx="468.6" cy="1347.6" r="7.4"/><circle cx="476" cy="1347.6" r="7.4"/><circle cx="482.6" cy="1347.6" r="7.4"/><circle cx="488.5" cy="1347.6" r="7.4"/></g>
<path d="M103 1290.1L141.7 1324.6L164.3 1320L180.4 1271.1L192.8 1233.7L203 1195.9L211.6 1158.9L219 1178.7L225.6 1157.5L231.5 1140.6L270.2 1097.4L292.8 1122.6L308.9 1160L321.3 1193.8L331.5 1217.5L340.1 1234.4L347.5 1248.8L354.1 1262.4L360 1281.1L398.7 1318.9L421.3 1335.1L437.4 1345.1L449.8 1353.8L460 1355.9L468.6 1372.8L476 1372.8L482.6 1372.8L488.5 1372.8" fill="none" stroke="#3A6EA8" stroke-width="4.5" stroke-dasharray="18 7" clip-path="url(#cd)"/>
<g fill="#fff" stroke="#3A6EA8" stroke-width="4.6" clip-path="url(#cd)"><circle cx="103" cy="1290.1" r="7.4"/><circle cx="141.7" cy="1324.6" r="7.4"/><circle cx="164.3" cy="1320" r="7.4"/><circle cx="180.4" cy="1271.1" r="7.4"/><circle cx="192.8" cy="1233.7" r="7.4"/><circle cx="203" cy="1195.9" r="7.4"/><circle cx="211.6" cy="1158.9" r="7.4"/><circle cx="219" cy="1178.7" r="7.4"/><circle cx="225.6" cy="1157.5" r="7.4"/><circle cx="231.5" cy="1140.6" r="7.4"/><circle cx="270.2" cy="1097.4" r="7.4"/><circle cx="292.8" cy="1122.6" r="7.4"/><circle cx="308.9" cy="1160" r="7.4"/><circle cx="321.3" cy="1193.8" r="7.4"/><circle cx="331.5" cy="1217.5" r="7.4"/><circle cx="340.1" cy="1234.4" r="7.4"/><circle cx="347.5" cy="1248.8" r="7.4"/><circle cx="354.1" cy="1262.4" r="7.4"/><circle cx="360" cy="1281.1" r="7.4"/><circle cx="398.7" cy="1318.9" r="7.4"/><circle cx="421.3" cy="1335.1" r="7.4"/><circle cx="437.4" cy="1345.1" r="7.4"/><circle cx="449.8" cy="1353.8" r="7.4"/><circle cx="460" cy="1355.9" r="7.4"/><circle cx="468.6" cy="1372.8" r="7.4"/><circle cx="476" cy="1372.8" r="7.4"/><circle cx="482.6" cy="1372.8" r="7.4"/><circle cx="488.5" cy="1372.8" r="7.4"/></g>
<path d="M592 1371.6L630.7 1364.4L653.3 1289.4L669.3 1243L681.7 1207.3L691.9 1182.3L700.5 1171.6L708 1157.3L714.5 1153.7L720.4 1157.3L759.1 1171.6L781.7 1200.2L797.7 1228.7L810.1 1246.6L820.3 1264.4L828.9 1278.7L836.4 1293L842.9 1307.3L848.8 1314.4L887.5 1343L910.1 1353.7L926.1 1360.8L938.5 1364.4L948.7 1368L957.3 1368L964.8 1371.6L971.3 1371.6L977.2 1371.6" fill="none" stroke="#FFC000" stroke-width="4.5" stroke-dasharray="14 8" clip-path="url(#ce)"/>
<g fill="#fff" stroke="#FFC000" stroke-width="4.6" clip-path="url(#ce)"><circle cx="592" cy="1371.6" r="7.4"/><circle cx="630.7" cy="1364.4" r="7.4"/><circle cx="653.3" cy="1289.4" r="7.4"/><circle cx="669.3" cy="1243" r="7.4"/><circle cx="681.7" cy="1207.3" r="7.4"/><circle cx="691.9" cy="1182.3" r="7.4"/><circle cx="700.5" cy="1171.6" r="7.4"/><circle cx="708" cy="1157.3" r="7.4"/><circle cx="714.5" cy="1153.7" r="7.4"/><circle cx="720.4" cy="1157.3" r="7.4"/><circle cx="759.1" cy="1171.6" r="7.4"/><circle cx="781.7" cy="1200.2" r="7.4"/><circle cx="797.7" cy="1228.7" r="7.4"/><circle cx="810.1" cy="1246.6" r="7.4"/><circle cx="820.3" cy="1264.4" r="7.4"/><circle cx="828.9" cy="1278.7" r="7.4"/><circle cx="836.4" cy="1293" r="7.4"/><circle cx="842.9" cy="1307.3" r="7.4"/><circle cx="848.8" cy="1314.4" r="7.4"/><circle cx="887.5" cy="1343" r="7.4"/><circle cx="910.1" cy="1353.7" r="7.4"/><circle cx="926.1" cy="1360.8" r="7.4"/><circle cx="938.5" cy="1364.4" r="7.4"/><circle cx="948.7" cy="1368" r="7.4"/><circle cx="957.3" cy="1368" r="7.4"/><circle cx="964.8" cy="1371.6" r="7.4"/><circle cx="971.3" cy="1371.6" r="7.4"/><circle cx="977.2" cy="1371.6" r="7.4"/></g>
<path d="M592 1218L630.7 1325.1L653.3 1343L669.3 1278.7L681.7 1246.6L691.9 1221.6L700.5 1200.2L708 1182.3L714.5 1171.6L720.4 1164.4L759.1 1146.6L781.7 1164.4L797.7 1193L810.1 1214.4L820.3 1235.9L828.9 1253.7L836.4 1268L842.9 1282.3L848.8 1293L887.5 1332.3L910.1 1346.6L926.1 1353.7L938.5 1357.3L948.7 1360.8L957.3 1360.8L964.8 1364.4L971.3 1364.4L977.2 1364.4" fill="none" stroke="#3CB96A" stroke-width="4.5" stroke-dasharray="16 6" clip-path="url(#ce)"/>
<g fill="#fff" stroke="#3CB96A" stroke-width="4.6" clip-path="url(#ce)"><circle cx="592" cy="1218" r="7.4"/><circle cx="630.7" cy="1325.1" r="7.4"/><circle cx="653.3" cy="1343" r="7.4"/><circle cx="669.3" cy="1278.7" r="7.4"/><circle cx="681.7" cy="1246.6" r="7.4"/><circle cx="691.9" cy="1221.6" r="7.4"/><circle cx="700.5" cy="1200.2" r="7.4"/><circle cx="708" cy="1182.3" r="7.4"/><circle cx="714.5" cy="1171.6" r="7.4"/><circle cx="720.4" cy="1164.4" r="7.4"/><circle cx="759.1" cy="1146.6" r="7.4"/><circle cx="781.7" cy="1164.4" r="7.4"/><circle cx="797.7" cy="1193" r="7.4"/><circle cx="810.1" cy="1214.4" r="7.4"/><circle cx="820.3" cy="1235.9" r="7.4"/><circle cx="828.9" cy="1253.7" r="7.4"/><circle cx="836.4" cy="1268" r="7.4"/><circle cx="842.9" cy="1282.3" r="7.4"/><circle cx="848.8" cy="1293" r="7.4"/><circle cx="887.5" cy="1332.3" r="7.4"/><circle cx="910.1" cy="1346.6" r="7.4"/><circle cx="926.1" cy="1353.7" r="7.4"/><circle cx="938.5" cy="1357.3" r="7.4"/><circle cx="948.7" cy="1360.8" r="7.4"/><circle cx="957.3" cy="1360.8" r="7.4"/><circle cx="964.8" cy="1364.4" r="7.4"/><circle cx="971.3" cy="1364.4" r="7.4"/><circle cx="977.2" cy="1364.4" r="7.4"/></g>
<path d="M592 1185.9L630.7 1271.6L653.3 1357.3L669.3 1307.3L681.7 1275.1L691.9 1250.1L700.5 1228.7L708 1207.3L714.5 1189.4L720.4 1175.2L759.1 1128.7L781.7 1132.3L797.7 1157.3L810.1 1182.3L820.3 1203.7L828.9 1221.6L836.4 1239.4L842.9 1253.7L848.8 1271.6L887.5 1318L910.1 1335.8L926.1 1343L938.5 1350.1L948.7 1353.7L957.3 1353.7L964.8 1357.3L971.3 1357.3L977.2 1357.3" fill="none" stroke="#FF6666" stroke-width="4.5"  clip-path="url(#ce)"/>
<g fill="#fff" stroke="#FF6666" stroke-width="4.6" clip-path="url(#ce)"><circle cx="592" cy="1185.9" r="7.4"/><circle cx="630.7" cy="1271.6" r="7.4"/><circle cx="653.3" cy="1357.3" r="7.4"/><circle cx="669.3" cy="1307.3" r="7.4"/><circle cx="681.7" cy="1275.1" r="7.4"/><circle cx="691.9" cy="1250.1" r="7.4"/><circle cx="700.5" cy="1228.7" r="7.4"/><circle cx="708" cy="1207.3" r="7.4"/><circle cx="714.5" cy="1189.4" r="7.4"/><circle cx="720.4" cy="1175.2" r="7.4"/><circle cx="759.1" cy="1128.7" r="7.4"/><circle cx="781.7" cy="1132.3" r="7.4"/><circle cx="797.7" cy="1157.3" r="7.4"/><circle cx="810.1" cy="1182.3" r="7.4"/><circle cx="820.3" cy="1203.7" r="7.4"/><circle cx="828.9" cy="1221.6" r="7.4"/><circle cx="836.4" cy="1239.4" r="7.4"/><circle cx="842.9" cy="1253.7" r="7.4"/><circle cx="848.8" cy="1271.6" r="7.4"/><circle cx="887.5" cy="1318" r="7.4"/><circle cx="910.1" cy="1335.8" r="7.4"/><circle cx="926.1" cy="1343" r="7.4"/><circle cx="938.5" cy="1350.1" r="7.4"/><circle cx="948.7" cy="1353.7" r="7.4"/><circle cx="957.3" cy="1353.7" r="7.4"/><circle cx="964.8" cy="1357.3" r="7.4"/><circle cx="971.3" cy="1357.3" r="7.4"/><circle cx="977.2" cy="1357.3" r="7.4"/></g>
<path d="M592 1200.2L630.7 1332.3L653.3 1360.8L669.3 1307.3L681.7 1271.6L691.9 1246.6L700.5 1225.1L708 1203.7L714.5 1185.9L720.4 1171.6L759.1 1121.6L781.7 1121.6L797.7 1143L810.1 1168L820.3 1189.4L828.9 1207.3L836.4 1225.1L842.9 1239.4L848.8 1253.7L887.5 1310.9L910.1 1332.3L926.1 1339.4L938.5 1346.6L948.7 1350.1L957.3 1353.7L964.8 1353.7L971.3 1353.7L977.2 1353.7" fill="none" stroke="#A0A0A0" stroke-width="4.5"  clip-path="url(#ce)"/>
<g fill="#fff" stroke="#A0A0A0" stroke-width="4.6" clip-path="url(#ce)"><circle cx="592" cy="1200.2" r="7.4"/><circle cx="630.7" cy="1332.3" r="7.4"/><circle cx="653.3" cy="1360.8" r="7.4"/><circle cx="669.3" cy="1307.3" r="7.4"/><circle cx="681.7" cy="1271.6" r="7.4"/><circle cx="691.9" cy="1246.6" r="7.4"/><circle cx="700.5" cy="1225.1" r="7.4"/><circle cx="708" cy="1203.7" r="7.4"/><circle cx="714.5" cy="1185.9" r="7.4"/><circle cx="720.4" cy="1171.6" r="7.4"/><circle cx="759.1" cy="1121.6" r="7.4"/><circle cx="781.7" cy="1121.6" r="7.4"/><circle cx="797.7" cy="1143" r="7.4"/><circle cx="810.1" cy="1168" r="7.4"/><circle cx="820.3" cy="1189.4" r="7.4"/><circle cx="828.9" cy="1207.3" r="7.4"/><circle cx="836.4" cy="1225.1" r="7.4"/><circle cx="842.9" cy="1239.4" r="7.4"/><circle cx="848.8" cy="1253.7" r="7.4"/><circle cx="887.5" cy="1310.9" r="7.4"/><circle cx="910.1" cy="1332.3" r="7.4"/><circle cx="926.1" cy="1339.4" r="7.4"/><circle cx="938.5" cy="1346.6" r="7.4"/><circle cx="948.7" cy="1350.1" r="7.4"/><circle cx="957.3" cy="1353.7" r="7.4"/><circle cx="964.8" cy="1353.7" r="7.4"/><circle cx="971.3" cy="1353.7" r="7.4"/><circle cx="977.2" cy="1353.7" r="7.4"/></g>
<path d="M592 1353.7L630.7 1314.4L653.3 1360.8L669.3 1318L681.7 1278.7L691.9 1253.7L700.5 1228.7L708 1207.3L714.5 1182.3L720.4 1164.4L759.1 1110.9L781.7 1110.9L797.7 1128.7L810.1 1153.7L820.3 1175.2L828.9 1193L836.4 1207.3L842.9 1221.6L848.8 1235.9L887.5 1296.6L910.1 1321.6L926.1 1332.3L938.5 1339.4L948.7 1343L957.3 1346.6L964.8 1350.1L971.3 1350.1L977.2 1350.1" fill="none" stroke="#64649E" stroke-width="4.5"  clip-path="url(#ce)"/>
<g fill="#fff" stroke="#64649E" stroke-width="4.6" clip-path="url(#ce)"><circle cx="592" cy="1353.7" r="7.4"/><circle cx="630.7" cy="1314.4" r="7.4"/><circle cx="653.3" cy="1360.8" r="7.4"/><circle cx="669.3" cy="1318" r="7.4"/><circle cx="681.7" cy="1278.7" r="7.4"/><circle cx="691.9" cy="1253.7" r="7.4"/><circle cx="700.5" cy="1228.7" r="7.4"/><circle cx="708" cy="1207.3" r="7.4"/><circle cx="714.5" cy="1182.3" r="7.4"/><circle cx="720.4" cy="1164.4" r="7.4"/><circle cx="759.1" cy="1110.9" r="7.4"/><circle cx="781.7" cy="1110.9" r="7.4"/><circle cx="797.7" cy="1128.7" r="7.4"/><circle cx="810.1" cy="1153.7" r="7.4"/><circle cx="820.3" cy="1175.2" r="7.4"/><circle cx="828.9" cy="1193" r="7.4"/><circle cx="836.4" cy="1207.3" r="7.4"/><circle cx="842.9" cy="1221.6" r="7.4"/><circle cx="848.8" cy="1235.9" r="7.4"/><circle cx="887.5" cy="1296.6" r="7.4"/><circle cx="910.1" cy="1321.6" r="7.4"/><circle cx="926.1" cy="1332.3" r="7.4"/><circle cx="938.5" cy="1339.4" r="7.4"/><circle cx="948.7" cy="1343" r="7.4"/><circle cx="957.3" cy="1346.6" r="7.4"/><circle cx="964.8" cy="1350.1" r="7.4"/><circle cx="971.3" cy="1350.1" r="7.4"/><circle cx="977.2" cy="1350.1" r="7.4"/></g>
<path d="M592 1300.1L630.7 1300.1L653.3 1353.7L669.3 1307.3L681.7 1278.7L691.9 1250.1L700.5 1228.7L708 1210.9L714.5 1193L720.4 1178.7L759.1 1107.3L781.7 1103.7L797.7 1121.6L810.1 1150.2L820.3 1175.2L828.9 1200.2L836.4 1218L842.9 1232.3L848.8 1246.6L887.5 1300.1L910.1 1321.6L926.1 1332.3L938.5 1339.4L948.7 1343L957.3 1343L964.8 1344.8L971.3 1346.6L977.2 1346.6" fill="none" stroke="#EE0000" stroke-width="4.5"  clip-path="url(#ce)"/>
<g fill="#fff" stroke="#EE0000" stroke-width="4.6" clip-path="url(#ce)"><circle cx="592" cy="1300.1" r="7.4"/><circle cx="630.7" cy="1300.1" r="7.4"/><circle cx="653.3" cy="1353.7" r="7.4"/><circle cx="669.3" cy="1307.3" r="7.4"/><circle cx="681.7" cy="1278.7" r="7.4"/><circle cx="691.9" cy="1250.1" r="7.4"/><circle cx="700.5" cy="1228.7" r="7.4"/><circle cx="708" cy="1210.9" r="7.4"/><circle cx="714.5" cy="1193" r="7.4"/><circle cx="720.4" cy="1178.7" r="7.4"/><circle cx="759.1" cy="1107.3" r="7.4"/><circle cx="781.7" cy="1103.7" r="7.4"/><circle cx="797.7" cy="1121.6" r="7.4"/><circle cx="810.1" cy="1150.2" r="7.4"/><circle cx="820.3" cy="1175.2" r="7.4"/><circle cx="828.9" cy="1200.2" r="7.4"/><circle cx="836.4" cy="1218" r="7.4"/><circle cx="842.9" cy="1232.3" r="7.4"/><circle cx="848.8" cy="1246.6" r="7.4"/><circle cx="887.5" cy="1300.1" r="7.4"/><circle cx="910.1" cy="1321.6" r="7.4"/><circle cx="926.1" cy="1332.3" r="7.4"/><circle cx="938.5" cy="1339.4" r="7.4"/><circle cx="948.7" cy="1343" r="7.4"/><circle cx="957.3" cy="1343" r="7.4"/><circle cx="964.8" cy="1344.8" r="7.4"/><circle cx="971.3" cy="1346.6" r="7.4"/><circle cx="977.2" cy="1346.6" r="7.4"/></g>
<path d="M592 1300.1L630.7 1318L653.3 1364.4L669.3 1322.6L681.7 1293.7L691.9 1271.2L700.5 1252.6L708 1232.6L714.5 1216.2L720.4 1202.6L759.1 1122.7L781.7 1110.9L797.7 1132.3L810.1 1157.3L820.3 1178.7L828.9 1200.2L836.4 1218L842.9 1232.3L848.8 1246.6L887.5 1303.7L910.1 1325.1L926.1 1335.8L938.5 1343L948.7 1346.6L957.3 1350.1L964.8 1351.9L971.3 1353.7L977.2 1353.7" fill="none" stroke="#3A6EA8" stroke-width="4.5"  clip-path="url(#ce)"/>
<g fill="#fff" stroke="#3A6EA8" stroke-width="4.6" clip-path="url(#ce)"><circle cx="592" cy="1300.1" r="7.4"/><circle cx="630.7" cy="1318" r="7.4"/><circle cx="653.3" cy="1364.4" r="7.4"/><circle cx="669.3" cy="1322.6" r="7.4"/><circle cx="681.7" cy="1293.7" r="7.4"/><circle cx="691.9" cy="1271.2" r="7.4"/><circle cx="700.5" cy="1252.6" r="7.4"/><circle cx="708" cy="1232.6" r="7.4"/><circle cx="714.5" cy="1216.2" r="7.4"/><circle cx="720.4" cy="1202.6" r="7.4"/><circle cx="759.1" cy="1122.7" r="7.4"/><circle cx="781.7" cy="1110.9" r="7.4"/><circle cx="797.7" cy="1132.3" r="7.4"/><circle cx="810.1" cy="1157.3" r="7.4"/><circle cx="820.3" cy="1178.7" r="7.4"/><circle cx="828.9" cy="1200.2" r="7.4"/><circle cx="836.4" cy="1218" r="7.4"/><circle cx="842.9" cy="1232.3" r="7.4"/><circle cx="848.8" cy="1246.6" r="7.4"/><circle cx="887.5" cy="1303.7" r="7.4"/><circle cx="910.1" cy="1325.1" r="7.4"/><circle cx="926.1" cy="1335.8" r="7.4"/><circle cx="938.5" cy="1343" r="7.4"/><circle cx="948.7" cy="1346.6" r="7.4"/><circle cx="957.3" cy="1350.1" r="7.4"/><circle cx="964.8" cy="1351.9" r="7.4"/><circle cx="971.3" cy="1353.7" r="7.4"/><circle cx="977.2" cy="1353.7" r="7.4"/></g>
<path d="M592 1357.6L630.7 1317.6L653.3 1362.6L669.3 1315.1L681.7 1275.9L691.9 1252.6L700.5 1232.6L708 1213.7L714.5 1185.9L720.4 1167.7L759.1 1100.9L781.7 1105.9L797.7 1125.2L810.1 1147.7L820.3 1170.2L828.9 1191.2L836.4 1210.1L842.9 1225.5L848.8 1240.9L887.5 1301.9L910.1 1325.1L926.1 1335.1L938.5 1343.3L948.7 1346.6L957.3 1350.1L964.8 1351.9L971.3 1353.7L977.2 1353.7" fill="none" stroke="#3A6EA8" stroke-width="4.5"  clip-path="url(#ce)"/>
<g fill="#fff" stroke="#3A6EA8" stroke-width="4.6" clip-path="url(#ce)"><circle cx="592" cy="1357.6" r="7.4"/><circle cx="630.7" cy="1317.6" r="7.4"/><circle cx="653.3" cy="1362.6" r="7.4"/><circle cx="669.3" cy="1315.1" r="7.4"/><circle cx="681.7" cy="1275.9" r="7.4"/><circle cx="691.9" cy="1252.6" r="7.4"/><circle cx="700.5" cy="1232.6" r="7.4"/><circle cx="708" cy="1213.7" r="7.4"/><circle cx="714.5" cy="1185.9" r="7.4"/><circle cx="720.4" cy="1167.7" r="7.4"/><circle cx="759.1" cy="1100.9" r="7.4"/><circle cx="781.7" cy="1105.9" r="7.4"/><circle cx="797.7" cy="1125.2" r="7.4"/><circle cx="810.1" cy="1147.7" r="7.4"/><circle cx="820.3" cy="1170.2" r="7.4"/><circle cx="828.9" cy="1191.2" r="7.4"/><circle cx="836.4" cy="1210.1" r="7.4"/><circle cx="842.9" cy="1225.5" r="7.4"/><circle cx="848.8" cy="1240.9" r="7.4"/><circle cx="887.5" cy="1301.9" r="7.4"/><circle cx="910.1" cy="1325.1" r="7.4"/><circle cx="926.1" cy="1335.1" r="7.4"/><circle cx="938.5" cy="1343.3" r="7.4"/><circle cx="948.7" cy="1346.6" r="7.4"/><circle cx="957.3" cy="1350.1" r="7.4"/><circle cx="964.8" cy="1351.9" r="7.4"/><circle cx="971.3" cy="1353.7" r="7.4"/><circle cx="977.2" cy="1353.7" r="7.4"/></g>
<rect x="100.6" y="1090.6" width="389.8" height="4.6" fill="#000" />
<rect x="100.6" y="1378.1" width="389.8" height="4.6" fill="#000" />
<rect x="100.6" y="1090.6" width="4.4" height="292.1" fill="#000" />
<rect x="486" y="1090.6" width="4.4" height="292.1" fill="#000" />
<rect x="140.2" y="1373.1" width="3" height="5" fill="#000" />
<rect x="140.2" y="1095.2" width="3" height="5" fill="#000" />
<rect x="162.8" y="1373.1" width="3" height="5" fill="#000" />
<rect x="162.8" y="1095.2" width="3" height="5" fill="#000" />
<rect x="178.9" y="1373.1" width="3" height="5" fill="#000" />
<rect x="178.9" y="1095.2" width="3" height="5" fill="#000" />
<rect x="191.3" y="1373.1" width="3" height="5" fill="#000" />
<rect x="191.3" y="1095.2" width="3" height="5" fill="#000" />
<rect x="201.5" y="1373.1" width="3" height="5" fill="#000" />
<rect x="201.5" y="1095.2" width="3" height="5" fill="#000" />
<rect x="210.1" y="1373.1" width="3" height="5" fill="#000" />
<rect x="210.1" y="1095.2" width="3" height="5" fill="#000" />
<rect x="217.5" y="1373.1" width="3" height="5" fill="#000" />
<rect x="217.5" y="1095.2" width="3" height="5" fill="#000" />
<rect x="224.1" y="1373.1" width="3" height="5" fill="#000" />
<rect x="224.1" y="1095.2" width="3" height="5" fill="#000" />
<rect x="229.8" y="1369.1" width="3.4" height="9" fill="#000" />
<rect x="229.8" y="1095.2" width="3.4" height="9" fill="#000" />
<rect x="268.7" y="1373.1" width="3" height="5" fill="#000" />
<rect x="268.7" y="1095.2" width="3" height="5" fill="#000" />
<rect x="291.3" y="1373.1" width="3" height="5" fill="#000" />
<rect x="291.3" y="1095.2" width="3" height="5" fill="#000" />
<rect x="307.4" y="1373.1" width="3" height="5" fill="#000" />
<rect x="307.4" y="1095.2" width="3" height="5" fill="#000" />
<rect x="319.8" y="1373.1" width="3" height="5" fill="#000" />
<rect x="319.8" y="1095.2" width="3" height="5" fill="#000" />
<rect x="330" y="1373.1" width="3" height="5" fill="#000" />
<rect x="330" y="1095.2" width="3" height="5" fill="#000" />
<rect x="338.6" y="1373.1" width="3" height="5" fill="#000" />
<rect x="338.6" y="1095.2" width="3" height="5" fill="#000" />
<rect x="346" y="1373.1" width="3" height="5" fill="#000" />
<rect x="346" y="1095.2" width="3" height="5" fill="#000" />
<rect x="352.6" y="1373.1" width="3" height="5" fill="#000" />
<rect x="352.6" y="1095.2" width="3" height="5" fill="#000" />
<rect x="358.3" y="1369.1" width="3.4" height="9" fill="#000" />
<rect x="358.3" y="1095.2" width="3.4" height="9" fill="#000" />
<rect x="397.2" y="1373.1" width="3" height="5" fill="#000" />
<rect x="397.2" y="1095.2" width="3" height="5" fill="#000" />
<rect x="419.8" y="1373.1" width="3" height="5" fill="#000" />
<rect x="419.8" y="1095.2" width="3" height="5" fill="#000" />
<rect x="435.9" y="1373.1" width="3" height="5" fill="#000" />
<rect x="435.9" y="1095.2" width="3" height="5" fill="#000" />
<rect x="448.3" y="1373.1" width="3" height="5" fill="#000" />
<rect x="448.3" y="1095.2" width="3" height="5" fill="#000" />
<rect x="458.5" y="1373.1" width="3" height="5" fill="#000" />
<rect x="458.5" y="1095.2" width="3" height="5" fill="#000" />
<rect x="467.1" y="1373.1" width="3" height="5" fill="#000" />
<rect x="467.1" y="1095.2" width="3" height="5" fill="#000" />
<rect x="474.5" y="1373.1" width="3" height="5" fill="#000" />
<rect x="474.5" y="1095.2" width="3" height="5" fill="#000" />
<rect x="481.1" y="1373.1" width="3" height="5" fill="#000" />
<rect x="481.1" y="1095.2" width="3" height="5" fill="#000" />
<rect x="105" y="1306.3" width="9" height="3.6" fill="#000" />
<rect x="477" y="1306.3" width="9" height="3.6" fill="#000" />
<rect x="105" y="1234.4" width="9" height="3.6" fill="#000" />
<rect x="477" y="1234.4" width="9" height="3.6" fill="#000" />
<rect x="105" y="1162.5" width="9" height="3.6" fill="#000" />
<rect x="477" y="1162.5" width="9" height="3.6" fill="#000" />
<rect x="105" y="1342.5" width="5" height="3" fill="#000" />
<rect x="481" y="1342.5" width="5" height="3" fill="#000" />
<rect x="105" y="1270.7" width="5" height="3" fill="#000" />
<rect x="481" y="1270.7" width="5" height="3" fill="#000" />
<rect x="105" y="1198.8" width="5" height="3" fill="#000" />
<rect x="481" y="1198.8" width="5" height="3" fill="#000" />
<rect x="105" y="1126.8" width="5" height="3" fill="#000" />
<rect x="481" y="1126.8" width="5" height="3" fill="#000" />
<text x="88" y="1390.8" font-size="32" text-anchor="end" >0.0</text>
<text x="88" y="1318.9" font-size="32" text-anchor="end" >0.2</text>
<text x="88" y="1247" font-size="32" text-anchor="end" >0.4</text>
<text x="88" y="1175.1" font-size="32" text-anchor="end" >0.6</text>
<text x="88" y="1103.2" font-size="32" text-anchor="end" >0.8</text>
<text x="103" y="1417.5" font-size="32" text-anchor="middle" >1k</text>
<text x="231.5" y="1417.5" font-size="32" text-anchor="middle" >10k</text>
<text x="360" y="1417.5" font-size="32" text-anchor="middle" >100k</text>
<text x="488.5" y="1417.5" font-size="32" text-anchor="middle" >1M</text>
<rect x="589.5" y="1090.4" width="390.3" height="4.6" fill="#000" />
<rect x="589.5" y="1376.4" width="390.3" height="4.6" fill="#000" />
<rect x="589.5" y="1090.4" width="4.4" height="290.6" fill="#000" />
<rect x="975.4" y="1090.4" width="4.4" height="290.6" fill="#000" />
<rect x="629.2" y="1371.4" width="3" height="5" fill="#000" />
<rect x="629.2" y="1095" width="3" height="5" fill="#000" />
<rect x="651.8" y="1371.4" width="3" height="5" fill="#000" />
<rect x="651.8" y="1095" width="3" height="5" fill="#000" />
<rect x="667.8" y="1371.4" width="3" height="5" fill="#000" />
<rect x="667.8" y="1095" width="3" height="5" fill="#000" />
<rect x="680.2" y="1371.4" width="3" height="5" fill="#000" />
<rect x="680.2" y="1095" width="3" height="5" fill="#000" />
<rect x="690.4" y="1371.4" width="3" height="5" fill="#000" />
<rect x="690.4" y="1095" width="3" height="5" fill="#000" />
<rect x="699" y="1371.4" width="3" height="5" fill="#000" />
<rect x="699" y="1095" width="3" height="5" fill="#000" />
<rect x="706.5" y="1371.4" width="3" height="5" fill="#000" />
<rect x="706.5" y="1095" width="3" height="5" fill="#000" />
<rect x="713" y="1371.4" width="3" height="5" fill="#000" />
<rect x="713" y="1095" width="3" height="5" fill="#000" />
<rect x="718.7" y="1367.4" width="3.4" height="9" fill="#000" />
<rect x="718.7" y="1095" width="3.4" height="9" fill="#000" />
<rect x="757.6" y="1371.4" width="3" height="5" fill="#000" />
<rect x="757.6" y="1095" width="3" height="5" fill="#000" />
<rect x="780.2" y="1371.4" width="3" height="5" fill="#000" />
<rect x="780.2" y="1095" width="3" height="5" fill="#000" />
<rect x="796.2" y="1371.4" width="3" height="5" fill="#000" />
<rect x="796.2" y="1095" width="3" height="5" fill="#000" />
<rect x="808.6" y="1371.4" width="3" height="5" fill="#000" />
<rect x="808.6" y="1095" width="3" height="5" fill="#000" />
<rect x="818.8" y="1371.4" width="3" height="5" fill="#000" />
<rect x="818.8" y="1095" width="3" height="5" fill="#000" />
<rect x="827.4" y="1371.4" width="3" height="5" fill="#000" />
<rect x="827.4" y="1095" width="3" height="5" fill="#000" />
<rect x="834.9" y="1371.4" width="3" height="5" fill="#000" />
<rect x="834.9" y="1095" width="3" height="5" fill="#000" />
<rect x="841.4" y="1371.4" width="3" height="5" fill="#000" />
<rect x="841.4" y="1095" width="3" height="5" fill="#000" />
<rect x="847.1" y="1367.4" width="3.4" height="9" fill="#000" />
<rect x="847.1" y="1095" width="3.4" height="9" fill="#000" />
<rect x="886" y="1371.4" width="3" height="5" fill="#000" />
<rect x="886" y="1095" width="3" height="5" fill="#000" />
<rect x="908.6" y="1371.4" width="3" height="5" fill="#000" />
<rect x="908.6" y="1095" width="3" height="5" fill="#000" />
<rect x="924.6" y="1371.4" width="3" height="5" fill="#000" />
<rect x="924.6" y="1095" width="3" height="5" fill="#000" />
<rect x="937" y="1371.4" width="3" height="5" fill="#000" />
<rect x="937" y="1095" width="3" height="5" fill="#000" />
<rect x="947.2" y="1371.4" width="3" height="5" fill="#000" />
<rect x="947.2" y="1095" width="3" height="5" fill="#000" />
<rect x="955.8" y="1371.4" width="3" height="5" fill="#000" />
<rect x="955.8" y="1095" width="3" height="5" fill="#000" />
<rect x="963.3" y="1371.4" width="3" height="5" fill="#000" />
<rect x="963.3" y="1095" width="3" height="5" fill="#000" />
<rect x="969.8" y="1371.4" width="3" height="5" fill="#000" />
<rect x="969.8" y="1095" width="3" height="5" fill="#000" />
<rect x="593.9" y="1305.5" width="9" height="3.6" fill="#000" />
<rect x="966.4" y="1305.5" width="9" height="3.6" fill="#000" />
<rect x="593.9" y="1234.1" width="9" height="3.6" fill="#000" />
<rect x="966.4" y="1234.1" width="9" height="3.6" fill="#000" />
<rect x="593.9" y="1162.6" width="9" height="3.6" fill="#000" />
<rect x="966.4" y="1162.6" width="9" height="3.6" fill="#000" />
<rect x="593.9" y="1341.5" width="5" height="3" fill="#000" />
<rect x="970.4" y="1341.5" width="5" height="3" fill="#000" />
<rect x="593.9" y="1270.1" width="5" height="3" fill="#000" />
<rect x="970.4" y="1270.1" width="5" height="3" fill="#000" />
<rect x="593.9" y="1198.7" width="5" height="3" fill="#000" />
<rect x="970.4" y="1198.7" width="5" height="3" fill="#000" />
<rect x="593.9" y="1127.2" width="5" height="3" fill="#000" />
<rect x="970.4" y="1127.2" width="5" height="3" fill="#000" />
<text x="581" y="1389.5" font-size="32" text-anchor="end" >0.0</text>
<text x="581" y="1318.1" font-size="32" text-anchor="end" >0.2</text>
<text x="581" y="1246.7" font-size="32" text-anchor="end" >0.4</text>
<text x="581" y="1175.2" font-size="32" text-anchor="end" >0.6</text>
<text x="581" y="1103.8" font-size="32" text-anchor="end" >0.8</text>
<text x="592" y="1417.5" font-size="32" text-anchor="middle" >1k</text>
<text x="720.4" y="1417.5" font-size="32" text-anchor="middle" >10k</text>
<text x="848.8" y="1417.5" font-size="32" text-anchor="middle" >100k</text>
<text x="977.2" y="1417.5" font-size="32" text-anchor="middle" >1M</text>
<text x="286" y="1448" font-size="32" text-anchor="middle" >Frequency (Hz)</text>
<text x="771" y="1448" font-size="32" text-anchor="middle" >Frequency (Hz)</text>
<text font-size="31.3" text-anchor="middle" transform="translate(38 1236.9) rotate(-90)">Gp/ω (μF/cm<tspan font-size="0.69em" dy="-0.4em">2</tspan><tspan dy="0.4em">)</tspan></text>
<text font-size="31.3" text-anchor="middle" transform="translate(528 1236.9) rotate(-90)">Gp/ω (μF/cm<tspan font-size="0.69em" dy="-0.4em">2</tspan><tspan dy="0.4em">)</tspan></text>
<text x="-1" y="1102.3" font-size="43" text-anchor="start" >(d)</text>
<text x="491.5" y="1101" font-size="43" text-anchor="start" >(e)</text>
<line x1="256" y1="1262" x2="313.4" y2="1126.7" stroke="#000" stroke-width="5.5" />
<path d="M320 1111L320.3 1129.6L306.5 1123.7Z" fill="#000"/>
<line x1="773" y1="1238" x2="821.1" y2="1129.5" stroke="#000" stroke-width="5.5" />
<path d="M828 1114L828 1132.6L814.3 1126.5Z" fill="#000"/>
<text x="325.6" y="1128.4" font-size="27.9" text-anchor="start" >3.5V~5.25V</text>
<text x="326.3" y="1162" font-size="27.7" text-anchor="start" >Step:0.25V</text>
<text x="833" y="1129" font-size="28.6" text-anchor="start" >-6.5V~-8V</text>
<text x="833" y="1165" font-size="28.6" text-anchor="start" >Step:-0.25V</text></svg></body></html>
